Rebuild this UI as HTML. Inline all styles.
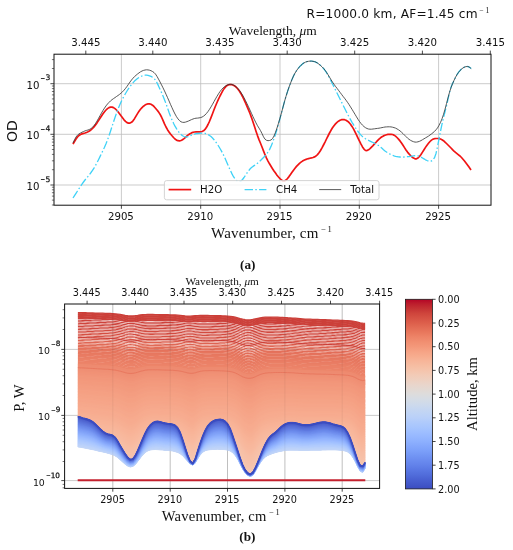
<!DOCTYPE html>
<html lang="en"><head><meta charset="utf-8"><title>Figure</title>
<style>
html,body{margin:0;padding:0;background:#fff;}
svg{display:block;}
.s{font-family:"DejaVu Sans","Liberation Sans",sans-serif;fill:#111;}
.f{font-family:"Liberation Serif","DejaVu Serif",serif;fill:#111;}
</style></head><body>
<svg width="513" height="550" viewBox="0 0 513 550">
<rect width="513" height="550" fill="#fff"/>
<g id="plot-a">
<g stroke="#bebebe" stroke-width="0.8"><line x1="121.4" y1="54.2" x2="121.4" y2="205.2"/><line x1="200.7" y1="54.2" x2="200.7" y2="205.2"/><line x1="280.0" y1="54.2" x2="280.0" y2="205.2"/><line x1="359.3" y1="54.2" x2="359.3" y2="205.2"/><line x1="438.6" y1="54.2" x2="438.6" y2="205.2"/><line x1="54.0" y1="83.7" x2="491.0" y2="83.7"/><line x1="54.0" y1="134.3" x2="491.0" y2="134.3"/><line x1="54.0" y1="185.0" x2="491.0" y2="185.0"/></g>
<clipPath id="c1"><rect x="54.0" y="54.2" width="437.0" height="151.0"/></clipPath>
<g clip-path="url(#c1)" fill="none" stroke-linejoin="round" stroke-linecap="butt">
<path d="M73 144.2L74.5 141.5L76 139L77.5 137L79 135.5L80.5 134.5L82 133.9L83.5 133.4L85 133L86.5 132.5L88 131.8L89.5 131L91 129.9L92.5 128.5L94 126.9L95.5 125L97 122.9L98.5 120.6L100 118.3L101.5 116L103 113.8L104.5 111.8L106 110L107.5 108.6L109 107.6L110.5 107.1L112 107.1L113.5 107.6L115 108.6L116.5 110L118 111.7L119.5 113.7L121 115.8L122.5 117.8L124 119.8L125.5 121.4L127 122.6L128.5 123.1L130 123.1L131.5 122.3L133 120.8L134.5 118.7L136 116.1L137.5 113.6L139 111.3L140.5 109.3L142 107.6L143.5 106.2L145 105.1L146.5 104.3L148 103.9L149.5 103.9L151 104.3L152.5 105.2L154 106.5L155.5 108.2L157 110L158.5 111.9L160 114.2L161.5 117L163 120.4L164.5 123.9L166 127L167.5 129.7L169 131.9L170.5 134L172 135.8L173.5 137.5L175 139L176.5 140.1L178 140.7L179.5 140.9L181 140.5L182.5 139.7L184 138.6L185.5 137.3L187 135.9L188.5 134.7L190 133.7L191.5 132.9L193 132.3L194.5 132L196 131.9L197.5 131.9L199 131.9L200.5 131.8L202 131.5L203.5 130.8L205 129.4L206.5 127.3L208 124.5L209.5 121.3L211 117.6L212.5 113.7L214 109.8L215.5 106L217 102.5L218.5 99.1L220 96L221.5 93.1L223 90.4L224.5 88.1L226 86.4L227.5 85.3L229 84.7L230.5 84.5L232 84.7L233.5 85.3L235 86.2L236.5 87.5L238 89.2L239.5 91.2L241 93.7L242.5 96.5L244 99.6L245.5 102.9L247 106.3L248.5 109.8L250 113.5L251.5 117.6L253 122L254.5 126.6L256 131.2L257.5 135.6L259 139.6L260.5 143.3L262 147L263.5 150.9L265 154.7L266.5 158.1L268 161.1L269.5 163.8L271 166.3L272.5 168.7L274 171L275.5 173.1L277 175.2L278.5 177L280 178.6L281.5 180L283 180.9L284.5 181L286 180.1L287.5 178.5L289 176.6L290.5 174.4L292 172.3L293.5 170.2L295 168.2L296.5 166.4L298 164.8L299.5 163.3L301 162.1L302.5 161.1L304 160.3L305.5 159.6L307 159L308.5 158.6L310 158.2L311.5 157.9L313 157.5L314.5 156.9L316 156L317.5 154.6L319 152.8L320.5 150.5L322 147.9L323.5 145L325 142.1L326.5 139L328 136L329.5 133L331 130.3L332.5 127.8L334 125.7L335.5 123.9L337 122.4L338.5 121.2L340 120.3L341.5 119.7L343 119.5L344.5 119.7L346 120.2L347.5 121.2L349 122.5L350.5 124.2L352 126.4L353.5 128.9L355 131.8L356.5 134.9L358 138.1L359.5 141.2L361 144.2L362.5 146.9L364 149.1L365.5 150.5L367 150.6L368.5 149.8L370 148.6L371.5 147.1L373 145.6L374.5 143.9L376 142.3L377.5 140.6L379 139.1L380.5 137.8L382 136.8L383.5 135.9L385 135.3L386.5 134.8L388 134.4L389.5 134.3L391 134.3L392.5 134.5L394 135.1L395.5 136.1L397 137.5L398.5 139.1L400 140.9L401.5 143L403 145.3L404.5 147.6L406 150L407.5 152.1L409 153.9L410.5 155.5L412 157L413.5 158.1L415 158.8L416.5 158.8L418 158L419.5 156.5L421 154.5L422.5 152.1L424 149.7L425.5 147.4L427 145.2L428.5 143.3L430 141.5L431.5 140.1L433 139.1L434.5 138.7L436 138.5L437.5 138.5L439 138.6L440.5 139L442 139.7L443.5 140.7L445 142.1L446.5 143.5L448 145L449.5 146.5L451 148L452.5 149.6L454 151.1L455.5 152.4L457 153.6L458.5 154.8L460 156L461.5 157.5L463 159.2L464.5 161L466 163L467.5 165L469 167.1L470.5 169.3L471 170" stroke="#f01414" stroke-width="1.7"/>
<path d="M73 198L74.5 195.7L76 193.3L77.5 191L79 188.7L80.5 186.3L82 184.1L83.5 182L85 180L86.5 178.2L88 176.4L89.5 174.5L91 172.5L92.5 170.4L94 168.1L95.5 165.5L97 162.7L98.5 159.7L100 156.6L101.5 153.5L103 150.4L104.5 147.2L106 143.8L107.5 140L109 135.8L110.5 131.3L112 126.6L113.5 122L115 117.5L116.5 113.2L118 109.2L119.5 105.5L121 102.1L122.5 99L124 96.2L125.5 93.5L127 91L128.5 88.7L130 86.5L131.5 84.5L133 82.7L134.5 81.1L136 79.7L137.5 78.5L139 77.5L140.5 76.7L142 76L143.5 75.5L145 75.2L146.5 75.2L148 75.4L149.5 75.8L151 76.4L152.5 77.2L154 78.3L155.5 80.2L157 82.8L158.5 85.9L160 89.2L161.5 92.5L163 96L164.5 99.7L166 103.7L167.5 107.9L169 112.2L170.5 116.2L172 119.9L173.5 123.2L175 126.2L176.5 128.7L178 131L179.5 132.9L181 134.4L182.5 135.7L184 136.5L185.5 137L187 136.9L188.5 136.5L190 135.8L191.5 135.1L193 134.5L194.5 134.1L196 133.7L197.5 133.5L199 133.3L200.5 133.1L202 133.1L203.5 133.2L205 133.4L206.5 133.8L208 134.5L209.5 135.4L211 136.5L212.5 138L214 139.7L215.5 141.6L217 143.8L218.5 146L220 148.5L221.5 151.1L223 154L224.5 157.1L226 160.4L227.5 163.9L229 167.4L230.5 170.7L232 173.9L233.5 176.7L235 178.9L236.5 180.5L238 181.4L239.5 181.5L241 180.9L242.5 179.5L244 177.5L245.5 175.3L247 173L248.5 170.9L250 169L251.5 167.6L253 166.4L254.5 165.4L256 164.4L257.5 163.2L259 161.9L260.5 160.5L262 159L263.5 157.5L265 156L266.5 154.2L268 152.2L269.5 149.6L271 146.4L272.5 142.7L274 138.6L275.5 134.2L277 129.4L278.5 124.1L280 118.6L281.5 112.9L283 107.1L284.5 101.5L286 96.3L287.5 91.6L289 87.2L290.5 83.2L292 79.4L293.5 76L295 73.1L296.5 70.7L298 68.6L299.5 66.8L301 65.3L302.5 63.9L304 62.9L305.5 62.1L307 61.6L308.5 61.3L310 61.1L311.5 61.1L313 61.3L314.5 61.6L316 62.2L317.5 63.1L319 64.2L320.5 65.4L322 66.8L323.5 68.5L325 70.4L326.5 72.6L328 75.2L329.5 78L331 80.9L332.5 84L334 87L335.5 90L337 93L338.5 96L340 99L341.5 102L343 105L344.5 108L346 111L347.5 114L349 116.9L350.5 119.6L352 122.3L353.5 124.7L355 127.1L356.5 129.3L358 131.5L359.5 133.4L361 135.1L362.5 136.6L364 137.8L365.5 138.8L367 139.7L368.5 140.4L370 141.1L371.5 141.8L373 142.5L374.5 143.2L376 144L377.5 144.9L379 145.8L380.5 147L382 148.3L383.5 149.7L385 150.9L386.5 152L388 152.9L389.5 153.8L391 154.5L392.5 155.2L394 155.8L395.5 156.3L397 156.6L398.5 156.9L400 157L401.5 157.1L403 157.1L404.5 157L406 156.9L407.5 156.7L409 156.6L410.5 156.4L412 156.1L413.5 155.8L415 155.6L416.5 155.6L418 155.9L419.5 156.4L421 157.1L422.5 158L424 158.9L425.5 159.8L427 160.5L428.5 161.1L430 161.3L431.5 161L433 160L434.5 157.7L436 153.5L437.5 146.9L439 138.9L440.5 131.3L442 124.2L443.5 117.6L445 111.8L446.5 105.9L448 99.1L449.5 92.4L451 87.3L452.5 83.6L454 80.5L455.5 77.4L457 74.7L458.5 72.4L460 70.5L461.5 69.1L463 67.9L464.5 67.1L466 66.6L467.5 66.5L469 66.9L470.5 68L471.2 68.6" stroke="#3fd2f7" stroke-width="1.3" stroke-dasharray="8.4 2.3 1.5 2.3"/>
<path d="M73 143L74.5 139.8L76 137L77.5 135.1L79 133.9L80.5 133L82 132.2L83.5 131.5L85 130.9L86.5 130.4L88 130L89.5 129.4L91 128.6L92.5 127.3L94 125.6L95.5 123.5L97 121.1L98.5 118.4L100 115.7L101.5 113L103 110.4L104.5 108.1L106 105.9L107.5 104L109 102.4L110.5 100.9L112 99.7L113.5 98.6L115 97.6L116.5 96.5L118 95.5L119.5 94.4L121 93.2L122.5 91.8L124 90.2L125.5 88.4L127 86.4L128.5 84.2L130 82L131.5 80L133 78.2L134.5 76.6L136 75.3L137.5 74L139 72.9L140.5 71.8L142 71L143.5 70.4L145 70L146.5 69.8L148 69.9L149.5 70.2L151 70.7L152.5 71.5L154 72.5L155.5 74.1L157 76.4L158.5 79.1L160 81.9L161.5 84.8L163 87.8L164.5 90.9L166 94.2L167.5 97.5L169 100.9L170.5 104.4L172 107.7L173.5 111L175 114L176.5 116.7L178 118.9L179.5 120.6L181 121.8L182.5 122.3L184 122.4L185.5 122.1L187 121.6L188.5 121L190 120.3L191.5 119.6L193 119L194.5 118.5L196 118.2L197.5 118.1L199 117.9L200.5 117.6L202 117.1L203.5 116.2L205 115L206.5 113.4L208 111.5L209.5 109.3L211 106.9L212.5 104.3L214 101.6L215.5 98.9L217 96.3L218.5 93.8L220 91.6L221.5 89.6L223 88L224.5 86.7L226 85.7L227.5 84.9L229 84.5L230.5 84.3L232 84.5L233.5 85.1L235 85.9L236.5 87.1L238 88.6L239.5 90.4L241 92.6L242.5 95L244 97.7L245.5 100.6L247 103.7L248.5 106.8L250 110.1L251.5 113.4L253 116.7L254.5 119.9L256 122.9L257.5 125.7L259 128.1L260.5 130.6L262 133.6L263.5 136.8L265 139.2L266.5 140.3L268 140.7L269.5 140.5L271 140L272.5 138.6L274 136L275.5 132.3L277 128L278.5 123.2L280 118.1L281.5 112.7L283 107.1L284.5 101.5L286 96.3L287.5 91.6L289 87.2L290.5 83.2L292 79.4L293.5 76L295 73.1L296.5 70.7L298 68.6L299.5 66.8L301 65.3L302.5 63.9L304 62.9L305.5 62.1L307 61.6L308.5 61.3L310 61.1L311.5 61.1L313 61.3L314.5 61.6L316 62.2L317.5 63.1L319 64.2L320.5 65.4L322 66.8L323.5 68.3L325 70.2L326.5 72.3L328 74.7L329.5 77.2L331 79.7L332.5 82.1L334 84.3L335.5 86.4L337 88.3L338.5 90.3L340 92.3L341.5 94.3L343 96.3L344.5 98.2L346 100.2L347.5 102.3L349 104.5L350.5 106.9L352 109.3L353.5 111.8L355 114.3L356.5 116.8L358 119.3L359.5 121.5L361 123.5L362.5 125.2L364 126.6L365.5 127.7L367 128.5L368.5 129L370 129.2L371.5 129.2L373 129L374.5 128.8L376 128.6L377.5 128.4L379 128.2L380.5 127.9L382 127.6L383.5 127.3L385 127L386.5 126.9L388 126.8L389.5 126.8L391 126.9L392.5 127.2L394 127.6L395.5 128.1L397 128.9L398.5 129.8L400 130.9L401.5 132.2L403 133.6L404.5 135.1L406 136.6L407.5 138.1L409 139.3L410.5 140.3L412 141.1L413.5 141.7L415 142.1L416.5 142.1L418 141.8L419.5 141.3L421 140.6L422.5 139.7L424 138.8L425.5 137.9L427 137L428.5 136.1L430 135L431.5 133.9L433 132.7L434.5 131.4L436 129.8L437.5 127.9L439 125.4L440.5 122.4L442 118.8L443.5 114.4L445 109.3L446.5 103.6L448 97.8L449.5 92.3L451 87.7L452.5 83.8L454 80.4L455.5 77.3L457 74.6L458.5 72.4L460 70.5L461.5 69.1L463 67.9L464.5 67.1L466 66.6L467.5 66.5L469 66.9L470.5 68L471.2 68.6" stroke="#333" stroke-width="0.9" stroke-opacity="0.9"/>
</g>
<rect x="164.4" y="180.6" width="214.6" height="19.2" rx="2.2" ry="2.2" fill="#fff" fill-opacity="0.8" stroke="#cfcfcf" stroke-width="0.9"/>
<line x1="168.6" y1="189.6" x2="191.2" y2="189.6" stroke="#f01414" stroke-width="1.7"/>
<line x1="244.6" y1="189.6" x2="266.4" y2="189.6" stroke="#3fd2f7" stroke-width="1.3" stroke-dasharray="8.4 2.3 1.5 2.3"/>
<line x1="319.2" y1="189.6" x2="341.2" y2="189.6" stroke="#333" stroke-width="0.9" stroke-opacity="0.9"/>
<g class="s" font-size="10.2"><text x="200" y="193.4">H2O</text><text x="276.1" y="193.4">CH4</text><text x="350.3" y="193.4">Total</text></g>
<rect x="54.0" y="54.2" width="437.0" height="151.0" fill="none" stroke="#111" stroke-width="1"/>
<g stroke="#1a1a1a" stroke-width="0.8"><line x1="121.4" y1="205.2" x2="121.4" y2="208.8"/><line x1="200.7" y1="205.2" x2="200.7" y2="208.8"/><line x1="280.0" y1="205.2" x2="280.0" y2="208.8"/><line x1="359.3" y1="205.2" x2="359.3" y2="208.8"/><line x1="438.6" y1="205.2" x2="438.6" y2="208.8"/><line x1="85.8" y1="54.2" x2="85.8" y2="50.6"/><line x1="152.8" y1="54.2" x2="152.8" y2="50.6"/><line x1="219.9" y1="54.2" x2="219.9" y2="50.6"/><line x1="287.2" y1="54.2" x2="287.2" y2="50.6"/><line x1="354.7" y1="54.2" x2="354.7" y2="50.6"/><line x1="422.4" y1="54.2" x2="422.4" y2="50.6"/><line x1="490.3" y1="54.2" x2="490.3" y2="50.6"/><line x1="54.0" y1="83.7" x2="50.4" y2="83.7"/><line x1="54.0" y1="134.3" x2="50.4" y2="134.3"/><line x1="54.0" y1="185.0" x2="50.4" y2="185.0"/></g><g stroke="#1a1a1a" stroke-width="0.6"><line x1="54.0" y1="68.5" x2="51.9" y2="68.5"/><line x1="54.0" y1="59.6" x2="51.9" y2="59.6"/><line x1="54.0" y1="119.1" x2="51.9" y2="119.1"/><line x1="54.0" y1="110.2" x2="51.9" y2="110.2"/><line x1="54.0" y1="103.8" x2="51.9" y2="103.8"/><line x1="54.0" y1="98.9" x2="51.9" y2="98.9"/><line x1="54.0" y1="94.9" x2="51.9" y2="94.9"/><line x1="54.0" y1="91.5" x2="51.9" y2="91.5"/><line x1="54.0" y1="88.6" x2="51.9" y2="88.6"/><line x1="54.0" y1="86.0" x2="51.9" y2="86.0"/><line x1="54.0" y1="169.7" x2="51.9" y2="169.7"/><line x1="54.0" y1="160.8" x2="51.9" y2="160.8"/><line x1="54.0" y1="154.4" x2="51.9" y2="154.4"/><line x1="54.0" y1="149.5" x2="51.9" y2="149.5"/><line x1="54.0" y1="145.5" x2="51.9" y2="145.5"/><line x1="54.0" y1="142.1" x2="51.9" y2="142.1"/><line x1="54.0" y1="139.2" x2="51.9" y2="139.2"/><line x1="54.0" y1="136.6" x2="51.9" y2="136.6"/><line x1="54.0" y1="205.0" x2="51.9" y2="205.0"/><line x1="54.0" y1="200.1" x2="51.9" y2="200.1"/><line x1="54.0" y1="196.1" x2="51.9" y2="196.1"/><line x1="54.0" y1="192.7" x2="51.9" y2="192.7"/><line x1="54.0" y1="189.8" x2="51.9" y2="189.8"/><line x1="54.0" y1="187.2" x2="51.9" y2="187.2"/></g>
<g class="s" font-size="10.2" text-anchor="middle"><text x="120.9" y="219.7">2905</text><text x="200.2" y="219.7">2910</text><text x="279.5" y="219.7">2915</text><text x="358.8" y="219.7">2920</text><text x="438.1" y="219.7">2925</text><text x="85.8" y="45.9">3.445</text><text x="152.8" y="45.9">3.440</text><text x="219.9" y="45.9">3.435</text><text x="287.2" y="45.9">3.430</text><text x="354.7" y="45.9">3.425</text><text x="422.4" y="45.9">3.420</text><text x="490.3" y="45.9">3.415</text></g>
<g class="s" font-size="10.2"><text x="26.5" y="88.6">10<tspan font-size="5.4" dx="1.1" dy="-8.6" stroke="#111" stroke-width="0.35">−</tspan><tspan font-size="7.6" dx="0.3" dy="0.4" stroke="#111" stroke-width="0.25">3</tspan></text><text x="26.5" y="139.2">10<tspan font-size="5.4" dx="1.1" dy="-8.6" stroke="#111" stroke-width="0.35">−</tspan><tspan font-size="7.6" dx="0.3" dy="0.4" stroke="#111" stroke-width="0.25">4</tspan></text><text x="26.5" y="189.9">10<tspan font-size="5.4" dx="1.1" dy="-8.6" stroke="#111" stroke-width="0.35">−</tspan><tspan font-size="7.6" dx="0.3" dy="0.4" stroke="#111" stroke-width="0.25">5</tspan></text></g>
<text class="s" font-size="14" text-anchor="middle" transform="translate(17.2 131.2) rotate(-90)">OD</text>
<text class="s" font-size="12.2" x="306.5" y="17.8" textLength="171" lengthAdjust="spacing">R=1000.0 km, AF=1.45 cm</text>
<text class="f" font-size="7.6" x="479.3" y="13.2" textLength="10" lengthAdjust="spacing">−1</text>
<text class="f" font-size="12.4" x="228.8" y="35.1" textLength="88" lengthAdjust="spacingAndGlyphs">Wavelength, <tspan font-style="italic">μ</tspan>m</text>
<text class="f" font-size="15" x="211.1" y="238.2" textLength="107.2" lengthAdjust="spacing">Wavenumber, cm</text>
<text class="f" font-size="8.6" x="321.2" y="232.3" textLength="10.6" lengthAdjust="spacing">−1</text>
<text class="f" font-size="13.2" font-weight="bold" x="247.7" y="269" text-anchor="middle">(a)</text>
</g>
<g id="plot-b">
<g stroke="#bebebe" stroke-width="0.8"><line x1="112.8" y1="304.0" x2="112.8" y2="488.4"/><line x1="170.2" y1="304.0" x2="170.2" y2="488.4"/><line x1="227.5" y1="304.0" x2="227.5" y2="488.4"/><line x1="284.9" y1="304.0" x2="284.9" y2="488.4"/><line x1="342.2" y1="304.0" x2="342.2" y2="488.4"/><line x1="64.6" y1="349.4" x2="379.6" y2="349.4"/><line x1="64.6" y1="415.4" x2="379.6" y2="415.4"/><line x1="64.6" y1="480.6" x2="379.6" y2="480.6"/></g>
<clipPath id="c2"><polygon points="77.7,310.0 80.2,310.1 82.7,310.1 85.2,310.2 87.7,310.3 90.2,310.4 92.7,310.4 95.2,310.5 97.7,310.6 100.2,310.6 102.7,310.7 105.2,310.8 107.7,310.9 110.2,311.0 112.7,311.1 115.2,311.3 117.7,311.6 120.2,311.9 122.7,312.3 125.2,312.8 127.7,313.1 130.2,313.3 132.7,313.3 135.2,313.1 137.7,312.8 140.2,312.5 142.7,312.2 145.2,312.0 147.7,312.0 150.2,311.9 152.7,312.0 155.2,312.0 157.7,312.1 160.2,312.1 162.7,312.2 165.2,312.2 167.7,312.3 170.2,312.3 172.7,312.4 175.2,312.5 177.7,312.6 180.2,312.8 182.7,313.1 185.2,313.4 187.7,313.6 190.2,313.6 192.7,313.4 195.2,313.2 197.7,313.0 200.2,312.9 202.7,312.9 205.2,312.9 207.7,313.0 210.2,313.0 212.7,313.1 215.2,313.1 217.7,313.2 220.2,313.2 222.7,313.3 225.2,313.4 227.7,313.6 230.2,313.8 232.7,314.2 235.2,314.7 237.7,315.4 240.2,316.1 242.7,316.8 245.2,317.3 247.7,317.5 250.2,317.3 252.7,316.9 255.2,316.4 257.7,315.8 260.2,315.3 262.7,314.9 265.2,314.7 267.7,314.6 270.2,314.6 272.7,314.6 275.2,314.7 277.7,314.8 280.2,314.8 282.7,315.0 285.2,315.1 287.7,315.2 290.2,315.3 292.7,315.5 295.2,315.7 297.7,315.9 300.2,316.1 302.7,316.3 305.2,316.5 307.7,316.6 310.2,316.7 312.7,316.8 315.2,316.9 317.7,316.9 320.2,317.0 322.7,317.1 325.2,317.2 327.7,317.3 330.2,317.4 332.7,317.5 335.2,317.6 337.7,317.7 340.2,317.8 342.7,317.9 345.2,318.0 347.7,318.1 350.2,318.3 352.7,318.5 355.2,319.0 357.7,319.6 360.2,320.3 362.7,320.8 365.2,320.8 365.3,320.8 365.3,462.8 365.2,463.0 362.7,466.6 360.2,466.0 357.7,460.6 355.2,453.1 352.7,445.3 350.2,438.4 347.7,433.0 345.2,429.3 342.7,427.3 340.2,426.4 337.7,425.8 335.2,425.2 332.7,424.5 330.2,423.7 327.7,423.1 325.2,422.7 322.7,422.7 320.2,423.0 317.7,423.5 315.2,424.1 312.7,424.7 310.2,425.2 307.7,425.5 305.2,425.5 302.7,425.3 300.2,424.7 297.7,424.0 295.2,423.5 292.7,423.2 290.2,423.2 287.7,423.6 285.2,424.5 282.7,426.1 280.2,428.1 277.7,430.7 275.2,433.0 272.7,434.8 270.2,436.9 267.7,440.2 265.2,444.7 262.7,450.3 260.2,456.5 257.7,462.8 255.2,468.6 252.7,473.2 250.2,474.8 247.7,473.7 245.2,470.5 242.7,465.4 240.2,458.6 237.7,450.9 235.2,443.4 232.7,435.9 230.2,429.0 227.7,424.5 225.2,421.9 222.7,420.4 220.2,419.9 217.7,420.1 215.2,420.7 212.7,421.8 210.2,423.6 207.7,426.4 205.2,430.7 202.7,436.4 200.2,443.3 197.7,451.1 195.2,459.4 192.7,463.8 190.2,461.6 187.7,455.6 185.2,447.9 182.7,439.8 180.2,432.8 177.7,428.3 175.2,425.9 172.7,424.8 170.2,424.3 167.7,424.1 165.2,423.7 162.7,423.1 160.2,422.4 157.7,421.9 155.2,422.2 152.7,423.4 150.2,425.5 147.7,428.8 145.2,433.4 142.7,439.0 140.2,445.0 137.7,450.9 135.2,456.2 132.7,459.6 130.2,460.0 127.7,457.9 125.2,454.3 122.7,450.2 120.2,446.0 117.7,441.5 115.2,437.9 112.7,435.9 110.2,435.2 107.7,434.6 105.2,433.5 102.7,431.7 100.2,429.4 97.7,426.9 95.2,424.4 92.7,422.3 90.2,420.9 87.7,419.9 85.2,419.2 82.7,418.5 80.2,417.7 77.7,417.0"/></clipPath>
<polygon points="77.7,362.7 80.2,362.8 82.7,362.9 85.2,363.1 87.7,363.2 90.2,363.3 92.7,363.4 95.2,363.6 97.7,363.7 100.2,363.8 102.7,364.0 105.2,364.1 107.7,364.2 110.2,364.4 112.7,364.6 115.2,364.9 117.7,365.4 120.2,366.0 122.7,366.6 125.2,367.3 127.7,367.8 130.2,368.1 132.7,368.0 135.2,367.6 137.7,366.9 140.2,366.2 142.7,365.6 145.2,365.2 147.7,364.9 150.2,364.8 152.7,364.8 155.2,364.8 157.7,364.8 160.2,364.9 162.7,365.0 165.2,365.1 167.7,365.1 170.2,365.2 172.7,365.3 175.2,365.4 177.7,365.7 180.2,366.0 182.7,366.5 185.2,367.1 187.7,367.6 190.2,367.9 192.7,367.9 195.2,367.5 197.7,366.8 200.2,366.3 202.7,365.9 205.2,365.7 207.7,365.7 210.2,365.7 212.7,365.7 215.2,365.7 217.7,365.8 220.2,365.8 222.7,365.9 225.2,366.0 227.7,366.2 230.2,366.6 232.7,367.1 235.2,367.9 237.7,368.9 240.2,370.2 242.7,371.4 245.2,372.2 247.7,372.7 250.2,372.8 252.7,372.3 255.2,371.3 257.7,370.2 260.2,369.3 262.7,368.6 265.2,368.1 267.7,367.8 270.2,367.6 272.7,367.6 275.2,367.5 277.7,367.5 280.2,367.5 282.7,367.5 285.2,367.6 287.7,367.7 290.2,367.8 292.7,368.0 295.2,368.1 297.7,368.3 300.2,368.5 302.7,368.7 305.2,368.8 307.7,368.9 310.2,369.0 312.7,369.1 315.2,369.1 317.7,369.2 320.2,369.3 322.7,369.3 325.2,369.4 327.7,369.5 330.2,369.6 332.7,369.7 335.2,369.8 337.7,369.9 340.2,370.0 342.7,370.1 345.2,370.2 347.7,370.5 350.2,370.8 352.7,371.5 355.2,372.4 357.7,373.6 360.2,374.7 362.7,375.3 365.2,374.8 365.3,374.8 365.3,462.7 365.2,462.9 362.7,466.5 360.2,465.9 357.7,460.5 355.2,453.0 352.7,445.2 350.2,438.3 347.7,432.9 345.2,429.2 342.7,427.2 340.2,426.3 337.7,425.7 335.2,425.1 332.7,424.4 330.2,423.6 327.7,423.0 325.2,422.6 322.7,422.6 320.2,422.9 317.7,423.4 315.2,424.0 312.7,424.6 310.2,425.1 307.7,425.4 305.2,425.4 302.7,425.2 300.2,424.6 297.7,423.9 295.2,423.4 292.7,423.1 290.2,423.1 287.7,423.5 285.2,424.4 282.7,426.0 280.2,428.0 277.7,430.6 275.2,432.9 272.7,434.7 270.2,436.8 267.7,440.1 265.2,444.6 262.7,450.2 260.2,456.4 257.7,462.7 255.2,468.5 252.7,473.1 250.2,474.7 247.7,473.6 245.2,470.4 242.7,465.3 240.2,458.5 237.7,450.8 235.2,443.3 232.7,435.8 230.2,428.9 227.7,424.4 225.2,421.8 222.7,420.3 220.2,419.8 217.7,420.0 215.2,420.6 212.7,421.7 210.2,423.5 207.7,426.3 205.2,430.6 202.7,436.3 200.2,443.2 197.7,451.0 195.2,459.3 192.7,463.7 190.2,461.5 187.7,455.5 185.2,447.8 182.7,439.7 180.2,432.7 177.7,428.2 175.2,425.8 172.7,424.7 170.2,424.2 167.7,424.0 165.2,423.6 162.7,423.0 160.2,422.3 157.7,421.8 155.2,422.1 152.7,423.3 150.2,425.4 147.7,428.7 145.2,433.3 142.7,438.9 140.2,444.9 137.7,450.8 135.2,456.1 132.7,459.5 130.2,459.9 127.7,457.8 125.2,454.2 122.7,450.1 120.2,445.9 117.7,441.4 115.2,437.8 112.7,435.8 110.2,435.1 107.7,434.5 105.2,433.4 102.7,431.6 100.2,429.3 97.7,426.8 95.2,424.3 92.7,422.2 90.2,420.8 87.7,419.8 85.2,419.1 82.7,418.4 80.2,417.6 77.7,416.9" fill="#f5a387" clip-path="url(#c2)"/>
<g clip-path="url(#c2)" fill="none" stroke-linejoin="round">
<path d="M77.7 312.5L80.2 312.6L82.7 312.6L85.2 312.7L87.7 312.8L90.2 312.8L92.7 312.9L95.2 313L97.7 313.1L100.2 313.1L102.7 313.2L105.2 313.3L107.7 313.4L110.2 313.4L112.7 313.6L115.2 313.8L117.7 314L120.2 314.4L122.7 314.8L125.2 315.3L127.7 315.6L130.2 315.8L132.7 315.8L135.2 315.6L137.7 315.3L140.2 314.9L142.7 314.7L145.2 314.5L147.7 314.4L150.2 314.4L152.7 314.4L155.2 314.5L157.7 314.5L160.2 314.6L162.7 314.6L165.2 314.7L167.7 314.7L170.2 314.8L172.7 314.8L175.2 314.9L177.7 315.1L180.2 315.3L182.7 315.6L185.2 315.9L187.7 316.1L190.2 316.1L192.7 315.9L195.2 315.7L197.7 315.5L200.2 315.4L202.7 315.4L205.2 315.4L207.7 315.4L210.2 315.5L212.7 315.5L215.2 315.6L217.7 315.6L220.2 315.7L222.7 315.8L225.2 315.9L227.7 316.1L230.2 316.3L232.7 316.7L235.2 317.2L237.7 317.8L240.2 318.6L242.7 319.2L245.2 319.7L247.7 319.9L250.2 319.8L252.7 319.4L255.2 318.8L257.7 318.3L260.2 317.8L262.7 317.4L265.2 317.2L267.7 317.1L270.2 317.1L272.7 317.1L275.2 317.2L277.7 317.2L280.2 317.3L282.7 317.4L285.2 317.5L287.7 317.7L290.2 317.8L292.7 318L295.2 318.2L297.7 318.4L300.2 318.6L302.7 318.8L305.2 319L307.7 319.1L310.2 319.2L312.7 319.3L315.2 319.4L317.7 319.4L320.2 319.5L322.7 319.6L325.2 319.7L327.7 319.8L330.2 319.9L332.7 320L335.2 320.1L337.7 320.2L340.2 320.3L342.7 320.4L345.2 320.5L347.7 320.6L350.2 320.8L352.7 321L355.2 321.5L357.7 322.1L360.2 322.8L362.7 323.2L365.2 323.3L365.3 323.3" stroke="#cb3e38" stroke-width="1.20"/>
<path d="M77.7 313.2L80.2 313.2L82.7 313.3L85.2 313.4L87.7 313.5L90.2 313.5L92.7 313.6L95.2 313.7L97.7 313.7L100.2 313.8L102.7 313.9L105.2 313.9L107.7 314L110.2 314.1L112.7 314.3L115.2 314.4L117.7 314.7L120.2 315.1L122.7 315.5L125.2 315.9L127.7 316.3L130.2 316.5L132.7 316.5L135.2 316.2L137.7 315.9L140.2 315.6L142.7 315.4L145.2 315.2L147.7 315.1L150.2 315.1L152.7 315.1L155.2 315.2L157.7 315.2L160.2 315.3L162.7 315.3L165.2 315.4L167.7 315.4L170.2 315.5L172.7 315.5L175.2 315.6L177.7 315.8L180.2 316L182.7 316.3L185.2 316.6L187.7 316.7L190.2 316.8L192.7 316.6L195.2 316.4L197.7 316.2L200.2 316.1L202.7 316.1L205.2 316.1L207.7 316.1L210.2 316.2L212.7 316.2L215.2 316.3L217.7 316.3L220.2 316.4L222.7 316.5L225.2 316.6L227.7 316.7L230.2 317L232.7 317.3L235.2 317.9L237.7 318.5L240.2 319.2L242.7 319.9L245.2 320.4L247.7 320.6L250.2 320.5L252.7 320.1L255.2 319.5L257.7 318.9L260.2 318.4L262.7 318.1L265.2 317.8L267.7 317.8L270.2 317.7L272.7 317.8L275.2 317.8L277.7 317.9L280.2 318L282.7 318.1L285.2 318.2L287.7 318.4L290.2 318.5L292.7 318.7L295.2 318.9L297.7 319.1L300.2 319.3L302.7 319.5L305.2 319.6L307.7 319.8L310.2 319.9L312.7 320L315.2 320L317.7 320.1L320.2 320.2L322.7 320.3L325.2 320.3L327.7 320.4L330.2 320.6L332.7 320.7L335.2 320.8L337.7 320.9L340.2 321L342.7 321.1L345.2 321.2L347.7 321.3L350.2 321.4L352.7 321.7L355.2 322.2L357.7 322.8L360.2 323.4L362.7 323.9L365.2 324L365.3 324" stroke="#cc403a" stroke-width="1.20"/>
<path d="M77.7 313.8L80.2 313.9L82.7 314L85.2 314.1L87.7 314.1L90.2 314.2L92.7 314.3L95.2 314.3L97.7 314.4L100.2 314.5L102.7 314.6L105.2 314.6L107.7 314.7L110.2 314.8L112.7 314.9L115.2 315.1L117.7 315.4L120.2 315.8L122.7 316.2L125.2 316.6L127.7 317L130.2 317.2L132.7 317.1L135.2 316.9L137.7 316.6L140.2 316.3L142.7 316L145.2 315.9L147.7 315.8L150.2 315.8L152.7 315.8L155.2 315.8L157.7 315.9L160.2 315.9L162.7 316L165.2 316L167.7 316.1L170.2 316.1L172.7 316.2L175.2 316.3L177.7 316.4L180.2 316.7L182.7 316.9L185.2 317.2L187.7 317.4L190.2 317.4L192.7 317.3L195.2 317.1L197.7 316.9L200.2 316.8L202.7 316.7L205.2 316.8L207.7 316.8L210.2 316.8L212.7 316.9L215.2 316.9L217.7 317L220.2 317.1L222.7 317.1L225.2 317.2L227.7 317.4L230.2 317.6L232.7 318L235.2 318.5L237.7 319.2L240.2 319.9L242.7 320.6L245.2 321.1L247.7 321.3L250.2 321.2L252.7 320.8L255.2 320.2L257.7 319.6L260.2 319.1L262.7 318.7L265.2 318.5L267.7 318.4L270.2 318.4L272.7 318.5L275.2 318.5L277.7 318.6L280.2 318.7L282.7 318.8L285.2 318.9L287.7 319L290.2 319.2L292.7 319.4L295.2 319.6L297.7 319.8L300.2 320L302.7 320.1L305.2 320.3L307.7 320.4L310.2 320.5L312.7 320.6L315.2 320.7L317.7 320.8L320.2 320.8L322.7 320.9L325.2 321L327.7 321.1L330.2 321.2L332.7 321.3L335.2 321.4L337.7 321.5L340.2 321.6L342.7 321.7L345.2 321.8L347.7 321.9L350.2 322.1L352.7 322.4L355.2 322.8L357.7 323.5L360.2 324.1L362.7 324.6L365.2 324.7L365.3 324.7" stroke="#cc403a" stroke-width="1.20"/>
<path d="M77.7 314.5L80.2 314.6L82.7 314.7L85.2 314.7L87.7 314.8L90.2 314.9L92.7 315L95.2 315L97.7 315.1L100.2 315.2L102.7 315.2L105.2 315.3L107.7 315.4L110.2 315.5L112.7 315.6L115.2 315.8L117.7 316.1L120.2 316.4L122.7 316.9L125.2 317.3L127.7 317.7L130.2 317.8L132.7 317.8L135.2 317.6L137.7 317.3L140.2 317L142.7 316.7L145.2 316.6L147.7 316.5L150.2 316.5L152.7 316.5L155.2 316.5L157.7 316.6L160.2 316.6L162.7 316.7L165.2 316.7L167.7 316.8L170.2 316.8L172.7 316.9L175.2 317L177.7 317.1L180.2 317.3L182.7 317.6L185.2 317.9L187.7 318.1L190.2 318.1L192.7 318L195.2 317.7L197.7 317.5L200.2 317.4L202.7 317.4L205.2 317.4L207.7 317.5L210.2 317.5L212.7 317.6L215.2 317.6L217.7 317.7L220.2 317.7L222.7 317.8L225.2 317.9L227.7 318.1L230.2 318.3L232.7 318.7L235.2 319.2L237.7 319.9L240.2 320.6L242.7 321.3L245.2 321.8L247.7 322L250.2 321.9L252.7 321.4L255.2 320.9L257.7 320.3L260.2 319.8L262.7 319.4L265.2 319.2L267.7 319.1L270.2 319.1L272.7 319.1L275.2 319.2L277.7 319.3L280.2 319.4L282.7 319.5L285.2 319.6L287.7 319.7L290.2 319.9L292.7 320L295.2 320.2L297.7 320.4L300.2 320.6L302.7 320.8L305.2 321L307.7 321.1L310.2 321.2L312.7 321.3L315.2 321.4L317.7 321.5L320.2 321.5L322.7 321.6L325.2 321.7L327.7 321.8L330.2 321.9L332.7 322L335.2 322.1L337.7 322.2L340.2 322.3L342.7 322.4L345.2 322.5L347.7 322.6L350.2 322.8L352.7 323.1L355.2 323.5L357.7 324.1L360.2 324.8L362.7 325.3L365.2 325.3L365.3 325.3" stroke="#cc403a" stroke-width="1.20"/>
<path d="M77.7 315.2L80.2 315.3L82.7 315.3L85.2 315.4L87.7 315.5L90.2 315.6L92.7 315.6L95.2 315.7L97.7 315.8L100.2 315.8L102.7 315.9L105.2 316L107.7 316.1L110.2 316.2L112.7 316.3L115.2 316.5L117.7 316.7L120.2 317.1L122.7 317.5L125.2 318L127.7 318.3L130.2 318.5L132.7 318.5L135.2 318.3L137.7 318L140.2 317.7L142.7 317.4L145.2 317.2L147.7 317.1L150.2 317.1L152.7 317.2L155.2 317.2L157.7 317.2L160.2 317.3L162.7 317.3L165.2 317.4L167.7 317.4L170.2 317.5L172.7 317.6L175.2 317.6L177.7 317.8L180.2 318L182.7 318.3L185.2 318.6L187.7 318.8L190.2 318.8L192.7 318.6L195.2 318.4L197.7 318.2L200.2 318.1L202.7 318.1L205.2 318.1L207.7 318.1L210.2 318.2L212.7 318.2L215.2 318.3L217.7 318.4L220.2 318.4L222.7 318.5L225.2 318.6L227.7 318.8L230.2 319L232.7 319.4L235.2 319.9L237.7 320.5L240.2 321.3L242.7 322L245.2 322.5L247.7 322.7L250.2 322.5L252.7 322.1L255.2 321.6L257.7 321L260.2 320.5L262.7 320.1L265.2 319.9L267.7 319.8L270.2 319.8L272.7 319.8L275.2 319.9L277.7 319.9L280.2 320L282.7 320.1L285.2 320.3L287.7 320.4L290.2 320.5L292.7 320.7L295.2 320.9L297.7 321.1L300.2 321.3L302.7 321.5L305.2 321.7L307.7 321.8L310.2 321.9L312.7 322L315.2 322.1L317.7 322.1L320.2 322.2L322.7 322.3L325.2 322.4L327.7 322.5L330.2 322.6L332.7 322.7L335.2 322.8L337.7 322.9L340.2 323L342.7 323.1L345.2 323.2L347.7 323.3L350.2 323.5L352.7 323.7L355.2 324.2L357.7 324.8L360.2 325.5L362.7 326L365.2 326L365.3 326" stroke="#cc403a" stroke-width="1.20"/>
<path d="M77.7 315.9L80.2 315.9L82.7 316L85.2 316.1L87.7 316.2L90.2 316.2L92.7 316.3L95.2 316.4L97.7 316.4L100.2 316.5L102.7 316.6L105.2 316.7L107.7 316.7L110.2 316.8L112.7 317L115.2 317.2L117.7 317.4L120.2 317.8L122.7 318.2L125.2 318.7L127.7 319L130.2 319.2L132.7 319.2L135.2 319L137.7 318.6L140.2 318.3L142.7 318.1L145.2 317.9L147.7 317.8L150.2 317.8L152.7 317.8L155.2 317.9L157.7 317.9L160.2 318L162.7 318L165.2 318.1L167.7 318.1L170.2 318.2L172.7 318.2L175.2 318.3L177.7 318.5L180.2 318.7L182.7 319L185.2 319.3L187.7 319.5L190.2 319.5L192.7 319.3L195.2 319.1L197.7 318.9L200.2 318.8L202.7 318.8L205.2 318.8L207.7 318.8L210.2 318.9L212.7 318.9L215.2 319L217.7 319L220.2 319.1L222.7 319.2L225.2 319.3L227.7 319.4L230.2 319.7L232.7 320.1L235.2 320.6L237.7 321.2L240.2 322L242.7 322.6L245.2 323.1L247.7 323.3L250.2 323.2L252.7 322.8L255.2 322.2L257.7 321.6L260.2 321.1L262.7 320.8L265.2 320.6L267.7 320.5L270.2 320.4L272.7 320.5L275.2 320.5L277.7 320.6L280.2 320.7L282.7 320.8L285.2 320.9L287.7 321.1L290.2 321.2L292.7 321.4L295.2 321.6L297.7 321.8L300.2 322L302.7 322.2L305.2 322.3L307.7 322.5L310.2 322.6L312.7 322.7L315.2 322.7L317.7 322.8L320.2 322.9L322.7 323L325.2 323.1L327.7 323.2L330.2 323.3L332.7 323.4L335.2 323.5L337.7 323.6L340.2 323.7L342.7 323.8L345.2 323.9L347.7 324L350.2 324.1L352.7 324.4L355.2 324.9L357.7 325.5L360.2 326.2L362.7 326.6L365.2 326.7L365.3 326.7" stroke="#cc403a" stroke-width="1.20"/>
<path d="M77.7 316.5L80.2 316.6L82.7 316.7L85.2 316.8L87.7 316.8L90.2 316.9L92.7 317L95.2 317.1L97.7 317.1L100.2 317.2L102.7 317.3L105.2 317.3L107.7 317.4L110.2 317.5L112.7 317.6L115.2 317.8L117.7 318.1L120.2 318.5L122.7 318.9L125.2 319.3L127.7 319.7L130.2 319.9L132.7 319.9L135.2 319.6L137.7 319.3L140.2 319L142.7 318.7L145.2 318.6L147.7 318.5L150.2 318.5L152.7 318.5L155.2 318.6L157.7 318.6L160.2 318.6L162.7 318.7L165.2 318.8L167.7 318.8L170.2 318.9L172.7 318.9L175.2 319L177.7 319.1L180.2 319.4L182.7 319.7L185.2 320L187.7 320.1L190.2 320.1L192.7 320L195.2 319.8L197.7 319.6L200.2 319.5L202.7 319.4L205.2 319.5L207.7 319.5L210.2 319.5L212.7 319.6L215.2 319.6L217.7 319.7L220.2 319.8L222.7 319.8L225.2 320L227.7 320.1L230.2 320.4L232.7 320.7L235.2 321.2L237.7 321.9L240.2 322.6L242.7 323.3L245.2 323.8L247.7 324L250.2 323.9L252.7 323.5L255.2 322.9L257.7 322.3L260.2 321.8L262.7 321.5L265.2 321.2L267.7 321.1L270.2 321.1L272.7 321.2L275.2 321.2L277.7 321.3L280.2 321.4L282.7 321.5L285.2 321.6L287.7 321.7L290.2 321.9L292.7 322.1L295.2 322.3L297.7 322.5L300.2 322.7L302.7 322.8L305.2 323L307.7 323.1L310.2 323.3L312.7 323.3L315.2 323.4L317.7 323.5L320.2 323.6L322.7 323.6L325.2 323.7L327.7 323.8L330.2 323.9L332.7 324L335.2 324.2L337.7 324.3L340.2 324.4L342.7 324.4L345.2 324.5L347.7 324.7L350.2 324.8L352.7 325.1L355.2 325.5L357.7 326.2L360.2 326.8L362.7 327.3L365.2 327.4L365.3 327.4" stroke="#cc403a" stroke-width="1.20"/>
<path d="M77.7 317.2L80.2 317.3L82.7 317.4L85.2 317.4L87.7 317.5L90.2 317.6L92.7 317.7L95.2 317.7L97.7 317.8L100.2 317.9L102.7 317.9L105.2 318L107.7 318.1L110.2 318.2L112.7 318.3L115.2 318.5L117.7 318.8L120.2 319.1L122.7 319.6L125.2 320L127.7 320.4L130.2 320.6L132.7 320.5L135.2 320.3L137.7 320L140.2 319.7L142.7 319.4L145.2 319.3L147.7 319.2L150.2 319.2L152.7 319.2L155.2 319.2L157.7 319.3L160.2 319.3L162.7 319.4L165.2 319.4L167.7 319.5L170.2 319.5L172.7 319.6L175.2 319.7L177.7 319.8L180.2 320L182.7 320.3L185.2 320.6L187.7 320.8L190.2 320.8L192.7 320.7L195.2 320.5L197.7 320.3L200.2 320.2L202.7 320.1L205.2 320.1L207.7 320.2L210.2 320.2L212.7 320.3L215.2 320.3L217.7 320.4L220.2 320.4L222.7 320.5L225.2 320.6L227.7 320.8L230.2 321L232.7 321.4L235.2 321.9L237.7 322.6L240.2 323.3L242.7 324L245.2 324.5L247.7 324.7L250.2 324.6L252.7 324.2L255.2 323.6L257.7 323L260.2 322.5L262.7 322.1L265.2 321.9L267.7 321.8L270.2 321.8L272.7 321.8L275.2 321.9L277.7 322L280.2 322.1L282.7 322.2L285.2 322.3L287.7 322.4L290.2 322.6L292.7 322.7L295.2 322.9L297.7 323.1L300.2 323.3L302.7 323.5L305.2 323.7L307.7 323.8L310.2 323.9L312.7 324L315.2 324.1L317.7 324.2L320.2 324.2L322.7 324.3L325.2 324.4L327.7 324.5L330.2 324.6L332.7 324.7L335.2 324.8L337.7 324.9L340.2 325L342.7 325.1L345.2 325.2L347.7 325.3L350.2 325.5L352.7 325.8L355.2 326.2L357.7 326.8L360.2 327.5L362.7 328L365.2 328.1L365.3 328.1" stroke="#cc403a" stroke-width="1.20"/>
<path d="M77.7 317.9L80.2 318L82.7 318L85.2 318.1L87.7 318.2L90.2 318.3L92.7 318.3L95.2 318.4L97.7 318.5L100.2 318.6L102.7 318.6L105.2 318.7L107.7 318.8L110.2 318.9L112.7 319L115.2 319.2L117.7 319.5L120.2 319.8L122.7 320.3L125.2 320.7L127.7 321.1L130.2 321.2L132.7 321.2L135.2 321L137.7 320.7L140.2 320.4L142.7 320.1L145.2 319.9L147.7 319.9L150.2 319.8L152.7 319.9L155.2 319.9L157.7 320L160.2 320L162.7 320.1L165.2 320.1L167.7 320.2L170.2 320.2L172.7 320.3L175.2 320.4L177.7 320.5L180.2 320.7L182.7 321L185.2 321.3L187.7 321.5L190.2 321.5L192.7 321.4L195.2 321.1L197.7 320.9L200.2 320.8L202.7 320.8L205.2 320.8L207.7 320.9L210.2 320.9L212.7 321L215.2 321L217.7 321.1L220.2 321.1L222.7 321.2L225.2 321.3L227.7 321.5L230.2 321.7L232.7 322.1L235.2 322.6L237.7 323.3L240.2 324L242.7 324.7L245.2 325.2L247.7 325.4L250.2 325.3L252.7 324.9L255.2 324.3L257.7 323.7L260.2 323.2L262.7 322.8L265.2 322.6L267.7 322.5L270.2 322.5L272.7 322.5L275.2 322.6L277.7 322.7L280.2 322.7L282.7 322.8L285.2 323L287.7 323.1L290.2 323.2L292.7 323.4L295.2 323.6L297.7 323.8L300.2 324L302.7 324.2L305.2 324.4L307.7 324.5L310.2 324.6L312.7 324.7L315.2 324.8L317.7 324.8L320.2 324.9L322.7 325L325.2 325.1L327.7 325.2L330.2 325.3L332.7 325.4L335.2 325.5L337.7 325.6L340.2 325.7L342.7 325.8L345.2 325.9L347.7 326L350.2 326.2L352.7 326.4L355.2 326.9L357.7 327.5L360.2 328.2L362.7 328.7L365.2 328.7L365.3 328.7" stroke="#cc403a" stroke-width="1.20"/>
<path d="M77.7 318.6L80.2 318.7L82.7 318.7L85.2 318.8L87.7 318.9L90.2 318.9L92.7 319L95.2 319.1L97.7 319.2L100.2 319.2L102.7 319.3L105.2 319.4L107.7 319.5L110.2 319.5L112.7 319.7L115.2 319.9L117.7 320.1L120.2 320.5L122.7 320.9L125.2 321.4L127.7 321.7L130.2 321.9L132.7 321.9L135.2 321.7L137.7 321.4L140.2 321L142.7 320.8L145.2 320.6L147.7 320.5L150.2 320.5L152.7 320.5L155.2 320.6L157.7 320.6L160.2 320.7L162.7 320.7L165.2 320.8L167.7 320.8L170.2 320.9L172.7 320.9L175.2 321L177.7 321.2L180.2 321.4L182.7 321.7L185.2 322L187.7 322.2L190.2 322.2L192.7 322L195.2 321.8L197.7 321.6L200.2 321.5L202.7 321.5L205.2 321.5L207.7 321.5L210.2 321.6L212.7 321.6L215.2 321.7L217.7 321.7L220.2 321.8L222.7 321.9L225.2 322L227.7 322.1L230.2 322.4L232.7 322.8L235.2 323.3L237.7 323.9L240.2 324.7L242.7 325.4L245.2 325.9L247.7 326.1L250.2 325.9L252.7 325.5L255.2 325L257.7 324.4L260.2 323.9L262.7 323.5L265.2 323.3L267.7 323.2L270.2 323.2L272.7 323.2L275.2 323.3L277.7 323.3L280.2 323.4L282.7 323.5L285.2 323.6L287.7 323.8L290.2 323.9L292.7 324.1L295.2 324.3L297.7 324.5L300.2 324.7L302.7 324.9L305.2 325L307.7 325.2L310.2 325.3L312.7 325.4L315.2 325.4L317.7 325.5L320.2 325.6L322.7 325.7L325.2 325.8L327.7 325.9L330.2 326L332.7 326.1L335.2 326.2L337.7 326.3L340.2 326.4L342.7 326.5L345.2 326.6L347.7 326.7L350.2 326.8L352.7 327.1L355.2 327.6L357.7 328.2L360.2 328.9L362.7 329.4L365.2 329.4L365.3 329.4" stroke="#cc403a" stroke-width="1.20"/>
<path d="M77.7 320.2L80.2 320.3L82.7 320.4L85.2 320.4L87.7 320.5L90.2 320.6L92.7 320.7L95.2 320.7L97.7 320.8L100.2 320.9L102.7 321L105.2 321L107.7 321.1L110.2 321.2L112.7 321.3L115.2 321.5L117.7 321.8L120.2 322.2L122.7 322.6L125.2 323L127.7 323.4L130.2 323.6L132.7 323.6L135.2 323.3L137.7 323L140.2 322.7L142.7 322.4L145.2 322.3L147.7 322.2L150.2 322.2L152.7 322.2L155.2 322.2L157.7 322.3L160.2 322.3L162.7 322.4L165.2 322.4L167.7 322.5L170.2 322.5L172.7 322.6L175.2 322.7L177.7 322.8L180.2 323L182.7 323.3L185.2 323.6L187.7 323.8L190.2 323.9L192.7 323.7L195.2 323.5L197.7 323.3L200.2 323.2L202.7 323.1L205.2 323.1L207.7 323.2L210.2 323.2L212.7 323.3L215.2 323.3L217.7 323.4L220.2 323.4L222.7 323.5L225.2 323.6L227.7 323.8L230.2 324L232.7 324.4L235.2 324.9L237.7 325.6L240.2 326.3L242.7 327L245.2 327.5L247.7 327.7L250.2 327.6L252.7 327.2L255.2 326.6L257.7 326L260.2 325.5L262.7 325.1L265.2 324.9L267.7 324.8L270.2 324.8L272.7 324.8L275.2 324.9L277.7 325L280.2 325.1L282.7 325.2L285.2 325.3L287.7 325.4L290.2 325.6L292.7 325.7L295.2 325.9L297.7 326.1L300.2 326.3L302.7 326.5L305.2 326.7L307.7 326.8L310.2 326.9L312.7 327L315.2 327.1L317.7 327.2L320.2 327.2L322.7 327.3L325.2 327.4L327.7 327.5L330.2 327.6L332.7 327.7L335.2 327.8L337.7 327.9L340.2 328L342.7 328.1L345.2 328.2L347.7 328.3L350.2 328.5L352.7 328.8L355.2 329.2L357.7 329.9L360.2 330.5L362.7 331L365.2 331.1L365.3 331.1" stroke="#cd423b" stroke-width="1.08"/>
<path d="M77.7 321.8L80.2 321.9L82.7 321.9L85.2 322L87.7 322.1L90.2 322.1L92.7 322.2L95.2 322.3L97.7 322.4L100.2 322.4L102.7 322.5L105.2 322.6L107.7 322.7L110.2 322.8L112.7 322.9L115.2 323.1L117.7 323.4L120.2 323.7L122.7 324.2L125.2 324.6L127.7 325L130.2 325.2L132.7 325.1L135.2 324.9L137.7 324.6L140.2 324.3L142.7 324L145.2 323.8L147.7 323.7L150.2 323.7L152.7 323.7L155.2 323.8L157.7 323.8L160.2 323.9L162.7 323.9L165.2 324L167.7 324L170.2 324.1L172.7 324.1L175.2 324.2L177.7 324.4L180.2 324.6L182.7 324.9L185.2 325.2L187.7 325.4L190.2 325.4L192.7 325.3L195.2 325L197.7 324.8L200.2 324.7L202.7 324.7L205.2 324.7L207.7 324.7L210.2 324.8L212.7 324.8L215.2 324.9L217.7 324.9L220.2 325L222.7 325.1L225.2 325.2L227.7 325.3L230.2 325.6L232.7 326L235.2 326.5L237.7 327.2L240.2 327.9L242.7 328.6L245.2 329.1L247.7 329.3L250.2 329.2L252.7 328.8L255.2 328.2L257.7 327.6L260.2 327.1L262.7 326.7L265.2 326.5L267.7 326.4L270.2 326.4L272.7 326.4L275.2 326.5L277.7 326.5L280.2 326.6L282.7 326.7L285.2 326.8L287.7 327L290.2 327.1L292.7 327.3L295.2 327.5L297.7 327.7L300.2 327.9L302.7 328.1L305.2 328.2L307.7 328.4L310.2 328.5L312.7 328.6L315.2 328.6L317.7 328.7L320.2 328.8L322.7 328.9L325.2 328.9L327.7 329L330.2 329.2L332.7 329.3L335.2 329.4L337.7 329.5L340.2 329.6L342.7 329.7L345.2 329.8L347.7 329.9L350.2 330L352.7 330.3L355.2 330.8L357.7 331.4L360.2 332.1L362.7 332.6L365.2 332.6L365.3 332.6" stroke="#cd423b" stroke-width="1.08"/>
<path d="M77.7 323.3L80.2 323.4L82.7 323.5L85.2 323.6L87.7 323.6L90.2 323.7L92.7 323.8L95.2 323.8L97.7 323.9L100.2 324L102.7 324.1L105.2 324.1L107.7 324.2L110.2 324.3L112.7 324.5L115.2 324.6L117.7 324.9L120.2 325.3L122.7 325.7L125.2 326.2L127.7 326.5L130.2 326.7L132.7 326.7L135.2 326.5L137.7 326.2L140.2 325.8L142.7 325.6L145.2 325.4L147.7 325.3L150.2 325.3L152.7 325.3L155.2 325.3L157.7 325.4L160.2 325.4L162.7 325.5L165.2 325.5L167.7 325.6L170.2 325.6L172.7 325.7L175.2 325.8L177.7 325.9L180.2 326.2L182.7 326.5L185.2 326.8L187.7 327L190.2 327L192.7 326.8L195.2 326.6L197.7 326.4L200.2 326.3L202.7 326.2L205.2 326.2L207.7 326.3L210.2 326.3L212.7 326.4L215.2 326.4L217.7 326.5L220.2 326.5L222.7 326.6L225.2 326.7L227.7 326.9L230.2 327.1L232.7 327.5L235.2 328L237.7 328.7L240.2 329.5L242.7 330.2L245.2 330.7L247.7 330.9L250.2 330.8L252.7 330.4L255.2 329.8L257.7 329.2L260.2 328.6L262.7 328.3L265.2 328L267.7 327.9L270.2 327.9L272.7 328L275.2 328L277.7 328.1L280.2 328.2L282.7 328.3L285.2 328.4L287.7 328.5L290.2 328.7L292.7 328.8L295.2 329L297.7 329.2L300.2 329.4L302.7 329.6L305.2 329.8L307.7 329.9L310.2 330L312.7 330.1L315.2 330.2L317.7 330.3L320.2 330.3L322.7 330.4L325.2 330.5L327.7 330.6L330.2 330.7L332.7 330.8L335.2 330.9L337.7 331L340.2 331.1L342.7 331.2L345.2 331.3L347.7 331.4L350.2 331.6L352.7 331.9L355.2 332.3L357.7 333L360.2 333.7L362.7 334.2L365.2 334.2L365.3 334.2" stroke="#cf453c" stroke-width="1.08"/>
<path d="M77.7 324.9L80.2 325L82.7 325L85.2 325.1L87.7 325.2L90.2 325.3L92.7 325.3L95.2 325.4L97.7 325.5L100.2 325.6L102.7 325.6L105.2 325.7L107.7 325.8L110.2 325.9L112.7 326L115.2 326.2L117.7 326.5L120.2 326.9L122.7 327.3L125.2 327.8L127.7 328.1L130.2 328.3L132.7 328.3L135.2 328.1L137.7 327.7L140.2 327.4L142.7 327.1L145.2 326.9L147.7 326.9L150.2 326.8L152.7 326.9L155.2 326.9L157.7 326.9L160.2 327L162.7 327L165.2 327.1L167.7 327.1L170.2 327.2L172.7 327.3L175.2 327.3L177.7 327.5L180.2 327.7L182.7 328L185.2 328.3L187.7 328.5L190.2 328.6L192.7 328.4L195.2 328.2L197.7 328L200.2 327.8L202.7 327.8L205.2 327.8L207.7 327.8L210.2 327.9L212.7 327.9L215.2 328L217.7 328L220.2 328.1L222.7 328.2L225.2 328.3L227.7 328.4L230.2 328.7L232.7 329.1L235.2 329.6L237.7 330.3L240.2 331L242.7 331.7L245.2 332.3L247.7 332.5L250.2 332.4L252.7 331.9L255.2 331.4L257.7 330.7L260.2 330.2L262.7 329.8L265.2 329.6L267.7 329.5L270.2 329.5L272.7 329.5L275.2 329.6L277.7 329.6L280.2 329.7L282.7 329.8L285.2 329.9L287.7 330.1L290.2 330.2L292.7 330.4L295.2 330.6L297.7 330.8L300.2 331L302.7 331.2L305.2 331.3L307.7 331.5L310.2 331.6L312.7 331.7L315.2 331.7L317.7 331.8L320.2 331.9L322.7 332L325.2 332L327.7 332.1L330.2 332.2L332.7 332.4L335.2 332.5L337.7 332.6L340.2 332.7L342.7 332.8L345.2 332.9L347.7 333L350.2 333.1L352.7 333.4L355.2 333.9L357.7 334.6L360.2 335.3L362.7 335.7L365.2 335.8L365.3 335.8" stroke="#d0473d" stroke-width="1.08"/>
<path d="M77.7 326.4L80.2 326.5L82.7 326.6L85.2 326.7L87.7 326.7L90.2 326.8L92.7 326.9L95.2 327L97.7 327L100.2 327.1L102.7 327.2L105.2 327.3L107.7 327.3L110.2 327.4L112.7 327.6L115.2 327.8L117.7 328.1L120.2 328.4L122.7 328.9L125.2 329.3L127.7 329.7L130.2 329.9L132.7 329.9L135.2 329.6L137.7 329.3L140.2 329L142.7 328.7L145.2 328.5L147.7 328.4L150.2 328.4L152.7 328.4L155.2 328.4L157.7 328.5L160.2 328.5L162.7 328.6L165.2 328.6L167.7 328.7L170.2 328.8L172.7 328.8L175.2 328.9L177.7 329.1L180.2 329.3L182.7 329.6L185.2 329.9L187.7 330.1L190.2 330.1L192.7 330L195.2 329.8L197.7 329.5L200.2 329.4L202.7 329.4L205.2 329.4L207.7 329.4L210.2 329.4L212.7 329.5L215.2 329.5L217.7 329.6L220.2 329.7L222.7 329.7L225.2 329.8L227.7 330L230.2 330.3L232.7 330.6L235.2 331.2L237.7 331.8L240.2 332.6L242.7 333.3L245.2 333.8L247.7 334.1L250.2 333.9L252.7 333.5L255.2 332.9L257.7 332.3L260.2 331.8L262.7 331.4L265.2 331.2L267.7 331.1L270.2 331L272.7 331.1L275.2 331.1L277.7 331.2L280.2 331.3L282.7 331.4L285.2 331.5L287.7 331.6L290.2 331.8L292.7 331.9L295.2 332.1L297.7 332.3L300.2 332.5L302.7 332.7L305.2 332.9L307.7 333L310.2 333.1L312.7 333.2L315.2 333.3L317.7 333.3L320.2 333.4L322.7 333.5L325.2 333.6L327.7 333.7L330.2 333.8L332.7 333.9L335.2 334L337.7 334.1L340.2 334.2L342.7 334.3L345.2 334.4L347.7 334.5L350.2 334.7L352.7 335L355.2 335.5L357.7 336.1L360.2 336.8L362.7 337.3L365.2 337.3L365.3 337.3" stroke="#d0473d" stroke-width="1.08"/>
<path d="M77.7 328L80.2 328.1L82.7 328.1L85.2 328.2L87.7 328.3L90.2 328.4L92.7 328.4L95.2 328.5L97.7 328.6L100.2 328.7L102.7 328.7L105.2 328.8L107.7 328.9L110.2 329L112.7 329.1L115.2 329.3L117.7 329.6L120.2 330L122.7 330.5L125.2 330.9L127.7 331.3L130.2 331.5L132.7 331.4L135.2 331.2L137.7 330.9L140.2 330.5L142.7 330.2L145.2 330.1L147.7 330L150.2 329.9L152.7 330L155.2 330L157.7 330L160.2 330.1L162.7 330.2L165.2 330.2L167.7 330.3L170.2 330.3L172.7 330.4L175.2 330.5L177.7 330.6L180.2 330.8L182.7 331.2L185.2 331.5L187.7 331.7L190.2 331.7L192.7 331.6L195.2 331.3L197.7 331.1L200.2 331L202.7 330.9L205.2 330.9L207.7 330.9L210.2 331L212.7 331L215.2 331.1L217.7 331.1L220.2 331.2L222.7 331.3L225.2 331.4L227.7 331.6L230.2 331.8L232.7 332.2L235.2 332.7L237.7 333.4L240.2 334.2L242.7 334.9L245.2 335.4L247.7 335.7L250.2 335.5L252.7 335.1L255.2 334.5L257.7 333.9L260.2 333.4L262.7 333L265.2 332.7L267.7 332.6L270.2 332.6L272.7 332.6L275.2 332.7L277.7 332.8L280.2 332.8L282.7 332.9L285.2 333L287.7 333.2L290.2 333.3L292.7 333.5L295.2 333.7L297.7 333.9L300.2 334.1L302.7 334.3L305.2 334.4L307.7 334.6L310.2 334.7L312.7 334.8L315.2 334.8L317.7 334.9L320.2 335L322.7 335L325.2 335.1L327.7 335.2L330.2 335.3L332.7 335.4L335.2 335.6L337.7 335.7L340.2 335.8L342.7 335.8L345.2 335.9L347.7 336.1L350.2 336.2L352.7 336.6L355.2 337L357.7 337.7L360.2 338.4L362.7 338.9L365.2 338.9L365.3 338.9" stroke="#d1493f" stroke-width="1.08"/>
<path d="M77.7 329.5L80.2 329.6L82.7 329.7L85.2 329.8L87.7 329.9L90.2 329.9L92.7 330L95.2 330.1L97.7 330.2L100.2 330.2L102.7 330.3L105.2 330.4L107.7 330.5L110.2 330.6L112.7 330.7L115.2 330.9L117.7 331.2L120.2 331.6L122.7 332L125.2 332.5L127.7 332.9L130.2 333.1L132.7 333L135.2 332.8L137.7 332.5L140.2 332.1L142.7 331.8L145.2 331.6L147.7 331.5L150.2 331.5L152.7 331.5L155.2 331.6L157.7 331.6L160.2 331.7L162.7 331.7L165.2 331.8L167.7 331.8L170.2 331.9L172.7 331.9L175.2 332L177.7 332.2L180.2 332.4L182.7 332.7L185.2 333L187.7 333.3L190.2 333.3L192.7 333.2L195.2 332.9L197.7 332.7L200.2 332.5L202.7 332.5L205.2 332.5L207.7 332.5L210.2 332.5L212.7 332.6L215.2 332.6L217.7 332.7L220.2 332.8L222.7 332.8L225.2 332.9L227.7 333.1L230.2 333.4L232.7 333.7L235.2 334.3L237.7 335L240.2 335.8L242.7 336.5L245.2 337L247.7 337.3L250.2 337.2L252.7 336.7L255.2 336.1L257.7 335.5L260.2 334.9L262.7 334.5L265.2 334.3L267.7 334.2L270.2 334.2L272.7 334.2L275.2 334.2L277.7 334.3L280.2 334.4L282.7 334.5L285.2 334.6L287.7 334.7L290.2 334.9L292.7 335L295.2 335.2L297.7 335.4L300.2 335.6L302.7 335.8L305.2 336L307.7 336.1L310.2 336.2L312.7 336.3L315.2 336.4L317.7 336.4L320.2 336.5L322.7 336.6L325.2 336.7L327.7 336.8L330.2 336.9L332.7 337L335.2 337.1L337.7 337.2L340.2 337.3L342.7 337.4L345.2 337.5L347.7 337.6L350.2 337.8L352.7 338.1L355.2 338.6L357.7 339.3L360.2 340L362.7 340.5L365.2 340.5L365.3 340.5" stroke="#d24b40" stroke-width="1.08"/>
<path d="M77.7 331.1L80.2 331.2L82.7 331.3L85.2 331.3L87.7 331.4L90.2 331.5L92.7 331.6L95.2 331.7L97.7 331.7L100.2 331.8L102.7 331.9L105.2 332L107.7 332L110.2 332.2L112.7 332.3L115.2 332.5L117.7 332.8L120.2 333.2L122.7 333.6L125.2 334.1L127.7 334.5L130.2 334.7L132.7 334.6L135.2 334.4L137.7 334.1L140.2 333.7L142.7 333.4L145.2 333.2L147.7 333.1L150.2 333.1L152.7 333.1L155.2 333.1L157.7 333.2L160.2 333.2L162.7 333.3L165.2 333.3L167.7 333.4L170.2 333.4L172.7 333.5L175.2 333.6L177.7 333.7L180.2 334L182.7 334.3L185.2 334.6L187.7 334.8L190.2 334.9L192.7 334.8L195.2 334.5L197.7 334.3L200.2 334.1L202.7 334L205.2 334L207.7 334.1L210.2 334.1L212.7 334.1L215.2 334.2L217.7 334.3L220.2 334.3L222.7 334.4L225.2 334.5L227.7 334.7L230.2 334.9L232.7 335.3L235.2 335.9L237.7 336.6L240.2 337.4L242.7 338.1L245.2 338.6L247.7 338.9L250.2 338.8L252.7 338.3L255.2 337.7L257.7 337.1L260.2 336.5L262.7 336.1L265.2 335.9L267.7 335.8L270.2 335.7L272.7 335.7L275.2 335.8L277.7 335.9L280.2 335.9L282.7 336L285.2 336.1L287.7 336.3L290.2 336.4L292.7 336.6L295.2 336.8L297.7 337L300.2 337.2L302.7 337.4L305.2 337.5L307.7 337.7L310.2 337.8L312.7 337.9L315.2 337.9L317.7 338L320.2 338.1L322.7 338.1L325.2 338.2L327.7 338.3L330.2 338.4L332.7 338.5L335.2 338.6L337.7 338.8L340.2 338.8L342.7 338.9L345.2 339L347.7 339.2L350.2 339.4L352.7 339.7L355.2 340.2L357.7 340.9L360.2 341.6L362.7 342.1L365.2 342.1L365.3 342.1" stroke="#d24b40" stroke-width="1.08"/>
<path d="M77.7 332.7L80.2 332.7L82.7 332.8L85.2 332.9L87.7 333L90.2 333.1L92.7 333.1L95.2 333.2L97.7 333.3L100.2 333.4L102.7 333.5L105.2 333.5L107.7 333.6L110.2 333.7L112.7 333.9L115.2 334.1L117.7 334.4L120.2 334.8L122.7 335.2L125.2 335.7L127.7 336.1L130.2 336.3L132.7 336.2L135.2 336L137.7 335.6L140.2 335.3L142.7 335L145.2 334.8L147.7 334.7L150.2 334.6L152.7 334.6L155.2 334.7L157.7 334.7L160.2 334.8L162.7 334.8L165.2 334.9L167.7 334.9L170.2 335L172.7 335.1L175.2 335.2L177.7 335.3L180.2 335.5L182.7 335.9L185.2 336.2L187.7 336.4L190.2 336.5L192.7 336.4L195.2 336.1L197.7 335.9L200.2 335.7L202.7 335.6L205.2 335.6L207.7 335.6L210.2 335.7L212.7 335.7L215.2 335.8L217.7 335.8L220.2 335.9L222.7 336L225.2 336.1L227.7 336.2L230.2 336.5L232.7 336.9L235.2 337.4L237.7 338.1L240.2 338.9L242.7 339.7L245.2 340.2L247.7 340.5L250.2 340.4L252.7 340L255.2 339.3L257.7 338.7L260.2 338.1L262.7 337.7L265.2 337.4L267.7 337.3L270.2 337.3L272.7 337.3L275.2 337.4L277.7 337.4L280.2 337.5L282.7 337.6L285.2 337.7L287.7 337.8L290.2 338L292.7 338.1L295.2 338.3L297.7 338.5L300.2 338.7L302.7 338.9L305.2 339.1L307.7 339.2L310.2 339.3L312.7 339.4L315.2 339.5L317.7 339.5L320.2 339.6L322.7 339.7L325.2 339.8L327.7 339.9L330.2 340L332.7 340.1L335.2 340.2L337.7 340.3L340.2 340.4L342.7 340.5L345.2 340.6L347.7 340.7L350.2 340.9L352.7 341.2L355.2 341.8L357.7 342.5L360.2 343.2L362.7 343.7L365.2 343.7L365.3 343.7" stroke="#d44e41" stroke-width="1.08"/>
<path d="M77.7 334.2L80.2 334.3L82.7 334.4L85.2 334.5L87.7 334.5L90.2 334.6L92.7 334.7L95.2 334.8L97.7 334.9L100.2 334.9L102.7 335L105.2 335.1L107.7 335.2L110.2 335.3L112.7 335.5L115.2 335.7L117.7 336L120.2 336.4L122.7 336.8L125.2 337.3L127.7 337.7L130.2 337.9L132.7 337.8L135.2 337.6L137.7 337.2L140.2 336.9L142.7 336.5L145.2 336.3L147.7 336.2L150.2 336.2L152.7 336.2L155.2 336.2L157.7 336.3L160.2 336.3L162.7 336.4L165.2 336.5L167.7 336.5L170.2 336.6L172.7 336.6L175.2 336.7L177.7 336.9L180.2 337.1L182.7 337.4L185.2 337.8L187.7 338L190.2 338.1L192.7 338L195.2 337.7L197.7 337.4L200.2 337.3L202.7 337.2L205.2 337.2L207.7 337.2L210.2 337.2L212.7 337.3L215.2 337.3L217.7 337.4L220.2 337.4L222.7 337.5L225.2 337.6L227.7 337.8L230.2 338L232.7 338.4L235.2 339L237.7 339.7L240.2 340.5L242.7 341.3L245.2 341.9L247.7 342.1L250.2 342L252.7 341.6L255.2 341L257.7 340.3L260.2 339.7L262.7 339.3L265.2 339L267.7 338.9L270.2 338.9L272.7 338.9L275.2 338.9L277.7 339L280.2 339.1L282.7 339.2L285.2 339.3L287.7 339.4L290.2 339.5L292.7 339.7L295.2 339.9L297.7 340.1L300.2 340.3L302.7 340.5L305.2 340.6L307.7 340.8L310.2 340.9L312.7 341L315.2 341L317.7 341.1L320.2 341.2L322.7 341.2L325.2 341.3L327.7 341.4L330.2 341.5L332.7 341.6L335.2 341.7L337.7 341.8L340.2 341.9L342.7 342L345.2 342.1L347.7 342.3L350.2 342.5L352.7 342.8L355.2 343.3L357.7 344.1L360.2 344.8L362.7 345.3L365.2 345.3L365.3 345.3" stroke="#d55042" stroke-width="1.08"/>
<path d="M77.7 335.8L80.2 335.9L82.7 335.9L85.2 336L87.7 336.1L90.2 336.2L92.7 336.3L95.2 336.4L97.7 336.4L100.2 336.5L102.7 336.6L105.2 336.7L107.7 336.8L110.2 336.9L112.7 337L115.2 337.2L117.7 337.5L120.2 338L122.7 338.4L125.2 338.9L127.7 339.3L130.2 339.5L132.7 339.5L135.2 339.2L137.7 338.8L140.2 338.4L142.7 338.1L145.2 337.9L147.7 337.8L150.2 337.8L152.7 337.8L155.2 337.8L157.7 337.9L160.2 337.9L162.7 338L165.2 338L167.7 338.1L170.2 338.1L172.7 338.2L175.2 338.3L177.7 338.4L180.2 338.7L182.7 339L185.2 339.4L187.7 339.6L190.2 339.7L192.7 339.6L195.2 339.3L197.7 339L200.2 338.8L202.7 338.7L205.2 338.7L207.7 338.7L210.2 338.8L212.7 338.8L215.2 338.9L217.7 338.9L220.2 339L222.7 339.1L225.2 339.2L227.7 339.3L230.2 339.6L232.7 340L235.2 340.6L237.7 341.3L240.2 342.1L242.7 342.9L245.2 343.5L247.7 343.7L250.2 343.6L252.7 343.2L255.2 342.6L257.7 341.9L260.2 341.3L262.7 340.9L265.2 340.6L267.7 340.5L270.2 340.4L272.7 340.4L275.2 340.5L277.7 340.6L280.2 340.6L282.7 340.7L285.2 340.8L287.7 340.9L290.2 341.1L292.7 341.3L295.2 341.4L297.7 341.6L300.2 341.8L302.7 342L305.2 342.2L307.7 342.3L310.2 342.4L312.7 342.5L315.2 342.6L317.7 342.6L320.2 342.7L322.7 342.8L325.2 342.9L327.7 343L330.2 343.1L332.7 343.2L335.2 343.3L337.7 343.4L340.2 343.5L342.7 343.6L345.2 343.7L347.7 343.8L350.2 344L352.7 344.4L355.2 344.9L357.7 345.6L360.2 346.4L362.7 346.9L365.2 346.9L365.3 346.9" stroke="#d65244" stroke-width="1.08"/>
<path d="M77.7 337.3L80.2 337.4L82.7 337.5L85.2 337.6L87.7 337.7L90.2 337.8L92.7 337.8L95.2 337.9L97.7 338L100.2 338.1L102.7 338.2L105.2 338.3L107.7 338.4L110.2 338.5L112.7 338.6L115.2 338.8L117.7 339.1L120.2 339.6L122.7 340L125.2 340.5L127.7 340.9L130.2 341.1L132.7 341.1L135.2 340.8L137.7 340.4L140.2 340L142.7 339.7L145.2 339.5L147.7 339.4L150.2 339.3L152.7 339.3L155.2 339.4L157.7 339.4L160.2 339.5L162.7 339.5L165.2 339.6L167.7 339.6L170.2 339.7L172.7 339.8L175.2 339.9L177.7 340L180.2 340.3L182.7 340.6L185.2 341L187.7 341.2L190.2 341.3L192.7 341.2L195.2 340.9L197.7 340.6L200.2 340.4L202.7 340.3L205.2 340.3L207.7 340.3L210.2 340.3L212.7 340.4L215.2 340.4L217.7 340.5L220.2 340.5L222.7 340.6L225.2 340.7L227.7 340.9L230.2 341.2L232.7 341.6L235.2 342.1L237.7 342.9L240.2 343.7L242.7 344.5L245.2 345.1L247.7 345.4L250.2 345.3L252.7 344.9L255.2 344.2L257.7 343.5L260.2 342.9L262.7 342.5L265.2 342.2L267.7 342L270.2 342L272.7 342L275.2 342.1L277.7 342.1L280.2 342.2L282.7 342.3L285.2 342.4L287.7 342.5L290.2 342.6L292.7 342.8L295.2 343L297.7 343.2L300.2 343.4L302.7 343.6L305.2 343.7L307.7 343.9L310.2 344L312.7 344L315.2 344.1L317.7 344.2L320.2 344.3L322.7 344.3L325.2 344.4L327.7 344.5L330.2 344.6L332.7 344.7L335.2 344.8L337.7 344.9L340.2 345L342.7 345.1L345.2 345.2L347.7 345.4L350.2 345.6L352.7 345.9L355.2 346.5L357.7 347.2L360.2 348L362.7 348.5L365.2 348.5L365.3 348.4" stroke="#d85646" stroke-width="1.08"/>
<path d="M77.7 338.9L80.2 339L82.7 339.1L85.2 339.2L87.7 339.2L90.2 339.3L92.7 339.4L95.2 339.5L97.7 339.6L100.2 339.7L102.7 339.8L105.2 339.8L107.7 339.9L110.2 340.1L112.7 340.2L115.2 340.4L117.7 340.7L120.2 341.2L122.7 341.7L125.2 342.1L127.7 342.5L130.2 342.7L132.7 342.7L135.2 342.4L137.7 342L140.2 341.6L142.7 341.3L145.2 341.1L147.7 340.9L150.2 340.9L152.7 340.9L155.2 340.9L157.7 341L160.2 341L162.7 341.1L165.2 341.2L167.7 341.2L170.2 341.3L172.7 341.3L175.2 341.4L177.7 341.6L180.2 341.8L182.7 342.2L185.2 342.6L187.7 342.8L190.2 342.9L192.7 342.8L195.2 342.5L197.7 342.2L200.2 342L202.7 341.9L205.2 341.9L207.7 341.9L210.2 341.9L212.7 341.9L215.2 342L217.7 342L220.2 342.1L222.7 342.2L225.2 342.3L227.7 342.5L230.2 342.7L232.7 343.1L235.2 343.7L237.7 344.5L240.2 345.3L242.7 346.1L245.2 346.7L247.7 347L250.2 346.9L252.7 346.5L255.2 345.8L257.7 345.1L260.2 344.5L262.7 344.1L265.2 343.8L267.7 343.6L270.2 343.6L272.7 343.6L275.2 343.6L277.7 343.7L280.2 343.7L282.7 343.8L285.2 343.9L287.7 344L290.2 344.2L292.7 344.4L295.2 344.5L297.7 344.7L300.2 344.9L302.7 345.1L305.2 345.3L307.7 345.4L310.2 345.5L312.7 345.6L315.2 345.7L317.7 345.7L320.2 345.8L322.7 345.9L325.2 346L327.7 346.1L330.2 346.2L332.7 346.3L335.2 346.4L337.7 346.5L340.2 346.6L342.7 346.7L345.2 346.8L347.7 346.9L350.2 347.1L352.7 347.5L355.2 348.1L357.7 348.8L360.2 349.6L362.7 350.1L365.2 350.1L365.3 350.1" stroke="#da5a49" stroke-width="1.08"/>
<path d="M77.7 340.5L80.2 340.6L82.7 340.6L85.2 340.7L87.7 340.8L90.2 340.9L92.7 341L95.2 341.1L97.7 341.2L100.2 341.3L102.7 341.3L105.2 341.4L107.7 341.5L110.2 341.6L112.7 341.8L115.2 342L117.7 342.3L120.2 342.8L122.7 343.3L125.2 343.8L127.7 344.2L130.2 344.4L132.7 344.3L135.2 344.1L137.7 343.7L140.2 343.2L142.7 342.9L145.2 342.6L147.7 342.5L150.2 342.5L152.7 342.5L155.2 342.5L157.7 342.5L160.2 342.6L162.7 342.7L165.2 342.7L167.7 342.8L170.2 342.8L172.7 342.9L175.2 343L177.7 343.2L180.2 343.4L182.7 343.8L185.2 344.2L187.7 344.4L190.2 344.5L192.7 344.4L195.2 344.1L197.7 343.8L200.2 343.6L202.7 343.5L205.2 343.4L207.7 343.4L210.2 343.5L212.7 343.5L215.2 343.6L217.7 343.6L220.2 343.7L222.7 343.7L225.2 343.9L227.7 344L230.2 344.3L232.7 344.7L235.2 345.3L237.7 346.1L240.2 347L242.7 347.8L245.2 348.4L247.7 348.7L250.2 348.6L252.7 348.2L255.2 347.5L257.7 346.7L260.2 346.1L262.7 345.6L265.2 345.4L267.7 345.2L270.2 345.2L272.7 345.2L275.2 345.2L277.7 345.2L280.2 345.3L282.7 345.4L285.2 345.5L287.7 345.6L290.2 345.7L292.7 345.9L295.2 346.1L297.7 346.3L300.2 346.5L302.7 346.7L305.2 346.8L307.7 347L310.2 347.1L312.7 347.2L315.2 347.2L317.7 347.3L320.2 347.4L322.7 347.4L325.2 347.5L327.7 347.6L330.2 347.7L332.7 347.8L335.2 347.9L337.7 348L340.2 348.1L342.7 348.2L345.2 348.3L347.7 348.5L350.2 348.7L352.7 349.1L355.2 349.7L357.7 350.5L360.2 351.2L362.7 351.7L365.2 351.7L365.3 351.7" stroke="#dd6351" stroke-width="1.10"/>
<path d="M77.7 342L80.2 342.1L82.7 342.2L85.2 342.3L87.7 342.4L90.2 342.5L92.7 342.6L95.2 342.7L97.7 342.7L100.2 342.8L102.7 342.9L105.2 343L107.7 343.1L110.2 343.2L112.7 343.4L115.2 343.6L117.7 343.9L120.2 344.4L122.7 344.9L125.2 345.4L127.7 345.8L130.2 346L132.7 346L135.2 345.7L137.7 345.3L140.2 344.8L142.7 344.5L145.2 344.2L147.7 344.1L150.2 344L152.7 344L155.2 344.1L157.7 344.1L160.2 344.2L162.7 344.2L165.2 344.3L167.7 344.3L170.2 344.4L172.7 344.5L175.2 344.6L177.7 344.7L180.2 345L182.7 345.4L185.2 345.8L187.7 346L190.2 346.2L192.7 346.1L195.2 345.8L197.7 345.4L200.2 345.2L202.7 345L205.2 345L207.7 345L210.2 345L212.7 345.1L215.2 345.1L217.7 345.2L220.2 345.2L222.7 345.3L225.2 345.4L227.7 345.6L230.2 345.9L232.7 346.3L235.2 346.9L237.7 347.7L240.2 348.6L242.7 349.4L245.2 350L247.7 350.3L250.2 350.2L252.7 349.8L255.2 349.1L257.7 348.4L260.2 347.7L262.7 347.2L265.2 346.9L267.7 346.8L270.2 346.7L272.7 346.7L275.2 346.8L277.7 346.8L280.2 346.9L282.7 346.9L285.2 347L287.7 347.2L290.2 347.3L292.7 347.5L295.2 347.7L297.7 347.9L300.2 348.1L302.7 348.2L305.2 348.4L307.7 348.5L310.2 348.6L312.7 348.7L315.2 348.8L317.7 348.8L320.2 348.9L322.7 349L325.2 349.1L327.7 349.2L330.2 349.3L332.7 349.4L335.2 349.5L337.7 349.6L340.2 349.7L342.7 349.8L345.2 349.9L347.7 350L350.2 350.3L352.7 350.7L355.2 351.3L357.7 352.1L360.2 352.9L362.7 353.4L365.2 353.3L365.3 353.3" stroke="#df6754" stroke-width="1.20"/>
<path d="M77.7 343.6L80.2 343.7L82.7 343.8L85.2 343.9L87.7 343.9L90.2 344L92.7 344.1L95.2 344.2L97.7 344.3L100.2 344.4L102.7 344.5L105.2 344.6L107.7 344.7L110.2 344.8L112.7 345L115.2 345.2L117.7 345.5L120.2 346L122.7 346.5L125.2 347L127.7 347.4L130.2 347.6L132.7 347.6L135.2 347.3L137.7 346.9L140.2 346.4L142.7 346L145.2 345.8L147.7 345.6L150.2 345.6L152.7 345.6L155.2 345.6L157.7 345.7L160.2 345.7L162.7 345.8L165.2 345.8L167.7 345.9L170.2 346L172.7 346L175.2 346.1L177.7 346.3L180.2 346.6L182.7 346.9L185.2 347.3L187.7 347.6L190.2 347.8L192.7 347.7L195.2 347.4L197.7 347L200.2 346.7L202.7 346.6L205.2 346.5L207.7 346.5L210.2 346.6L212.7 346.6L215.2 346.7L217.7 346.7L220.2 346.8L222.7 346.9L225.2 347L227.7 347.1L230.2 347.4L232.7 347.8L235.2 348.5L237.7 349.3L240.2 350.2L242.7 351L245.2 351.7L247.7 352L250.2 351.9L252.7 351.5L255.2 350.8L257.7 350L260.2 349.3L262.7 348.8L265.2 348.5L267.7 348.3L270.2 348.3L272.7 348.3L275.2 348.3L277.7 348.4L280.2 348.4L282.7 348.5L285.2 348.6L287.7 348.7L290.2 348.8L292.7 349L295.2 349.2L297.7 349.4L300.2 349.6L302.7 349.8L305.2 349.9L307.7 350.1L310.2 350.2L312.7 350.2L315.2 350.3L317.7 350.4L320.2 350.4L322.7 350.5L325.2 350.6L327.7 350.7L330.2 350.8L332.7 350.9L335.2 351L337.7 351.1L340.2 351.2L342.7 351.3L345.2 351.4L347.7 351.6L350.2 351.8L352.7 352.2L355.2 352.8L357.7 353.7L360.2 354.5L362.7 355L365.2 354.9L365.3 354.9" stroke="#e16b57" stroke-width="1.29"/>
<path d="M77.7 345.1L80.2 345.2L82.7 345.3L85.2 345.4L87.7 345.5L90.2 345.6L92.7 345.7L95.2 345.8L97.7 345.9L100.2 345.9L102.7 346L105.2 346.1L107.7 346.2L110.2 346.4L112.7 346.5L115.2 346.8L117.7 347.1L120.2 347.6L122.7 348.1L125.2 348.6L127.7 349L130.2 349.2L132.7 349.2L135.2 348.9L137.7 348.5L140.2 348L142.7 347.6L145.2 347.3L147.7 347.2L150.2 347.1L152.7 347.1L155.2 347.2L157.7 347.2L160.2 347.3L162.7 347.3L165.2 347.4L167.7 347.4L170.2 347.5L172.7 347.6L175.2 347.7L177.7 347.9L180.2 348.1L182.7 348.5L185.2 348.9L187.7 349.2L190.2 349.4L192.7 349.3L195.2 349L197.7 348.6L200.2 348.3L202.7 348.1L205.2 348.1L207.7 348.1L210.2 348.1L212.7 348.1L215.2 348.2L217.7 348.2L220.2 348.3L222.7 348.4L225.2 348.5L227.7 348.7L230.2 348.9L232.7 349.4L235.2 350L237.7 350.8L240.2 351.8L242.7 352.6L245.2 353.3L247.7 353.6L250.2 353.5L252.7 353.1L255.2 352.4L257.7 351.6L260.2 350.9L262.7 350.4L265.2 350.1L267.7 349.9L270.2 349.8L272.7 349.8L275.2 349.9L277.7 349.9L280.2 349.9L282.7 350L285.2 350.1L287.7 350.2L290.2 350.4L292.7 350.5L295.2 350.7L297.7 350.9L300.2 351.1L302.7 351.3L305.2 351.4L307.7 351.6L310.2 351.7L312.7 351.7L315.2 351.8L317.7 351.9L320.2 351.9L322.7 352L325.2 352.1L327.7 352.2L330.2 352.3L332.7 352.4L335.2 352.5L337.7 352.6L340.2 352.7L342.7 352.8L345.2 352.9L347.7 353.1L350.2 353.3L352.7 353.7L355.2 354.4L357.7 355.2L360.2 356.1L362.7 356.6L365.2 356.5L365.3 356.4" stroke="#e26d58" stroke-width="1.38"/>
<path d="M77.7 346.6L80.2 346.7L82.7 346.8L85.2 346.9L87.7 347L90.2 347.1L92.7 347.2L95.2 347.3L97.7 347.4L100.2 347.5L102.7 347.6L105.2 347.7L107.7 347.8L110.2 347.9L112.7 348.1L115.2 348.3L117.7 348.7L120.2 349.1L122.7 349.7L125.2 350.2L127.7 350.6L130.2 350.8L132.7 350.8L135.2 350.5L137.7 350L140.2 349.6L142.7 349.1L145.2 348.9L147.7 348.7L150.2 348.6L152.7 348.6L155.2 348.7L157.7 348.7L160.2 348.8L162.7 348.8L165.2 348.9L167.7 349L170.2 349L172.7 349.1L175.2 349.2L177.7 349.4L180.2 349.7L182.7 350L185.2 350.5L187.7 350.8L190.2 350.9L192.7 350.8L195.2 350.5L197.7 350.1L200.2 349.8L202.7 349.7L205.2 349.6L207.7 349.6L210.2 349.6L212.7 349.7L215.2 349.7L217.7 349.7L220.2 349.8L222.7 349.9L225.2 350L227.7 350.2L230.2 350.5L232.7 350.9L235.2 351.5L237.7 352.4L240.2 353.3L242.7 354.2L245.2 354.9L247.7 355.2L250.2 355.1L252.7 354.7L255.2 354L257.7 353.2L260.2 352.5L262.7 351.9L265.2 351.6L267.7 351.4L270.2 351.4L272.7 351.3L275.2 351.4L277.7 351.4L280.2 351.5L282.7 351.5L285.2 351.6L287.7 351.7L290.2 351.9L292.7 352L295.2 352.2L297.7 352.4L300.2 352.6L302.7 352.8L305.2 352.9L307.7 353.1L310.2 353.2L312.7 353.2L315.2 353.3L317.7 353.4L320.2 353.4L322.7 353.5L325.2 353.6L327.7 353.7L330.2 353.8L332.7 353.9L335.2 354L337.7 354.1L340.2 354.2L342.7 354.3L345.2 354.4L347.7 354.6L350.2 354.8L352.7 355.3L355.2 355.9L357.7 356.8L360.2 357.7L362.7 358.2L365.2 358L365.3 358" stroke="#e4705a" stroke-width="1.47"/>
<path d="M77.7 348.1L80.2 348.2L82.7 348.3L85.2 348.4L87.7 348.5L90.2 348.6L92.7 348.7L95.2 348.8L97.7 348.9L100.2 349L102.7 349.1L105.2 349.2L107.7 349.3L110.2 349.4L112.7 349.6L115.2 349.9L117.7 350.2L120.2 350.7L122.7 351.2L125.2 351.8L127.7 352.2L130.2 352.4L132.7 352.4L135.2 352.1L137.7 351.6L140.2 351.1L142.7 350.7L145.2 350.4L147.7 350.2L150.2 350.1L152.7 350.1L155.2 350.2L157.7 350.2L160.2 350.3L162.7 350.3L165.2 350.4L167.7 350.5L170.2 350.5L172.7 350.6L175.2 350.7L177.7 350.9L180.2 351.2L182.7 351.6L185.2 352L187.7 352.3L190.2 352.5L192.7 352.4L195.2 352.1L197.7 351.7L200.2 351.3L202.7 351.2L205.2 351.1L207.7 351.1L210.2 351.1L212.7 351.1L215.2 351.2L217.7 351.2L220.2 351.3L222.7 351.4L225.2 351.5L227.7 351.7L230.2 352L232.7 352.4L235.2 353L237.7 353.9L240.2 354.9L242.7 355.8L245.2 356.5L247.7 356.8L250.2 356.8L252.7 356.3L255.2 355.6L257.7 354.7L260.2 354L262.7 353.5L265.2 353.1L267.7 352.9L270.2 352.9L272.7 352.9L275.2 352.9L277.7 352.9L280.2 352.9L282.7 353L285.2 353.1L287.7 353.2L290.2 353.3L292.7 353.5L295.2 353.7L297.7 353.9L300.2 354.1L302.7 354.3L305.2 354.4L307.7 354.5L310.2 354.6L312.7 354.7L315.2 354.8L317.7 354.8L320.2 354.9L322.7 355L325.2 355.1L327.7 355.2L330.2 355.3L332.7 355.4L335.2 355.5L337.7 355.6L340.2 355.7L342.7 355.8L345.2 355.9L347.7 356.1L350.2 356.3L352.7 356.8L355.2 357.5L357.7 358.3L360.2 359.2L362.7 359.7L365.2 359.6L365.3 359.6" stroke="#e5725c" stroke-width="1.56"/>
<path d="M77.7 349.6L80.2 349.7L82.7 349.8L85.2 349.9L87.7 350L90.2 350.1L92.7 350.2L95.2 350.3L97.7 350.4L100.2 350.5L102.7 350.6L105.2 350.7L107.7 350.8L110.2 350.9L112.7 351.1L115.2 351.4L117.7 351.7L120.2 352.2L122.7 352.8L125.2 353.3L127.7 353.7L130.2 354L132.7 353.9L135.2 353.6L137.7 353.1L140.2 352.6L142.7 352.2L145.2 351.9L147.7 351.7L150.2 351.6L152.7 351.6L155.2 351.6L157.7 351.7L160.2 351.7L162.7 351.8L165.2 351.9L167.7 351.9L170.2 352L172.7 352.1L175.2 352.2L177.7 352.4L180.2 352.7L182.7 353.1L185.2 353.5L187.7 353.9L190.2 354L192.7 354L195.2 353.6L197.7 353.2L200.2 352.8L202.7 352.6L205.2 352.6L207.7 352.6L210.2 352.6L212.7 352.6L215.2 352.7L217.7 352.7L220.2 352.8L222.7 352.8L225.2 353L227.7 353.1L230.2 353.4L232.7 353.9L235.2 354.5L237.7 355.4L240.2 356.4L242.7 357.3L245.2 358L247.7 358.4L250.2 358.3L252.7 357.9L255.2 357.1L257.7 356.3L260.2 355.5L262.7 355L265.2 354.6L267.7 354.4L270.2 354.4L272.7 354.3L275.2 354.3L277.7 354.4L280.2 354.4L282.7 354.5L285.2 354.6L287.7 354.7L290.2 354.8L292.7 355L295.2 355.2L297.7 355.3L300.2 355.5L302.7 355.7L305.2 355.9L307.7 356L310.2 356.1L312.7 356.2L315.2 356.2L317.7 356.3L320.2 356.4L322.7 356.4L325.2 356.5L327.7 356.6L330.2 356.7L332.7 356.8L335.2 356.9L337.7 357L340.2 357.1L342.7 357.2L345.2 357.3L347.7 357.5L350.2 357.8L352.7 358.3L355.2 359L357.7 359.9L360.2 360.8L362.7 361.3L365.2 361.1L365.3 361.1" stroke="#e6765e" stroke-width="1.65"/>
<path d="M77.7 351L80.2 351.1L82.7 351.2L85.2 351.3L87.7 351.4L90.2 351.5L92.7 351.6L95.2 351.8L97.7 351.9L100.2 352L102.7 352.1L105.2 352.2L107.7 352.3L110.2 352.4L112.7 352.6L115.2 352.9L117.7 353.2L120.2 353.7L122.7 354.3L125.2 354.8L127.7 355.3L130.2 355.5L132.7 355.5L135.2 355.1L137.7 354.6L140.2 354.1L142.7 353.7L145.2 353.3L147.7 353.1L150.2 353.1L152.7 353.1L155.2 353.1L157.7 353.1L160.2 353.2L162.7 353.3L165.2 353.3L167.7 353.4L170.2 353.5L172.7 353.5L175.2 353.7L177.7 353.8L180.2 354.1L182.7 354.5L185.2 355L187.7 355.4L190.2 355.6L192.7 355.5L195.2 355.2L197.7 354.7L200.2 354.3L202.7 354.1L205.2 354L207.7 354L210.2 354L212.7 354.1L215.2 354.1L217.7 354.2L220.2 354.2L222.7 354.3L225.2 354.4L227.7 354.6L230.2 354.9L232.7 355.3L235.2 356L237.7 356.9L240.2 357.9L242.7 358.9L245.2 359.6L247.7 360L250.2 359.9L252.7 359.5L255.2 358.7L257.7 357.8L260.2 357.1L262.7 356.5L265.2 356.1L267.7 355.9L270.2 355.8L272.7 355.8L275.2 355.8L277.7 355.8L280.2 355.9L282.7 355.9L285.2 356L287.7 356.1L290.2 356.2L292.7 356.4L295.2 356.6L297.7 356.8L300.2 357L302.7 357.2L305.2 357.3L307.7 357.4L310.2 357.5L312.7 357.6L315.2 357.7L317.7 357.7L320.2 357.8L322.7 357.9L325.2 358L327.7 358L330.2 358.1L332.7 358.2L335.2 358.3L337.7 358.4L340.2 358.6L342.7 358.7L345.2 358.8L347.7 359L350.2 359.2L352.7 359.7L355.2 360.4L357.7 361.4L360.2 362.3L362.7 362.8L365.2 362.6L365.3 362.6" stroke="#e6765e" stroke-width="1.73"/>
<path d="M77.7 352.5L80.2 352.6L82.7 352.7L85.2 352.8L87.7 352.9L90.2 353L92.7 353.1L95.2 353.2L97.7 353.3L100.2 353.4L102.7 353.5L105.2 353.6L107.7 353.8L110.2 353.9L112.7 354.1L115.2 354.3L117.7 354.7L120.2 355.2L122.7 355.8L125.2 356.4L127.7 356.8L130.2 357.1L132.7 357L135.2 356.7L137.7 356.1L140.2 355.6L142.7 355.1L145.2 354.8L147.7 354.6L150.2 354.5L152.7 354.5L155.2 354.5L157.7 354.6L160.2 354.7L162.7 354.7L165.2 354.8L167.7 354.8L170.2 354.9L172.7 355L175.2 355.1L177.7 355.3L180.2 355.6L182.7 356L185.2 356.5L187.7 356.9L190.2 357.1L192.7 357L195.2 356.7L197.7 356.2L200.2 355.8L202.7 355.6L205.2 355.5L207.7 355.5L210.2 355.5L212.7 355.5L215.2 355.5L217.7 355.6L220.2 355.7L222.7 355.7L225.2 355.8L227.7 356L230.2 356.3L232.7 356.8L235.2 357.5L237.7 358.4L240.2 359.4L242.7 360.4L245.2 361.1L247.7 361.5L250.2 361.5L252.7 361L255.2 360.2L257.7 359.3L260.2 358.6L262.7 358L265.2 357.6L267.7 357.4L270.2 357.3L272.7 357.3L275.2 357.3L277.7 357.3L280.2 357.3L282.7 357.4L285.2 357.4L287.7 357.5L290.2 357.7L292.7 357.8L295.2 358L297.7 358.2L300.2 358.4L302.7 358.6L305.2 358.7L307.7 358.9L310.2 358.9L312.7 359L315.2 359.1L317.7 359.1L320.2 359.2L322.7 359.3L325.2 359.4L327.7 359.5L330.2 359.5L332.7 359.6L335.2 359.8L337.7 359.9L340.2 360L342.7 360.1L345.2 360.2L347.7 360.4L350.2 360.7L352.7 361.2L355.2 361.9L357.7 362.9L360.2 363.8L362.7 364.3L365.2 364.1L365.3 364.1" stroke="#e77860" stroke-width="1.78"/>
<path d="M77.7 353.9L80.2 354L82.7 354.1L85.2 354.2L87.7 354.3L90.2 354.4L92.7 354.5L95.2 354.6L97.7 354.8L100.2 354.9L102.7 355L105.2 355.1L107.7 355.2L110.2 355.3L112.7 355.5L115.2 355.8L117.7 356.2L120.2 356.7L122.7 357.3L125.2 357.9L127.7 358.3L130.2 358.6L132.7 358.5L135.2 358.2L137.7 357.6L140.2 357.1L142.7 356.6L145.2 356.2L147.7 356L150.2 355.9L152.7 355.9L155.2 356L157.7 356L160.2 356.1L162.7 356.1L165.2 356.2L167.7 356.3L170.2 356.3L172.7 356.4L175.2 356.5L177.7 356.7L180.2 357L182.7 357.5L185.2 358L187.7 358.4L190.2 358.6L192.7 358.5L195.2 358.2L197.7 357.7L200.2 357.2L202.7 357L205.2 356.9L207.7 356.9L210.2 356.9L212.7 356.9L215.2 357L217.7 357L220.2 357.1L222.7 357.1L225.2 357.3L227.7 357.4L230.2 357.7L232.7 358.2L235.2 358.9L237.7 359.8L240.2 360.9L242.7 361.9L245.2 362.7L247.7 363.1L250.2 363L252.7 362.6L255.2 361.8L257.7 360.8L260.2 360L262.7 359.4L265.2 359L267.7 358.8L270.2 358.7L272.7 358.7L275.2 358.7L277.7 358.7L280.2 358.7L282.7 358.8L285.2 358.8L287.7 358.9L290.2 359.1L292.7 359.2L295.2 359.4L297.7 359.6L300.2 359.8L302.7 360L305.2 360.1L307.7 360.3L310.2 360.3L312.7 360.4L315.2 360.5L317.7 360.5L320.2 360.6L322.7 360.7L325.2 360.8L327.7 360.8L330.2 360.9L332.7 361L335.2 361.1L337.7 361.2L340.2 361.4L342.7 361.5L345.2 361.6L347.7 361.8L350.2 362.1L352.7 362.6L355.2 363.4L357.7 364.4L360.2 365.3L362.7 365.8L365.2 365.6L365.3 365.6" stroke="#e87a61" stroke-width="1.78"/>
<path d="M77.7 355.3L80.2 355.4L82.7 355.5L85.2 355.6L87.7 355.7L90.2 355.8L92.7 355.9L95.2 356.1L97.7 356.2L100.2 356.3L102.7 356.4L105.2 356.5L107.7 356.6L110.2 356.8L112.7 357L115.2 357.3L117.7 357.6L120.2 358.2L122.7 358.8L125.2 359.4L127.7 359.8L130.2 360.1L132.7 360L135.2 359.7L137.7 359.1L140.2 358.5L142.7 358L145.2 357.6L147.7 357.4L150.2 357.4L152.7 357.3L155.2 357.4L157.7 357.4L160.2 357.5L162.7 357.5L165.2 357.6L167.7 357.7L170.2 357.7L172.7 357.8L175.2 358L177.7 358.2L180.2 358.5L182.7 358.9L185.2 359.4L187.7 359.8L190.2 360.1L192.7 360L195.2 359.6L197.7 359.1L200.2 358.7L202.7 358.4L205.2 358.3L207.7 358.3L210.2 358.3L212.7 358.3L215.2 358.3L217.7 358.4L220.2 358.5L222.7 358.5L225.2 358.7L227.7 358.8L230.2 359.1L232.7 359.6L235.2 360.3L237.7 361.3L240.2 362.4L242.7 363.4L245.2 364.2L247.7 364.6L250.2 364.6L252.7 364.1L255.2 363.3L257.7 362.3L260.2 361.5L262.7 360.9L265.2 360.5L267.7 360.2L270.2 360.1L272.7 360.1L275.2 360.1L277.7 360.1L280.2 360.1L282.7 360.2L285.2 360.2L287.7 360.3L290.2 360.5L292.7 360.6L295.2 360.8L297.7 361L300.2 361.2L302.7 361.4L305.2 361.5L307.7 361.6L310.2 361.7L312.7 361.8L315.2 361.9L317.7 361.9L320.2 362L322.7 362.1L325.2 362.1L327.7 362.2L330.2 362.3L332.7 362.4L335.2 362.5L337.7 362.6L340.2 362.7L342.7 362.8L345.2 363L347.7 363.2L350.2 363.5L352.7 364L355.2 364.8L357.7 365.8L360.2 366.8L362.7 367.3L365.2 367.1L365.3 367" stroke="#e97b63" stroke-width="1.78"/>
<path d="M77.7 356.7L80.2 356.8L82.7 356.9L85.2 357L87.7 357.1L90.2 357.2L92.7 357.3L95.2 357.5L97.7 357.6L100.2 357.7L102.7 357.8L105.2 357.9L107.7 358L110.2 358.2L112.7 358.4L115.2 358.7L117.7 359.1L120.2 359.6L122.7 360.2L125.2 360.8L127.7 361.3L130.2 361.6L132.7 361.5L135.2 361.1L137.7 360.6L140.2 360L142.7 359.4L145.2 359.1L147.7 358.8L150.2 358.7L152.7 358.7L155.2 358.8L157.7 358.8L160.2 358.9L162.7 358.9L165.2 359L167.7 359.1L170.2 359.1L172.7 359.2L175.2 359.3L177.7 359.6L180.2 359.9L182.7 360.3L185.2 360.8L187.7 361.3L190.2 361.5L192.7 361.5L195.2 361.1L197.7 360.5L200.2 360.1L202.7 359.8L205.2 359.7L207.7 359.7L210.2 359.7L212.7 359.7L215.2 359.7L217.7 359.8L220.2 359.8L222.7 359.9L225.2 360L227.7 360.2L230.2 360.5L232.7 361L235.2 361.7L237.7 362.7L240.2 363.8L242.7 364.9L245.2 365.7L247.7 366.1L250.2 366.1L252.7 365.6L255.2 364.8L257.7 363.8L260.2 362.9L262.7 362.3L265.2 361.9L267.7 361.6L270.2 361.5L272.7 361.5L275.2 361.5L277.7 361.5L280.2 361.5L282.7 361.5L285.2 361.6L287.7 361.7L290.2 361.8L292.7 362L295.2 362.2L297.7 362.4L300.2 362.6L302.7 362.7L305.2 362.9L307.7 363L310.2 363.1L312.7 363.2L315.2 363.2L317.7 363.3L320.2 363.3L322.7 363.4L325.2 363.5L327.7 363.6L330.2 363.7L332.7 363.8L335.2 363.9L337.7 364L340.2 364.1L342.7 364.2L345.2 364.3L347.7 364.5L350.2 364.8L352.7 365.4L355.2 366.2L357.7 367.3L360.2 368.3L362.7 368.8L365.2 368.5L365.3 368.5" stroke="#e97d64" stroke-width="1.78"/>
<path d="M77.7 358L80.2 358.2L82.7 358.3L85.2 358.4L87.7 358.5L90.2 358.6L92.7 358.7L95.2 358.8L97.7 359L100.2 359.1L102.7 359.2L105.2 359.3L107.7 359.4L110.2 359.6L112.7 359.8L115.2 360.1L117.7 360.5L120.2 361L122.7 361.7L125.2 362.3L127.7 362.8L130.2 363L132.7 363L135.2 362.6L137.7 362L140.2 361.4L142.7 360.8L145.2 360.4L147.7 360.2L150.2 360.1L152.7 360.1L155.2 360.1L157.7 360.2L160.2 360.2L162.7 360.3L165.2 360.4L167.7 360.4L170.2 360.5L172.7 360.6L175.2 360.7L177.7 360.9L180.2 361.3L182.7 361.7L185.2 362.2L187.7 362.7L190.2 363L192.7 362.9L195.2 362.5L197.7 362L200.2 361.5L202.7 361.2L205.2 361.1L207.7 361L210.2 361L212.7 361L215.2 361.1L217.7 361.1L220.2 361.2L222.7 361.3L225.2 361.4L227.7 361.6L230.2 361.9L232.7 362.4L235.2 363.1L237.7 364.1L240.2 365.3L242.7 366.3L245.2 367.1L247.7 367.6L250.2 367.6L252.7 367.1L255.2 366.2L257.7 365.2L260.2 364.4L262.7 363.7L265.2 363.3L267.7 363L270.2 362.9L272.7 362.9L275.2 362.8L277.7 362.8L280.2 362.9L282.7 362.9L285.2 363L287.7 363.1L290.2 363.2L292.7 363.3L295.2 363.5L297.7 363.7L300.2 363.9L302.7 364.1L305.2 364.2L307.7 364.3L310.2 364.4L312.7 364.5L315.2 364.6L317.7 364.6L320.2 364.7L322.7 364.8L325.2 364.8L327.7 364.9L330.2 365L332.7 365.1L335.2 365.2L337.7 365.3L340.2 365.4L342.7 365.5L345.2 365.7L347.7 365.9L350.2 366.2L352.7 366.8L355.2 367.6L357.7 368.7L360.2 369.7L362.7 370.3L365.2 369.9L365.3 369.9" stroke="#ea7f65" stroke-width="1.78"/>
<path d="M77.7 359.4L80.2 359.5L82.7 359.6L85.2 359.7L87.7 359.8L90.2 360L92.7 360.1L95.2 360.2L97.7 360.3L100.2 360.4L102.7 360.6L105.2 360.7L107.7 360.8L110.2 361L112.7 361.2L115.2 361.5L117.7 361.9L120.2 362.5L122.7 363.1L125.2 363.7L127.7 364.2L130.2 364.5L132.7 364.4L135.2 364L137.7 363.4L140.2 362.8L142.7 362.2L145.2 361.8L147.7 361.6L150.2 361.5L152.7 361.4L155.2 361.5L157.7 361.5L160.2 361.6L162.7 361.7L165.2 361.7L167.7 361.8L170.2 361.9L172.7 361.9L175.2 362.1L177.7 362.3L180.2 362.6L182.7 363.1L185.2 363.6L187.7 364.1L190.2 364.4L192.7 364.4L195.2 364L197.7 363.4L200.2 362.9L202.7 362.5L205.2 362.4L207.7 362.4L210.2 362.4L212.7 362.4L215.2 362.4L217.7 362.5L220.2 362.5L222.7 362.6L225.2 362.7L227.7 362.9L230.2 363.2L232.7 363.7L235.2 364.5L237.7 365.5L240.2 366.7L242.7 367.8L245.2 368.6L247.7 369.1L250.2 369.1L252.7 368.6L255.2 367.7L257.7 366.7L260.2 365.8L262.7 365.1L265.2 364.7L267.7 364.4L270.2 364.3L272.7 364.2L275.2 364.2L277.7 364.2L280.2 364.2L282.7 364.2L285.2 364.3L287.7 364.4L290.2 364.5L292.7 364.7L295.2 364.8L297.7 365L300.2 365.2L302.7 365.4L305.2 365.6L307.7 365.7L310.2 365.8L312.7 365.8L315.2 365.9L317.7 365.9L320.2 366L322.7 366.1L325.2 366.1L327.7 366.2L330.2 366.3L332.7 366.4L335.2 366.5L337.7 366.6L340.2 366.7L342.7 366.8L345.2 367L347.7 367.2L350.2 367.5L352.7 368.1L355.2 369L357.7 370.1L360.2 371.1L362.7 371.7L365.2 371.3L365.3 371.3" stroke="#eb8167" stroke-width="1.78"/>
<path d="M77.7 360.7L80.2 360.8L82.7 360.9L85.2 361.1L87.7 361.2L90.2 361.3L92.7 361.4L95.2 361.5L97.7 361.7L100.2 361.8L102.7 361.9L105.2 362L107.7 362.2L110.2 362.3L112.7 362.6L115.2 362.9L117.7 363.3L120.2 363.9L122.7 364.5L125.2 365.1L127.7 365.6L130.2 365.9L132.7 365.8L135.2 365.4L137.7 364.8L140.2 364.2L142.7 363.6L145.2 363.1L147.7 362.9L150.2 362.8L152.7 362.8L155.2 362.8L157.7 362.8L160.2 362.9L162.7 363L165.2 363.1L167.7 363.1L170.2 363.2L172.7 363.3L175.2 363.4L177.7 363.6L180.2 364L182.7 364.5L185.2 365L187.7 365.5L190.2 365.8L192.7 365.8L195.2 365.4L197.7 364.7L200.2 364.2L202.7 363.9L205.2 363.7L207.7 363.7L210.2 363.7L212.7 363.7L215.2 363.7L217.7 363.8L220.2 363.9L222.7 363.9L225.2 364L227.7 364.2L230.2 364.6L232.7 365.1L235.2 365.8L237.7 366.9L240.2 368.1L242.7 369.2L245.2 370.1L247.7 370.5L250.2 370.5L252.7 370L255.2 369.2L257.7 368.1L260.2 367.2L262.7 366.5L265.2 366L267.7 365.7L270.2 365.6L272.7 365.6L275.2 365.5L277.7 365.5L280.2 365.5L282.7 365.6L285.2 365.6L287.7 365.7L290.2 365.8L292.7 366L295.2 366.2L297.7 366.3L300.2 366.5L302.7 366.7L305.2 366.9L307.7 367L310.2 367.1L312.7 367.1L315.2 367.2L317.7 367.2L320.2 367.3L322.7 367.4L325.2 367.4L327.7 367.5L330.2 367.6L332.7 367.7L335.2 367.8L337.7 367.9L340.2 368L342.7 368.1L345.2 368.3L347.7 368.5L350.2 368.9L352.7 369.5L355.2 370.4L357.7 371.5L360.2 372.6L362.7 373.1L365.2 372.7L365.3 372.7" stroke="#eb8167" stroke-width="1.78"/>
<path d="M77.7 362L80.2 362.1L82.7 362.2L85.2 362.4L87.7 362.5L90.2 362.6L92.7 362.7L95.2 362.9L97.7 363L100.2 363.1L102.7 363.3L105.2 363.4L107.7 363.5L110.2 363.7L112.7 363.9L115.2 364.2L117.7 364.7L120.2 365.2L122.7 365.9L125.2 366.5L127.7 367L130.2 367.3L132.7 367.2L135.2 366.8L137.7 366.2L140.2 365.5L142.7 364.9L145.2 364.5L147.7 364.2L150.2 364.1L152.7 364.1L155.2 364.1L157.7 364.2L160.2 364.2L162.7 364.3L165.2 364.4L167.7 364.4L170.2 364.5L172.7 364.6L175.2 364.7L177.7 365L180.2 365.3L182.7 365.8L185.2 366.4L187.7 366.9L190.2 367.2L192.7 367.2L195.2 366.8L197.7 366.1L200.2 365.5L202.7 365.2L205.2 365.1L207.7 365L210.2 365L212.7 365L215.2 365L217.7 365.1L220.2 365.2L222.7 365.2L225.2 365.3L227.7 365.5L230.2 365.9L232.7 366.4L235.2 367.2L237.7 368.2L240.2 369.5L242.7 370.6L245.2 371.5L247.7 372L250.2 372L252.7 371.5L255.2 370.6L257.7 369.5L260.2 368.6L262.7 367.8L265.2 367.4L267.7 367.1L270.2 366.9L272.7 366.9L275.2 366.8L277.7 366.8L280.2 366.8L282.7 366.9L285.2 366.9L287.7 367L290.2 367.1L292.7 367.3L295.2 367.4L297.7 367.6L300.2 367.8L302.7 368L305.2 368.1L307.7 368.3L310.2 368.3L312.7 368.4L315.2 368.5L317.7 368.5L320.2 368.6L322.7 368.7L325.2 368.7L327.7 368.8L330.2 368.9L332.7 369L335.2 369.1L337.7 369.2L340.2 369.3L342.7 369.4L345.2 369.6L347.7 369.8L350.2 370.2L352.7 370.8L355.2 371.7L357.7 372.9L360.2 374L362.7 374.5L365.2 374.1L365.3 374.1" stroke="#ec8268" stroke-width="1.78"/>
<path d="M77.7 363.3L80.2 363.4L82.7 363.5L85.2 363.7L87.7 363.8L90.2 363.9L92.7 364L95.2 364.2L97.7 364.3L100.2 364.4L102.7 364.6L105.2 364.7L107.7 364.8L110.2 365L112.7 365.2L115.2 365.6L117.7 366L120.2 366.6L122.7 367.3L125.2 367.9L127.7 368.4L130.2 368.7L132.7 368.6L135.2 368.2L137.7 367.6L140.2 366.9L142.7 366.2L145.2 365.8L147.7 365.5L150.2 365.4L152.7 365.4L155.2 365.4L157.7 365.4L160.2 365.5L162.7 365.6L165.2 365.7L167.7 365.7L170.2 365.8L172.7 365.9L175.2 366L177.7 366.3L180.2 366.6L182.7 367.1L185.2 367.7L187.7 368.2L190.2 368.6L192.7 368.6L195.2 368.1L197.7 367.5L200.2 366.9L202.7 366.5L205.2 366.3L207.7 366.3L210.2 366.3L212.7 366.3L215.2 366.3L217.7 366.4L220.2 366.4L222.7 366.5L225.2 366.6L227.7 366.8L230.2 367.2L232.7 367.7L235.2 368.5L237.7 369.6L240.2 370.8L242.7 372L245.2 372.9L247.7 373.4L250.2 373.4L252.7 372.9L255.2 372L257.7 370.9L260.2 369.9L262.7 369.2L265.2 368.7L267.7 368.4L270.2 368.2L272.7 368.2L275.2 368.1L277.7 368.1L280.2 368.1L282.7 368.1L285.2 368.2L287.7 368.3L290.2 368.4L292.7 368.5L295.2 368.7L297.7 368.9L300.2 369.1L302.7 369.3L305.2 369.4L307.7 369.5L310.2 369.6L312.7 369.7L315.2 369.7L317.7 369.8L320.2 369.8L322.7 369.9L325.2 370L327.7 370.1L330.2 370.1L332.7 370.2L335.2 370.3L337.7 370.5L340.2 370.6L342.7 370.7L345.2 370.8L347.7 371L350.2 371.4L352.7 372.1L355.2 373L357.7 374.2L360.2 375.3L362.7 375.9L365.2 375.5L365.3 375.4" stroke="#ec8469" stroke-width="1.78"/>
<path d="M77.7 364.6L80.2 364.7L82.7 364.8L85.2 365L87.7 365.1L90.2 365.2L92.7 365.3L95.2 365.5L97.7 365.6L100.2 365.8L102.7 365.9L105.2 366L107.7 366.2L110.2 366.3L112.7 366.6L115.2 366.9L117.7 367.4L120.2 368L122.7 368.6L125.2 369.3L127.7 369.8L130.2 370.1L132.7 370L135.2 369.6L137.7 368.9L140.2 368.2L142.7 367.6L145.2 367.1L147.7 366.8L150.2 366.7L152.7 366.7L155.2 366.7L157.7 366.7L160.2 366.8L162.7 366.9L165.2 367L167.7 367L170.2 367.1L172.7 367.2L175.2 367.3L177.7 367.6L180.2 367.9L182.7 368.5L185.2 369.1L187.7 369.6L190.2 370L192.7 370L195.2 369.5L197.7 368.8L200.2 368.2L202.7 367.8L205.2 367.6L207.7 367.6L210.2 367.6L212.7 367.6L215.2 367.6L217.7 367.7L220.2 367.7L222.7 367.8L225.2 367.9L227.7 368.1L230.2 368.5L232.7 369L235.2 369.8L237.7 370.9L240.2 372.2L242.7 373.4L245.2 374.3L247.7 374.8L250.2 374.9L252.7 374.4L255.2 373.4L257.7 372.3L260.2 371.3L262.7 370.5L265.2 370L267.7 369.7L270.2 369.6L272.7 369.5L275.2 369.4L277.7 369.4L280.2 369.4L282.7 369.4L285.2 369.5L287.7 369.5L290.2 369.7L292.7 369.8L295.2 370L297.7 370.2L300.2 370.4L302.7 370.5L305.2 370.7L307.7 370.8L310.2 370.9L312.7 370.9L315.2 371L317.7 371L320.2 371.1L322.7 371.2L325.2 371.2L327.7 371.3L330.2 371.4L332.7 371.5L335.2 371.6L337.7 371.7L340.2 371.8L342.7 371.9L345.2 372.1L347.7 372.3L350.2 372.7L352.7 373.4L355.2 374.4L357.7 375.6L360.2 376.7L362.7 377.3L365.2 376.8L365.3 376.8" stroke="#ed866b" stroke-width="1.78"/>
<path d="M77.7 365.9L80.2 366L82.7 366.1L85.2 366.2L87.7 366.4L90.2 366.5L92.7 366.7L95.2 366.8L97.7 366.9L100.2 367.1L102.7 367.2L105.2 367.3L107.7 367.5L110.2 367.7L112.7 367.9L115.2 368.2L117.7 368.7L120.2 369.3L122.7 370L125.2 370.7L127.7 371.2L130.2 371.5L132.7 371.4L135.2 371L137.7 370.3L140.2 369.6L142.7 368.9L145.2 368.4L147.7 368.1L150.2 368L152.7 368L155.2 368L157.7 368L160.2 368.1L162.7 368.2L165.2 368.3L167.7 368.3L170.2 368.4L172.7 368.5L175.2 368.7L177.7 368.9L180.2 369.3L182.7 369.8L185.2 370.4L187.7 371L190.2 371.3L192.7 371.4L195.2 370.9L197.7 370.2L200.2 369.5L202.7 369.1L205.2 368.9L207.7 368.9L210.2 368.9L212.7 368.9L215.2 368.9L217.7 368.9L220.2 369L222.7 369.1L225.2 369.2L227.7 369.4L230.2 369.7L232.7 370.3L235.2 371.1L237.7 372.2L240.2 373.6L242.7 374.8L245.2 375.7L247.7 376.3L250.2 376.3L252.7 375.8L255.2 374.8L257.7 373.7L260.2 372.6L262.7 371.9L265.2 371.3L267.7 371L270.2 370.9L272.7 370.8L275.2 370.7L277.7 370.7L280.2 370.7L282.7 370.7L285.2 370.7L287.7 370.8L290.2 370.9L292.7 371.1L295.2 371.3L297.7 371.4L300.2 371.6L302.7 371.8L305.2 371.9L307.7 372.1L310.2 372.1L312.7 372.2L315.2 372.3L317.7 372.3L320.2 372.4L322.7 372.4L325.2 372.5L327.7 372.6L330.2 372.7L332.7 372.8L335.2 372.9L337.7 373L340.2 373.1L342.7 373.2L345.2 373.3L347.7 373.6L350.2 374L352.7 374.7L355.2 375.7L357.7 377L360.2 378.1L362.7 378.7L365.2 378.2L365.3 378.2" stroke="#ee8a6f" stroke-width="4.00"/>
<path d="M77.7 367.4L80.2 367.5L82.7 367.6L85.2 367.7L87.7 367.9L90.2 368L92.7 368.2L95.2 368.3L97.7 368.4L100.2 368.6L102.7 368.7L105.2 368.9L107.7 369L110.2 369.2L112.7 369.5L115.2 369.8L117.7 370.3L120.2 370.9L122.7 371.6L125.2 372.3L127.7 372.9L130.2 373.2L132.7 373.1L135.2 372.6L137.7 371.9L140.2 371.1L142.7 370.4L145.2 369.9L147.7 369.6L150.2 369.5L152.7 369.5L155.2 369.5L157.7 369.5L160.2 369.6L162.7 369.7L165.2 369.8L167.7 369.8L170.2 369.9L172.7 370L175.2 370.2L177.7 370.4L180.2 370.8L182.7 371.3L185.2 372L187.7 372.5L190.2 372.9L192.7 373L195.2 372.5L197.7 371.7L200.2 371L202.7 370.6L205.2 370.4L207.7 370.4L210.2 370.3L212.7 370.3L215.2 370.4L217.7 370.4L220.2 370.5L222.7 370.6L225.2 370.7L227.7 370.9L230.2 371.2L232.7 371.8L235.2 372.6L237.7 373.8L240.2 375.2L242.7 376.4L245.2 377.4L247.7 377.9L250.2 378L252.7 377.5L255.2 376.5L257.7 375.3L260.2 374.2L262.7 373.4L265.2 372.9L267.7 372.5L270.2 372.4L272.7 372.3L275.2 372.2L277.7 372.2L280.2 372.2L282.7 372.2L285.2 372.2L287.7 372.3L290.2 372.4L292.7 372.6L295.2 372.7L297.7 372.9L300.2 373.1L302.7 373.3L305.2 373.4L307.7 373.5L310.2 373.6L312.7 373.7L315.2 373.7L317.7 373.8L320.2 373.8L322.7 373.9L325.2 374L327.7 374L330.2 374.1L332.7 374.2L335.2 374.3L337.7 374.4L340.2 374.5L342.7 374.6L345.2 374.8L347.7 375L350.2 375.5L352.7 376.2L355.2 377.2L357.7 378.5L360.2 379.7L362.7 380.3L365.2 379.8L365.3 379.7" stroke="#ee8b71" stroke-width="4.00"/>
<path d="M77.7 368.9L80.2 369L82.7 369.1L85.2 369.2L87.7 369.4L90.2 369.5L92.7 369.7L95.2 369.8L97.7 370L100.2 370.1L102.7 370.3L105.2 370.4L107.7 370.6L110.2 370.8L112.7 371L115.2 371.4L117.7 371.8L120.2 372.5L122.7 373.2L125.2 373.9L127.7 374.5L130.2 374.8L132.7 374.7L135.2 374.2L137.7 373.5L140.2 372.7L142.7 372L145.2 371.5L147.7 371.1L150.2 371L152.7 371L155.2 371L157.7 371L160.2 371.1L162.7 371.2L165.2 371.3L167.7 371.3L170.2 371.4L172.7 371.5L175.2 371.7L177.7 371.9L180.2 372.3L182.7 372.9L185.2 373.5L187.7 374.1L190.2 374.5L192.7 374.6L195.2 374.1L197.7 373.3L200.2 372.6L202.7 372.1L205.2 371.9L207.7 371.9L210.2 371.8L212.7 371.8L215.2 371.9L217.7 371.9L220.2 372L222.7 372L225.2 372.2L227.7 372.4L230.2 372.7L232.7 373.3L235.2 374.2L237.7 375.3L240.2 376.7L242.7 378.1L245.2 379L247.7 379.6L250.2 379.7L252.7 379.2L255.2 378.1L257.7 376.9L260.2 375.8L262.7 375L265.2 374.4L267.7 374.1L270.2 373.9L272.7 373.8L275.2 373.7L277.7 373.7L280.2 373.7L282.7 373.7L285.2 373.7L287.7 373.8L290.2 373.9L292.7 374L295.2 374.2L297.7 374.4L300.2 374.6L302.7 374.7L305.2 374.9L307.7 375L310.2 375.1L312.7 375.1L315.2 375.2L317.7 375.2L320.2 375.3L322.7 375.3L325.2 375.4L327.7 375.5L330.2 375.6L332.7 375.7L335.2 375.8L337.7 375.9L340.2 376L342.7 376.1L345.2 376.3L347.7 376.5L350.2 376.9L352.7 377.7L355.2 378.8L357.7 380.1L360.2 381.3L362.7 381.9L365.2 381.4L365.3 381.3" stroke="#ef8d72" stroke-width="4.00"/>
<path d="M77.7 370.3L80.2 370.5L82.7 370.6L85.2 370.7L87.7 370.9L90.2 371L92.7 371.2L95.2 371.3L97.7 371.5L100.2 371.6L102.7 371.8L105.2 371.9L107.7 372.1L110.2 372.3L112.7 372.6L115.2 372.9L117.7 373.4L120.2 374.1L122.7 374.8L125.2 375.6L127.7 376.1L130.2 376.4L132.7 376.3L135.2 375.8L137.7 375.1L140.2 374.3L142.7 373.5L145.2 373L147.7 372.6L150.2 372.5L152.7 372.5L155.2 372.5L157.7 372.5L160.2 372.6L162.7 372.7L165.2 372.8L167.7 372.8L170.2 372.9L172.7 373L175.2 373.2L177.7 373.4L180.2 373.8L182.7 374.4L185.2 375.1L187.7 375.7L190.2 376.2L192.7 376.2L195.2 375.7L197.7 374.9L200.2 374.1L202.7 373.7L205.2 373.4L207.7 373.3L210.2 373.3L212.7 373.3L215.2 373.3L217.7 373.4L220.2 373.4L222.7 373.5L225.2 373.7L227.7 373.9L230.2 374.2L232.7 374.8L235.2 375.7L237.7 376.9L240.2 378.3L242.7 379.7L245.2 380.7L247.7 381.3L250.2 381.4L252.7 380.8L255.2 379.8L257.7 378.5L260.2 377.4L262.7 376.5L265.2 376L267.7 375.6L270.2 375.4L272.7 375.3L275.2 375.2L277.7 375.2L280.2 375.1L282.7 375.1L285.2 375.2L287.7 375.2L290.2 375.3L292.7 375.5L295.2 375.7L297.7 375.8L300.2 376L302.7 376.2L305.2 376.3L307.7 376.4L310.2 376.5L312.7 376.6L315.2 376.6L317.7 376.7L320.2 376.7L322.7 376.8L325.2 376.9L327.7 376.9L330.2 377L332.7 377.1L335.2 377.2L337.7 377.3L340.2 377.4L342.7 377.6L345.2 377.7L347.7 378L350.2 378.4L352.7 379.2L355.2 380.3L357.7 381.7L360.2 383L362.7 383.5L365.2 383L365.3 382.9" stroke="#ef8f74" stroke-width="4.00"/>
<path d="M77.7 371.8L80.2 372L82.7 372.1L85.2 372.2L87.7 372.4L90.2 372.5L92.7 372.7L95.2 372.9L97.7 373L100.2 373.2L102.7 373.3L105.2 373.5L107.7 373.7L110.2 373.9L112.7 374.1L115.2 374.5L117.7 375L120.2 375.7L122.7 376.4L125.2 377.2L127.7 377.8L130.2 378.1L132.7 378L135.2 377.5L137.7 376.7L140.2 375.8L142.7 375.1L145.2 374.5L147.7 374.2L150.2 374L152.7 374L155.2 374L157.7 374L160.2 374.1L162.7 374.2L165.2 374.3L167.7 374.3L170.2 374.4L172.7 374.5L175.2 374.7L177.7 375L180.2 375.4L182.7 375.9L185.2 376.7L187.7 377.3L190.2 377.8L192.7 377.8L195.2 377.3L197.7 376.4L200.2 375.7L202.7 375.2L205.2 374.9L207.7 374.8L210.2 374.8L212.7 374.8L215.2 374.8L217.7 374.9L220.2 374.9L222.7 375L225.2 375.1L227.7 375.4L230.2 375.7L232.7 376.3L235.2 377.2L237.7 378.5L240.2 379.9L242.7 381.3L245.2 382.4L247.7 383L250.2 383.1L252.7 382.5L255.2 381.5L257.7 380.1L260.2 379L262.7 378.1L265.2 377.5L267.7 377.1L270.2 376.9L272.7 376.8L275.2 376.7L277.7 376.7L280.2 376.6L282.7 376.6L285.2 376.6L287.7 376.7L290.2 376.8L292.7 377L295.2 377.1L297.7 377.3L300.2 377.5L302.7 377.7L305.2 377.8L307.7 377.9L310.2 378L312.7 378L315.2 378.1L317.7 378.1L320.2 378.2L322.7 378.3L325.2 378.3L327.7 378.4L330.2 378.5L332.7 378.6L335.2 378.7L337.7 378.8L340.2 378.9L342.7 379L345.2 379.2L347.7 379.4L350.2 379.9L352.7 380.7L355.2 381.9L357.7 383.3L360.2 384.6L362.7 385.2L365.2 384.5L365.3 384.5" stroke="#f09075" stroke-width="4.00"/>
<path d="M77.7 373.3L80.2 373.5L82.7 373.6L85.2 373.8L87.7 373.9L90.2 374.1L92.7 374.2L95.2 374.4L97.7 374.5L100.2 374.7L102.7 374.9L105.2 375L107.7 375.2L110.2 375.4L112.7 375.7L115.2 376L117.7 376.6L120.2 377.3L122.7 378.1L125.2 378.8L127.7 379.4L130.2 379.7L132.7 379.6L135.2 379.1L137.7 378.3L140.2 377.4L142.7 376.6L145.2 376L147.7 375.7L150.2 375.5L152.7 375.5L155.2 375.5L157.7 375.5L160.2 375.6L162.7 375.7L165.2 375.8L167.7 375.9L170.2 375.9L172.7 376L175.2 376.2L177.7 376.5L180.2 376.9L182.7 377.5L185.2 378.2L187.7 378.9L190.2 379.4L192.7 379.5L195.2 378.9L197.7 378L200.2 377.2L202.7 376.7L205.2 376.4L207.7 376.3L210.2 376.3L212.7 376.3L215.2 376.3L217.7 376.4L220.2 376.4L222.7 376.5L225.2 376.6L227.7 376.8L230.2 377.2L232.7 377.8L235.2 378.7L237.7 380L240.2 381.5L242.7 383L245.2 384L247.7 384.7L250.2 384.8L252.7 384.2L255.2 383.1L257.7 381.8L260.2 380.6L262.7 379.7L265.2 379L267.7 378.7L270.2 378.5L272.7 378.3L275.2 378.2L277.7 378.2L280.2 378.1L282.7 378.1L285.2 378.1L287.7 378.2L290.2 378.3L292.7 378.4L295.2 378.6L297.7 378.8L300.2 379L302.7 379.1L305.2 379.3L307.7 379.4L310.2 379.4L312.7 379.5L315.2 379.5L317.7 379.6L320.2 379.7L322.7 379.7L325.2 379.8L327.7 379.8L330.2 379.9L332.7 380L335.2 380.1L337.7 380.2L340.2 380.3L342.7 380.5L345.2 380.6L347.7 380.9L350.2 381.4L352.7 382.2L355.2 383.4L357.7 384.9L360.2 386.2L362.7 386.8L365.2 386.1L365.3 386.1" stroke="#f19276" stroke-width="4.00"/>
<path d="M77.7 374.8L80.2 375L82.7 375.1L85.2 375.3L87.7 375.4L90.2 375.6L92.7 375.7L95.2 375.9L97.7 376.1L100.2 376.2L102.7 376.4L105.2 376.6L107.7 376.7L110.2 377L112.7 377.2L115.2 377.6L117.7 378.2L120.2 378.9L122.7 379.7L125.2 380.5L127.7 381.1L130.2 381.4L132.7 381.3L135.2 380.7L137.7 379.9L140.2 379L142.7 378.2L145.2 377.6L147.7 377.2L150.2 377L152.7 377L155.2 377L157.7 377L160.2 377.1L162.7 377.2L165.2 377.3L167.7 377.4L170.2 377.4L172.7 377.6L175.2 377.7L177.7 378L180.2 378.4L182.7 379L185.2 379.8L187.7 380.5L190.2 381L192.7 381.1L195.2 380.5L197.7 379.6L200.2 378.7L202.7 378.2L205.2 377.9L207.7 377.8L210.2 377.8L212.7 377.8L215.2 377.8L217.7 377.8L220.2 377.9L222.7 378L225.2 378.1L227.7 378.3L230.2 378.7L232.7 379.3L235.2 380.3L237.7 381.6L240.2 383.2L242.7 384.6L245.2 385.7L247.7 386.4L250.2 386.5L252.7 385.9L255.2 384.8L257.7 383.4L260.2 382.2L262.7 381.3L265.2 380.6L267.7 380.2L270.2 380L272.7 379.8L275.2 379.7L277.7 379.7L280.2 379.6L282.7 379.6L285.2 379.6L287.7 379.7L290.2 379.8L292.7 379.9L295.2 380.1L297.7 380.3L300.2 380.4L302.7 380.6L305.2 380.7L307.7 380.8L310.2 380.9L312.7 380.9L315.2 381L317.7 381.1L320.2 381.1L322.7 381.2L325.2 381.2L327.7 381.3L330.2 381.4L332.7 381.5L335.2 381.6L337.7 381.7L340.2 381.8L342.7 381.9L345.2 382.1L347.7 382.4L350.2 382.9L352.7 383.7L355.2 385L357.7 386.5L360.2 387.8L362.7 388.5L365.2 387.7L365.3 387.7" stroke="#f19378" stroke-width="4.00"/>
<path d="M77.7 376.3L80.2 376.5L82.7 376.6L85.2 376.8L87.7 376.9L90.2 377.1L92.7 377.3L95.2 377.4L97.7 377.6L100.2 377.8L102.7 377.9L105.2 378.1L107.7 378.3L110.2 378.5L112.7 378.8L115.2 379.2L117.7 379.7L120.2 380.5L122.7 381.3L125.2 382.1L127.7 382.7L130.2 383.1L132.7 382.9L135.2 382.4L137.7 381.5L140.2 380.6L142.7 379.7L145.2 379.1L147.7 378.7L150.2 378.5L152.7 378.5L155.2 378.5L157.7 378.5L160.2 378.6L162.7 378.7L165.2 378.8L167.7 378.9L170.2 379L172.7 379.1L175.2 379.2L177.7 379.5L180.2 380L182.7 380.6L185.2 381.4L187.7 382.1L190.2 382.6L192.7 382.8L195.2 382.2L197.7 381.2L200.2 380.3L202.7 379.7L205.2 379.4L207.7 379.3L210.2 379.3L212.7 379.3L215.2 379.3L217.7 379.3L220.2 379.4L222.7 379.5L225.2 379.6L227.7 379.8L230.2 380.2L232.7 380.8L235.2 381.8L237.7 383.1L240.2 384.8L242.7 386.3L245.2 387.4L247.7 388.1L250.2 388.2L252.7 387.7L255.2 386.5L257.7 385L260.2 383.8L262.7 382.8L265.2 382.1L267.7 381.7L270.2 381.5L272.7 381.4L275.2 381.2L277.7 381.2L280.2 381.1L282.7 381.1L285.2 381.1L287.7 381.1L290.2 381.2L292.7 381.4L295.2 381.5L297.7 381.7L300.2 381.9L302.7 382.1L305.2 382.2L307.7 382.3L310.2 382.4L312.7 382.4L315.2 382.5L317.7 382.5L320.2 382.6L322.7 382.6L325.2 382.7L327.7 382.7L330.2 382.8L332.7 382.9L335.2 383L337.7 383.1L340.2 383.2L342.7 383.4L345.2 383.5L347.7 383.8L350.2 384.4L352.7 385.2L355.2 386.5L357.7 388.1L360.2 389.5L362.7 390.1L365.2 389.3L365.3 389.3" stroke="#f29579" stroke-width="4.00"/>
<path d="M77.7 377.8L80.2 378L82.7 378.1L85.2 378.3L87.7 378.4L90.2 378.6L92.7 378.8L95.2 379L97.7 379.1L100.2 379.3L102.7 379.5L105.2 379.7L107.7 379.8L110.2 380.1L112.7 380.4L115.2 380.8L117.7 381.3L120.2 382.1L122.7 382.9L125.2 383.7L127.7 384.4L130.2 384.7L132.7 384.6L135.2 384L137.7 383.1L140.2 382.2L142.7 381.3L145.2 380.6L147.7 380.2L150.2 380L152.7 380L155.2 380L157.7 380L160.2 380.1L162.7 380.2L165.2 380.3L167.7 380.4L170.2 380.5L172.7 380.6L175.2 380.8L177.7 381.1L180.2 381.5L182.7 382.2L185.2 383L187.7 383.7L190.2 384.3L192.7 384.4L195.2 383.8L197.7 382.8L200.2 381.8L202.7 381.3L205.2 381L207.7 380.8L210.2 380.8L212.7 380.8L215.2 380.8L217.7 380.8L220.2 380.9L222.7 381L225.2 381.1L227.7 381.3L230.2 381.7L232.7 382.4L235.2 383.3L237.7 384.7L240.2 386.4L242.7 387.9L245.2 389.1L247.7 389.8L250.2 389.9L252.7 389.4L255.2 388.2L257.7 386.7L260.2 385.4L262.7 384.4L265.2 383.7L267.7 383.3L270.2 383L272.7 382.9L275.2 382.8L277.7 382.7L280.2 382.6L282.7 382.6L285.2 382.6L287.7 382.6L290.2 382.7L292.7 382.9L295.2 383L297.7 383.2L300.2 383.4L302.7 383.5L305.2 383.7L307.7 383.8L310.2 383.8L312.7 383.9L315.2 383.9L317.7 384L320.2 384L322.7 384.1L325.2 384.1L327.7 384.2L330.2 384.3L332.7 384.4L335.2 384.5L337.7 384.6L340.2 384.7L342.7 384.8L345.2 385L347.7 385.3L350.2 385.8L352.7 386.8L355.2 388.1L357.7 389.7L360.2 391.1L362.7 391.7L365.2 391L365.3 390.9" stroke="#f2977b" stroke-width="4.00"/>
<path d="M77.7 379.3L80.2 379.5L82.7 379.6L85.2 379.8L87.7 379.9L90.2 380.1L92.7 380.3L95.2 380.5L97.7 380.7L100.2 380.8L102.7 381L105.2 381.2L107.7 381.4L110.2 381.6L112.7 381.9L115.2 382.3L117.7 382.9L120.2 383.7L122.7 384.6L125.2 385.4L127.7 386.1L130.2 386.4L132.7 386.3L135.2 385.7L137.7 384.8L140.2 383.8L142.7 382.9L145.2 382.2L147.7 381.7L150.2 381.5L152.7 381.5L155.2 381.5L157.7 381.5L160.2 381.6L162.7 381.7L165.2 381.8L167.7 381.9L170.2 382L172.7 382.1L175.2 382.3L177.7 382.6L180.2 383L182.7 383.7L185.2 384.5L187.7 385.3L190.2 385.9L192.7 386.1L195.2 385.4L197.7 384.4L200.2 383.4L202.7 382.8L205.2 382.5L207.7 382.3L210.2 382.3L212.7 382.3L215.2 382.3L217.7 382.3L220.2 382.4L222.7 382.5L225.2 382.6L227.7 382.8L230.2 383.2L232.7 383.9L235.2 384.9L237.7 386.3L240.2 388L242.7 389.6L245.2 390.8L247.7 391.5L250.2 391.7L252.7 391.1L255.2 389.9L257.7 388.3L260.2 387L262.7 386L265.2 385.3L267.7 384.8L270.2 384.6L272.7 384.4L275.2 384.3L277.7 384.2L280.2 384.1L282.7 384L285.2 384L287.7 384.1L290.2 384.2L292.7 384.3L295.2 384.5L297.7 384.7L300.2 384.8L302.7 385L305.2 385.1L307.7 385.2L310.2 385.3L312.7 385.3L315.2 385.4L317.7 385.4L320.2 385.5L322.7 385.5L325.2 385.6L327.7 385.7L330.2 385.7L332.7 385.8L335.2 385.9L337.7 386L340.2 386.1L342.7 386.3L345.2 386.5L347.7 386.8L350.2 387.3L352.7 388.3L355.2 389.6L357.7 391.3L360.2 392.8L362.7 393.4L365.2 392.6L365.3 392.5" stroke="#f2977b" stroke-width="4.00"/>
<path d="M77.7 380.8L80.2 381L82.7 381.1L85.2 381.3L87.7 381.5L90.2 381.6L92.7 381.8L95.2 382L97.7 382.2L100.2 382.4L102.7 382.6L105.2 382.8L107.7 383L110.2 383.2L112.7 383.5L115.2 383.9L117.7 384.5L120.2 385.3L122.7 386.2L125.2 387.1L127.7 387.7L130.2 388.1L132.7 388L135.2 387.4L137.7 386.4L140.2 385.4L142.7 384.4L145.2 383.7L147.7 383.3L150.2 383.1L152.7 383L155.2 383L157.7 383L160.2 383.1L162.7 383.2L165.2 383.3L167.7 383.4L170.2 383.5L172.7 383.6L175.2 383.8L177.7 384.1L180.2 384.6L182.7 385.3L185.2 386.1L187.7 386.9L190.2 387.6L192.7 387.7L195.2 387.1L197.7 386L200.2 384.9L202.7 384.3L205.2 384L207.7 383.8L210.2 383.8L212.7 383.8L215.2 383.8L217.7 383.8L220.2 383.9L222.7 383.9L225.2 384.1L227.7 384.3L230.2 384.7L232.7 385.4L235.2 386.4L237.7 387.9L240.2 389.6L242.7 391.3L245.2 392.5L247.7 393.2L250.2 393.4L252.7 392.8L255.2 391.6L257.7 390L260.2 388.6L262.7 387.6L265.2 386.8L267.7 386.3L270.2 386.1L272.7 385.9L275.2 385.8L277.7 385.7L280.2 385.6L282.7 385.5L285.2 385.5L287.7 385.6L290.2 385.7L292.7 385.8L295.2 386L297.7 386.1L300.2 386.3L302.7 386.5L305.2 386.6L307.7 386.7L310.2 386.8L312.7 386.8L315.2 386.8L317.7 386.9L320.2 386.9L322.7 387L325.2 387L327.7 387.1L330.2 387.2L332.7 387.3L335.2 387.4L337.7 387.5L340.2 387.6L342.7 387.7L345.2 387.9L347.7 388.2L350.2 388.8L352.7 389.8L355.2 391.2L357.7 392.9L360.2 394.4L362.7 395.1L365.2 394.2L365.3 394.1" stroke="#f3987c" stroke-width="4.00"/>
<path d="M77.7 382.3L80.2 382.5L82.7 382.6L85.2 382.8L87.7 383L90.2 383.2L92.7 383.4L95.2 383.5L97.7 383.7L100.2 383.9L102.7 384.1L105.2 384.3L107.7 384.5L110.2 384.8L112.7 385.1L115.2 385.5L117.7 386.1L120.2 387L122.7 387.9L125.2 388.7L127.7 389.4L130.2 389.8L132.7 389.6L135.2 389L137.7 388L140.2 387L142.7 386L145.2 385.2L147.7 384.8L150.2 384.6L152.7 384.5L155.2 384.5L157.7 384.5L160.2 384.6L162.7 384.7L165.2 384.8L167.7 384.9L170.2 385L172.7 385.1L175.2 385.3L177.7 385.7L180.2 386.1L182.7 386.8L185.2 387.7L187.7 388.6L190.2 389.2L192.7 389.4L195.2 388.7L197.7 387.6L200.2 386.5L202.7 385.8L205.2 385.5L207.7 385.3L210.2 385.3L212.7 385.2L215.2 385.3L217.7 385.3L220.2 385.4L222.7 385.4L225.2 385.6L227.7 385.8L230.2 386.2L232.7 386.9L235.2 388L237.7 389.5L240.2 391.3L242.7 392.9L245.2 394.2L247.7 395L250.2 395.2L252.7 394.6L255.2 393.3L257.7 391.7L260.2 390.3L262.7 389.2L265.2 388.4L267.7 387.9L270.2 387.6L272.7 387.4L275.2 387.3L277.7 387.2L280.2 387.1L282.7 387L285.2 387L287.7 387.1L290.2 387.1L292.7 387.3L295.2 387.4L297.7 387.6L300.2 387.8L302.7 387.9L305.2 388.1L307.7 388.2L310.2 388.2L312.7 388.3L315.2 388.3L317.7 388.4L320.2 388.4L322.7 388.5L325.2 388.5L327.7 388.6L330.2 388.6L332.7 388.7L335.2 388.8L337.7 388.9L340.2 389L342.7 389.2L345.2 389.4L347.7 389.7L350.2 390.3L352.7 391.3L355.2 392.8L357.7 394.5L360.2 396.1L362.7 396.7L365.2 395.8L365.3 395.7" stroke="#f39a7d" stroke-width="4.00"/>
<path d="M77.7 383.8L80.2 384L82.7 384.1L85.2 384.3L87.7 384.5L90.2 384.7L92.7 384.9L95.2 385.1L97.7 385.3L100.2 385.5L102.7 385.7L105.2 385.9L107.7 386.1L110.2 386.3L112.7 386.7L115.2 387.1L117.7 387.7L120.2 388.6L122.7 389.5L125.2 390.4L127.7 391.1L130.2 391.5L132.7 391.3L135.2 390.7L137.7 389.7L140.2 388.6L142.7 387.6L145.2 386.8L147.7 386.3L150.2 386.1L152.7 386L155.2 386L157.7 386.1L160.2 386.1L162.7 386.3L165.2 386.4L167.7 386.4L170.2 386.5L172.7 386.7L175.2 386.9L177.7 387.2L180.2 387.7L182.7 388.4L185.2 389.3L187.7 390.2L190.2 390.9L192.7 391.1L195.2 390.4L197.7 389.2L200.2 388.1L202.7 387.4L205.2 387L207.7 386.8L210.2 386.8L212.7 386.7L215.2 386.8L217.7 386.8L220.2 386.9L222.7 386.9L225.2 387.1L227.7 387.3L230.2 387.7L232.7 388.4L235.2 389.5L237.7 391L240.2 392.9L242.7 394.6L245.2 395.9L247.7 396.7L250.2 396.9L252.7 396.3L255.2 395L257.7 393.3L260.2 391.9L262.7 390.8L265.2 389.9L267.7 389.4L270.2 389.2L272.7 389L275.2 388.8L277.7 388.7L280.2 388.6L282.7 388.5L285.2 388.5L287.7 388.5L290.2 388.6L292.7 388.8L295.2 388.9L297.7 389.1L300.2 389.3L302.7 389.4L305.2 389.5L307.7 389.6L310.2 389.7L312.7 389.7L315.2 389.8L317.7 389.8L320.2 389.9L322.7 389.9L325.2 390L327.7 390L330.2 390.1L332.7 390.2L335.2 390.3L337.7 390.4L340.2 390.5L342.7 390.6L345.2 390.8L347.7 391.2L350.2 391.8L352.7 392.8L355.2 394.3L357.7 396.2L360.2 397.7L362.7 398.4L365.2 397.4L365.3 397.4" stroke="#f39a7d" stroke-width="4.00"/>
<path d="M77.7 385.3L80.2 385.5L82.7 385.7L85.2 385.8L87.7 386L90.2 386.2L92.7 386.4L95.2 386.6L97.7 386.8L100.2 387L102.7 387.2L105.2 387.4L107.7 387.7L110.2 387.9L112.7 388.2L115.2 388.7L117.7 389.4L120.2 390.2L122.7 391.2L125.2 392.1L127.7 392.8L130.2 393.2L132.7 393L135.2 392.4L137.7 391.3L140.2 390.2L142.7 389.1L145.2 388.3L147.7 387.8L150.2 387.6L152.7 387.5L155.2 387.5L157.7 387.6L160.2 387.7L162.7 387.8L165.2 387.9L167.7 388L170.2 388.1L172.7 388.2L175.2 388.4L177.7 388.7L180.2 389.2L182.7 390L185.2 390.9L187.7 391.8L190.2 392.5L192.7 392.7L195.2 392L197.7 390.8L200.2 389.6L202.7 388.9L205.2 388.5L207.7 388.3L210.2 388.3L212.7 388.2L215.2 388.3L217.7 388.3L220.2 388.3L222.7 388.4L225.2 388.6L227.7 388.8L230.2 389.2L232.7 390L235.2 391.1L237.7 392.6L240.2 394.5L242.7 396.3L245.2 397.6L247.7 398.5L250.2 398.7L252.7 398.1L255.2 396.7L257.7 395L260.2 393.5L262.7 392.4L265.2 391.5L267.7 391L270.2 390.7L272.7 390.5L275.2 390.3L277.7 390.2L280.2 390.1L282.7 390L285.2 390L287.7 390L290.2 390.1L292.7 390.2L295.2 390.4L297.7 390.6L300.2 390.7L302.7 390.9L305.2 391L307.7 391.1L310.2 391.1L312.7 391.2L315.2 391.2L317.7 391.3L320.2 391.3L322.7 391.4L325.2 391.4L327.7 391.5L330.2 391.5L332.7 391.6L335.2 391.7L337.7 391.8L340.2 391.9L342.7 392.1L345.2 392.3L347.7 392.6L350.2 393.3L352.7 394.4L355.2 395.9L357.7 397.8L360.2 399.4L362.7 400.1L365.2 399.1L365.3 399" stroke="#f39b7f" stroke-width="4.00"/>
<path d="M77.7 386.8L80.2 387L82.7 387.2L85.2 387.4L87.7 387.5L90.2 387.7L92.7 388L95.2 388.2L97.7 388.4L100.2 388.6L102.7 388.8L105.2 389L107.7 389.2L110.2 389.5L112.7 389.8L115.2 390.3L117.7 391L120.2 391.9L122.7 392.8L125.2 393.8L127.7 394.5L130.2 394.9L132.7 394.7L135.2 394.1L137.7 393L140.2 391.8L142.7 390.7L145.2 389.9L147.7 389.4L150.2 389.1L152.7 389L155.2 389L157.7 389.1L160.2 389.2L162.7 389.3L165.2 389.4L167.7 389.5L170.2 389.6L172.7 389.7L175.2 389.9L177.7 390.3L180.2 390.8L182.7 391.6L185.2 392.5L187.7 393.4L190.2 394.2L192.7 394.4L195.2 393.7L197.7 392.4L200.2 391.2L202.7 390.4L205.2 390L207.7 389.9L210.2 389.8L212.7 389.7L215.2 389.8L217.7 389.8L220.2 389.8L222.7 389.9L225.2 390.1L227.7 390.3L230.2 390.8L232.7 391.5L235.2 392.6L237.7 394.2L240.2 396.2L242.7 398L245.2 399.4L247.7 400.2L250.2 400.5L252.7 399.9L255.2 398.5L257.7 396.7L260.2 395.1L262.7 394L265.2 393.1L267.7 392.5L270.2 392.2L272.7 392L275.2 391.9L277.7 391.7L280.2 391.6L282.7 391.5L285.2 391.5L287.7 391.5L290.2 391.6L292.7 391.7L295.2 391.9L297.7 392L300.2 392.2L302.7 392.4L305.2 392.5L307.7 392.6L310.2 392.6L312.7 392.6L315.2 392.7L317.7 392.7L320.2 392.8L322.7 392.8L325.2 392.9L327.7 392.9L330.2 393L332.7 393.1L335.2 393.1L337.7 393.3L340.2 393.4L342.7 393.5L345.2 393.7L347.7 394.1L350.2 394.8L352.7 395.9L355.2 397.5L357.7 399.4L360.2 401.1L362.7 401.8L365.2 400.7L365.3 400.6" stroke="#f49d80" stroke-width="4.00"/>
<path d="M77.7 388.3L80.2 388.5L82.7 388.7L85.2 388.9L87.7 389.1L90.2 389.3L92.7 389.5L95.2 389.7L97.7 389.9L100.2 390.1L102.7 390.3L105.2 390.6L107.7 390.8L110.2 391.1L112.7 391.4L115.2 391.9L117.7 392.6L120.2 393.5L122.7 394.5L125.2 395.4L127.7 396.2L130.2 396.6L132.7 396.4L135.2 395.7L137.7 394.6L140.2 393.4L142.7 392.3L145.2 391.4L147.7 390.9L150.2 390.7L152.7 390.6L155.2 390.5L157.7 390.6L160.2 390.7L162.7 390.8L165.2 390.9L167.7 391L170.2 391.1L172.7 391.2L175.2 391.5L177.7 391.8L180.2 392.3L182.7 393.1L185.2 394.1L187.7 395.1L190.2 395.9L192.7 396.1L195.2 395.4L197.7 394L200.2 392.8L202.7 392L205.2 391.5L207.7 391.4L210.2 391.3L212.7 391.2L215.2 391.2L217.7 391.3L220.2 391.3L222.7 391.4L225.2 391.6L227.7 391.8L230.2 392.3L232.7 393L235.2 394.2L237.7 395.8L240.2 397.8L242.7 399.7L245.2 401.1L247.7 402L250.2 402.2L252.7 401.6L255.2 400.2L257.7 398.4L260.2 396.8L262.7 395.6L265.2 394.7L267.7 394.1L270.2 393.8L272.7 393.6L275.2 393.4L277.7 393.2L280.2 393.1L282.7 393L285.2 393L287.7 393L290.2 393.1L292.7 393.2L295.2 393.3L297.7 393.5L300.2 393.7L302.7 393.8L305.2 394L307.7 394L310.2 394.1L312.7 394.1L315.2 394.1L317.7 394.2L320.2 394.2L322.7 394.3L325.2 394.3L327.7 394.4L330.2 394.4L332.7 394.5L335.2 394.6L337.7 394.7L340.2 394.8L342.7 395L345.2 395.2L347.7 395.6L350.2 396.3L352.7 397.4L355.2 399.1L357.7 401.1L360.2 402.8L362.7 403.5L365.2 402.3L365.3 402.3" stroke="#f49d80" stroke-width="4.00"/>
<path d="M77.7 389.8L80.2 390L82.7 390.2L85.2 390.4L87.7 390.6L90.2 390.8L92.7 391L95.2 391.2L97.7 391.5L100.2 391.7L102.7 391.9L105.2 392.1L107.7 392.4L110.2 392.7L112.7 393L115.2 393.5L117.7 394.2L120.2 395.1L122.7 396.2L125.2 397.1L127.7 397.9L130.2 398.3L132.7 398.2L135.2 397.4L137.7 396.3L140.2 395L142.7 393.9L145.2 393L147.7 392.4L150.2 392.2L152.7 392.1L155.2 392.1L157.7 392.1L160.2 392.2L162.7 392.3L165.2 392.4L167.7 392.5L170.2 392.6L172.7 392.8L175.2 393L177.7 393.4L180.2 393.9L182.7 394.7L185.2 395.7L187.7 396.7L190.2 397.6L192.7 397.8L195.2 397L197.7 395.6L200.2 394.3L202.7 393.5L205.2 393.1L207.7 392.9L210.2 392.8L212.7 392.7L215.2 392.7L217.7 392.8L220.2 392.8L222.7 392.9L225.2 393.1L227.7 393.3L230.2 393.8L232.7 394.5L235.2 395.7L237.7 397.4L240.2 399.5L242.7 401.4L245.2 402.8L247.7 403.8L250.2 404L252.7 403.4L255.2 401.9L257.7 400.1L260.2 398.4L262.7 397.2L265.2 396.2L267.7 395.7L270.2 395.3L272.7 395.1L275.2 394.9L277.7 394.7L280.2 394.6L282.7 394.5L285.2 394.4L287.7 394.5L290.2 394.5L292.7 394.7L295.2 394.8L297.7 395L300.2 395.2L302.7 395.3L305.2 395.4L307.7 395.5L310.2 395.5L312.7 395.6L315.2 395.6L317.7 395.7L320.2 395.7L322.7 395.7L325.2 395.8L327.7 395.8L330.2 395.9L332.7 396L335.2 396L337.7 396.2L340.2 396.3L342.7 396.4L345.2 396.7L347.7 397.1L350.2 397.8L352.7 398.9L355.2 400.7L357.7 402.7L360.2 404.4L362.7 405.2L365.2 404L365.3 403.9" stroke="#f49e82" stroke-width="4.00"/>
<path d="M77.7 391.3L80.2 391.5L82.7 391.7L85.2 391.9L87.7 392.1L90.2 392.3L92.7 392.6L95.2 392.8L97.7 393L100.2 393.3L102.7 393.5L105.2 393.7L107.7 394L110.2 394.2L112.7 394.6L115.2 395.1L117.7 395.8L120.2 396.8L122.7 397.8L125.2 398.8L127.7 399.6L130.2 400L132.7 399.9L135.2 399.1L137.7 397.9L140.2 396.6L142.7 395.5L145.2 394.5L147.7 394L150.2 393.7L152.7 393.6L155.2 393.6L157.7 393.6L160.2 393.7L162.7 393.8L165.2 394L167.7 394.1L170.2 394.2L172.7 394.3L175.2 394.6L177.7 394.9L180.2 395.5L182.7 396.3L185.2 397.3L187.7 398.4L190.2 399.2L192.7 399.5L195.2 398.7L197.7 397.3L200.2 395.9L202.7 395L205.2 394.6L207.7 394.4L210.2 394.3L212.7 394.2L215.2 394.2L217.7 394.3L220.2 394.3L222.7 394.4L225.2 394.6L227.7 394.8L230.2 395.3L232.7 396.1L235.2 397.3L237.7 399L240.2 401.1L242.7 403.1L245.2 404.6L247.7 405.6L250.2 405.8L252.7 405.2L255.2 403.7L257.7 401.8L260.2 400.1L262.7 398.8L265.2 397.8L267.7 397.2L270.2 396.9L272.7 396.6L275.2 396.4L277.7 396.2L280.2 396.1L282.7 396L285.2 395.9L287.7 395.9L290.2 396L292.7 396.1L295.2 396.3L297.7 396.5L300.2 396.6L302.7 396.8L305.2 396.9L307.7 397L310.2 397L312.7 397L315.2 397.1L317.7 397.1L320.2 397.2L322.7 397.2L325.2 397.2L327.7 397.3L330.2 397.3L332.7 397.4L335.2 397.5L337.7 397.6L340.2 397.7L342.7 397.9L345.2 398.1L347.7 398.5L350.2 399.3L352.7 400.5L355.2 402.2L357.7 404.4L360.2 406.1L362.7 406.9L365.2 405.6L365.3 405.5" stroke="#f5a083" stroke-width="4.00"/>
<path d="M77.7 392.9L80.2 393L82.7 393.2L85.2 393.4L87.7 393.7L90.2 393.9L92.7 394.1L95.2 394.3L97.7 394.6L100.2 394.8L102.7 395L105.2 395.3L107.7 395.5L110.2 395.8L112.7 396.2L115.2 396.7L117.7 397.5L120.2 398.4L122.7 399.5L125.2 400.5L127.7 401.3L130.2 401.8L132.7 401.6L135.2 400.8L137.7 399.6L140.2 398.3L142.7 397.1L145.2 396.1L147.7 395.5L150.2 395.2L152.7 395.1L155.2 395.1L157.7 395.2L160.2 395.2L162.7 395.4L165.2 395.5L167.7 395.6L170.2 395.7L172.7 395.8L175.2 396.1L177.7 396.5L180.2 397L182.7 397.9L185.2 399L187.7 400L190.2 400.9L192.7 401.2L195.2 400.4L197.7 398.9L200.2 397.5L202.7 396.6L205.2 396.1L207.7 395.9L210.2 395.8L212.7 395.7L215.2 395.8L217.7 395.8L220.2 395.8L222.7 395.9L225.2 396.1L227.7 396.3L230.2 396.8L232.7 397.6L235.2 398.8L237.7 400.6L240.2 402.8L242.7 404.8L245.2 406.3L247.7 407.4L250.2 407.6L252.7 407L255.2 405.4L257.7 403.5L260.2 401.7L262.7 400.4L265.2 399.4L267.7 398.8L270.2 398.4L272.7 398.2L275.2 397.9L277.7 397.8L280.2 397.6L282.7 397.5L285.2 397.4L287.7 397.4L290.2 397.5L292.7 397.6L295.2 397.8L297.7 397.9L300.2 398.1L302.7 398.3L305.2 398.4L307.7 398.4L310.2 398.5L312.7 398.5L315.2 398.5L317.7 398.6L320.2 398.6L322.7 398.7L325.2 398.7L327.7 398.7L330.2 398.8L332.7 398.9L335.2 398.9L337.7 399.1L340.2 399.2L342.7 399.4L345.2 399.6L347.7 400L350.2 400.8L352.7 402L355.2 403.8L357.7 406L360.2 407.8L362.7 408.6L365.2 407.3L365.3 407.2" stroke="#f5a083" stroke-width="4.00"/>
<path d="M77.7 394.4L80.2 394.6L82.7 394.8L85.2 395L87.7 395.2L90.2 395.4L92.7 395.7L95.2 395.9L97.7 396.1L100.2 396.4L102.7 396.6L105.2 396.9L107.7 397.1L110.2 397.4L112.7 397.8L115.2 398.4L117.7 399.1L120.2 400.1L122.7 401.2L125.2 402.2L127.7 403.1L130.2 403.5L132.7 403.3L135.2 402.5L137.7 401.3L140.2 399.9L142.7 398.6L145.2 397.7L147.7 397L150.2 396.8L152.7 396.6L155.2 396.6L157.7 396.7L160.2 396.8L162.7 396.9L165.2 397L167.7 397.1L170.2 397.2L172.7 397.4L175.2 397.6L177.7 398L180.2 398.6L182.7 399.5L185.2 400.6L187.7 401.7L190.2 402.6L192.7 402.9L195.2 402.1L197.7 400.5L200.2 399.1L202.7 398.1L205.2 397.6L207.7 397.4L210.2 397.3L212.7 397.3L215.2 397.3L217.7 397.3L220.2 397.3L222.7 397.4L225.2 397.6L227.7 397.8L230.2 398.3L232.7 399.1L235.2 400.4L237.7 402.2L240.2 404.5L242.7 406.5L245.2 408.1L247.7 409.2L250.2 409.5L252.7 408.8L255.2 407.2L257.7 405.2L260.2 403.4L262.7 402L265.2 401L267.7 400.3L270.2 400L272.7 399.7L275.2 399.5L277.7 399.3L280.2 399.1L282.7 399L285.2 398.9L287.7 398.9L290.2 399L292.7 399.1L295.2 399.2L297.7 399.4L300.2 399.6L302.7 399.7L305.2 399.8L307.7 399.9L310.2 399.9L312.7 400L315.2 400L317.7 400L320.2 400.1L322.7 400.1L325.2 400.2L327.7 400.2L330.2 400.2L332.7 400.3L335.2 400.4L337.7 400.5L340.2 400.6L342.7 400.8L345.2 401L347.7 401.5L350.2 402.2L352.7 403.5L355.2 405.4L357.7 407.7L360.2 409.5L362.7 410.3L365.2 408.9L365.3 408.9" stroke="#f5a184" stroke-width="4.00"/>
<path d="M77.7 395.9L80.2 396.1L82.7 396.3L85.2 396.5L87.7 396.7L90.2 397L92.7 397.2L95.2 397.4L97.7 397.7L100.2 397.9L102.7 398.2L105.2 398.4L107.7 398.7L110.2 399L112.7 399.4L115.2 400L117.7 400.8L120.2 401.8L122.7 402.9L125.2 404L127.7 404.8L130.2 405.3L132.7 405.1L135.2 404.3L137.7 403L140.2 401.5L142.7 400.2L145.2 399.2L147.7 398.6L150.2 398.3L152.7 398.2L155.2 398.1L157.7 398.2L160.2 398.3L162.7 398.4L165.2 398.6L167.7 398.7L170.2 398.8L172.7 398.9L175.2 399.2L177.7 399.6L180.2 400.2L182.7 401.1L185.2 402.2L187.7 403.3L190.2 404.3L192.7 404.6L195.2 403.8L197.7 402.2L200.2 400.7L202.7 399.7L205.2 399.2L207.7 398.9L210.2 398.8L212.7 398.8L215.2 398.8L217.7 398.8L220.2 398.8L222.7 398.9L225.2 399.1L227.7 399.3L230.2 399.8L232.7 400.7L235.2 402L237.7 403.8L240.2 406.2L242.7 408.3L245.2 409.9L247.7 411L250.2 411.3L252.7 410.6L255.2 409L257.7 406.9L260.2 405.1L262.7 403.6L265.2 402.6L267.7 401.9L270.2 401.5L272.7 401.2L275.2 401L277.7 400.8L280.2 400.6L282.7 400.5L285.2 400.4L287.7 400.4L290.2 400.5L292.7 400.6L295.2 400.7L297.7 400.9L300.2 401.1L302.7 401.2L305.2 401.3L307.7 401.4L310.2 401.4L312.7 401.4L315.2 401.5L317.7 401.5L320.2 401.5L322.7 401.6L325.2 401.6L327.7 401.6L330.2 401.7L332.7 401.8L335.2 401.8L337.7 402L340.2 402.1L342.7 402.3L345.2 402.5L347.7 402.9L350.2 403.7L352.7 405.1L355.2 407L357.7 409.3L360.2 411.2L362.7 412L365.2 410.6L365.3 410.5" stroke="#f5a386" stroke-width="4.00"/>
<path d="M77.7 397.4L80.2 397.6L82.7 397.8L85.2 398L87.7 398.3L90.2 398.5L92.7 398.7L95.2 399L97.7 399.3L100.2 399.5L102.7 399.8L105.2 400L107.7 400.3L110.2 400.6L112.7 401L115.2 401.6L117.7 402.4L120.2 403.4L122.7 404.6L125.2 405.7L127.7 406.6L130.2 407L132.7 406.8L135.2 406L137.7 404.6L140.2 403.2L142.7 401.8L145.2 400.8L147.7 400.1L150.2 399.8L152.7 399.7L155.2 399.7L157.7 399.7L160.2 399.8L162.7 400L165.2 400.1L167.7 400.2L170.2 400.3L172.7 400.5L175.2 400.7L177.7 401.1L180.2 401.7L182.7 402.7L185.2 403.8L187.7 405L190.2 406L192.7 406.4L195.2 405.5L197.7 403.8L200.2 402.2L202.7 401.2L205.2 400.7L207.7 400.4L210.2 400.3L212.7 400.3L215.2 400.3L217.7 400.3L220.2 400.3L222.7 400.4L225.2 400.6L227.7 400.9L230.2 401.4L232.7 402.2L235.2 403.5L237.7 405.5L240.2 407.8L242.7 410L245.2 411.7L247.7 412.8L250.2 413.1L252.7 412.4L255.2 410.8L257.7 408.6L260.2 406.7L262.7 405.3L265.2 404.2L267.7 403.5L270.2 403.1L272.7 402.8L275.2 402.5L277.7 402.3L280.2 402.1L282.7 402L285.2 401.9L287.7 401.9L290.2 402L292.7 402.1L295.2 402.2L297.7 402.4L300.2 402.5L302.7 402.7L305.2 402.8L307.7 402.8L310.2 402.9L312.7 402.9L315.2 402.9L317.7 403L320.2 403L322.7 403L325.2 403.1L327.7 403.1L330.2 403.1L332.7 403.2L335.2 403.3L337.7 403.4L340.2 403.5L342.7 403.7L345.2 404L347.7 404.4L350.2 405.2L352.7 406.6L355.2 408.6L357.7 411L360.2 413L362.7 413.7L365.2 412.3L365.3 412.2" stroke="#f5a386" stroke-width="4.00"/>
<path d="M77.7 398.9L80.2 399.1L82.7 399.3L85.2 399.6L87.7 399.8L90.2 400L92.7 400.3L95.2 400.6L97.7 400.8L100.2 401.1L102.7 401.3L105.2 401.6L107.7 401.9L110.2 402.2L112.7 402.6L115.2 403.2L117.7 404.1L120.2 405.1L122.7 406.3L125.2 407.4L127.7 408.3L130.2 408.8L132.7 408.6L135.2 407.7L137.7 406.3L140.2 404.8L142.7 403.4L145.2 402.4L147.7 401.7L150.2 401.4L152.7 401.2L155.2 401.2L157.7 401.2L160.2 401.4L162.7 401.5L165.2 401.6L167.7 401.7L170.2 401.8L172.7 402L175.2 402.3L177.7 402.7L180.2 403.3L182.7 404.3L185.2 405.5L187.7 406.7L190.2 407.7L192.7 408.1L195.2 407.2L197.7 405.5L200.2 403.8L202.7 402.8L205.2 402.2L207.7 402L210.2 401.8L212.7 401.8L215.2 401.8L217.7 401.8L220.2 401.8L222.7 401.9L225.2 402.1L227.7 402.4L230.2 402.9L232.7 403.8L235.2 405.1L237.7 407.1L240.2 409.5L242.7 411.8L245.2 413.4L247.7 414.6L250.2 414.9L252.7 414.3L255.2 412.5L257.7 410.3L260.2 408.4L262.7 406.9L265.2 405.8L267.7 405.1L270.2 404.6L272.7 404.3L275.2 404.1L277.7 403.8L280.2 403.6L282.7 403.5L285.2 403.4L287.7 403.4L290.2 403.4L292.7 403.5L295.2 403.7L297.7 403.9L300.2 404L302.7 404.2L305.2 404.3L307.7 404.3L310.2 404.3L312.7 404.4L315.2 404.4L317.7 404.4L320.2 404.5L322.7 404.5L325.2 404.5L327.7 404.5L330.2 404.6L332.7 404.7L335.2 404.7L337.7 404.9L340.2 405L342.7 405.2L345.2 405.4L347.7 405.9L350.2 406.7L352.7 408.2L355.2 410.2L357.7 412.7L360.2 414.7L362.7 415.4L365.2 413.9L365.3 413.8" stroke="#f6a487" stroke-width="4.00"/>
<path d="M77.7 400.4L80.2 400.6L82.7 400.9L85.2 401.1L87.7 401.3L90.2 401.6L92.7 401.8L95.2 402.1L97.7 402.4L100.2 402.7L102.7 402.9L105.2 403.2L107.7 403.5L110.2 403.8L112.7 404.3L115.2 404.9L117.7 405.7L120.2 406.8L122.7 408L125.2 409.1L127.7 410.1L130.2 410.5L132.7 410.3L135.2 409.4L137.7 408L140.2 406.5L142.7 405L145.2 403.9L147.7 403.2L150.2 402.9L152.7 402.8L155.2 402.7L157.7 402.8L160.2 402.9L162.7 403L165.2 403.2L167.7 403.3L170.2 403.4L172.7 403.6L175.2 403.8L177.7 404.3L180.2 404.9L182.7 405.9L185.2 407.1L187.7 408.4L190.2 409.4L192.7 409.8L195.2 408.9L197.7 407.1L200.2 405.4L202.7 404.3L205.2 403.8L207.7 403.5L210.2 403.3L212.7 403.3L215.2 403.3L217.7 403.3L220.2 403.4L222.7 403.4L225.2 403.6L227.7 403.9L230.2 404.4L232.7 405.3L235.2 406.7L237.7 408.7L240.2 411.2L242.7 413.5L245.2 415.2L247.7 416.4L250.2 416.8L252.7 416.1L255.2 414.3L257.7 412.1L260.2 410.1L262.7 408.5L265.2 407.4L267.7 406.6L270.2 406.2L272.7 405.9L275.2 405.6L277.7 405.4L280.2 405.1L282.7 405L285.2 404.9L287.7 404.9L290.2 404.9L292.7 405L295.2 405.2L297.7 405.3L300.2 405.5L302.7 405.6L305.2 405.7L307.7 405.8L310.2 405.8L312.7 405.8L315.2 405.8L317.7 405.9L320.2 405.9L322.7 406L325.2 406L327.7 406L330.2 406L332.7 406.1L335.2 406.2L337.7 406.3L340.2 406.5L342.7 406.6L345.2 406.9L347.7 407.4L350.2 408.2L352.7 409.7L355.2 411.8L357.7 414.3L360.2 416.4L362.7 417.2L365.2 415.6L365.3 415.5" stroke="#f6a589" stroke-width="4.00"/>
<path d="M77.7 401.9L80.2 402.2L82.7 402.4L85.2 402.6L87.7 402.9L90.2 403.1L92.7 403.4L95.2 403.7L97.7 404L100.2 404.2L102.7 404.5L105.2 404.8L107.7 405.1L110.2 405.4L112.7 405.9L115.2 406.5L117.7 407.4L120.2 408.5L122.7 409.7L125.2 410.9L127.7 411.8L130.2 412.3L132.7 412.1L135.2 411.2L137.7 409.7L140.2 408.1L142.7 406.7L145.2 405.5L147.7 404.8L150.2 404.4L152.7 404.3L155.2 404.3L157.7 404.3L160.2 404.4L162.7 404.6L165.2 404.7L167.7 404.8L170.2 404.9L172.7 405.1L175.2 405.4L177.7 405.8L180.2 406.5L182.7 407.5L185.2 408.7L187.7 410L190.2 411.2L192.7 411.6L195.2 410.6L197.7 408.8L200.2 407L202.7 405.9L205.2 405.3L207.7 405L210.2 404.9L212.7 404.8L215.2 404.8L217.7 404.8L220.2 404.9L222.7 404.9L225.2 405.1L227.7 405.4L230.2 405.9L232.7 406.8L235.2 408.3L237.7 410.3L240.2 412.9L242.7 415.3L245.2 417L247.7 418.3L250.2 418.6L252.7 417.9L255.2 416.1L257.7 413.8L260.2 411.8L262.7 410.2L265.2 409L267.7 408.2L270.2 407.8L272.7 407.4L275.2 407.1L277.7 406.9L280.2 406.7L282.7 406.5L285.2 406.4L287.7 406.4L290.2 406.4L292.7 406.5L295.2 406.7L297.7 406.8L300.2 407L302.7 407.1L305.2 407.2L307.7 407.3L310.2 407.3L312.7 407.3L315.2 407.3L317.7 407.4L320.2 407.4L322.7 407.4L325.2 407.4L327.7 407.5L330.2 407.5L332.7 407.6L335.2 407.6L337.7 407.8L340.2 407.9L342.7 408.1L345.2 408.3L347.7 408.8L350.2 409.7L352.7 411.3L355.2 413.4L357.7 416L360.2 418.1L362.7 418.9L365.2 417.3L365.3 417.2" stroke="#f6a589" stroke-width="4.00"/>
<path d="M77.7 403.5L80.2 403.7L82.7 403.9L85.2 404.2L87.7 404.4L90.2 404.7L92.7 405L95.2 405.2L97.7 405.5L100.2 405.8L102.7 406.1L105.2 406.4L107.7 406.7L110.2 407L112.7 407.5L115.2 408.1L117.7 409L120.2 410.2L122.7 411.4L125.2 412.6L127.7 413.6L130.2 414.1L132.7 413.9L135.2 412.9L137.7 411.4L140.2 409.8L142.7 408.3L145.2 407.1L147.7 406.3L150.2 406L152.7 405.8L155.2 405.8L157.7 405.8L160.2 405.9L162.7 406.1L165.2 406.2L167.7 406.4L170.2 406.5L172.7 406.6L175.2 406.9L177.7 407.4L180.2 408L182.7 409.1L185.2 410.4L187.7 411.7L190.2 412.9L192.7 413.3L195.2 412.3L197.7 410.4L200.2 408.6L202.7 407.4L205.2 406.8L207.7 406.5L210.2 406.4L212.7 406.3L215.2 406.3L217.7 406.3L220.2 406.4L222.7 406.4L225.2 406.6L227.7 406.9L230.2 407.5L232.7 408.4L235.2 409.8L237.7 412L240.2 414.6L242.7 417L245.2 418.8L247.7 420.1L250.2 420.5L252.7 419.8L255.2 417.9L257.7 415.5L260.2 413.4L262.7 411.8L265.2 410.6L267.7 409.8L270.2 409.3L272.7 409L275.2 408.7L277.7 408.4L280.2 408.2L282.7 408L285.2 407.9L287.7 407.9L290.2 407.9L292.7 408L295.2 408.1L297.7 408.3L300.2 408.4L302.7 408.6L305.2 408.7L307.7 408.7L310.2 408.7L312.7 408.7L315.2 408.8L317.7 408.8L320.2 408.9L322.7 408.9L325.2 408.9L327.7 408.9L330.2 408.9L332.7 409L335.2 409.1L337.7 409.2L340.2 409.4L342.7 409.5L345.2 409.8L347.7 410.3L350.2 411.2L352.7 412.8L355.2 415L357.7 417.7L360.2 419.9L362.7 420.7L365.2 419L365.3 418.9" stroke="#f6a78a" stroke-width="4.00"/>
<path d="M77.7 405L80.2 405.2L82.7 405.5L85.2 405.7L87.7 406L90.2 406.2L92.7 406.5L95.2 406.8L97.7 407.1L100.2 407.4L102.7 407.7L105.2 408L107.7 408.3L110.2 408.7L112.7 409.1L115.2 409.8L117.7 410.7L120.2 411.9L122.7 413.2L125.2 414.4L127.7 415.3L130.2 415.9L132.7 415.6L135.2 414.7L137.7 413.1L140.2 411.4L142.7 409.9L145.2 408.6L147.7 407.9L150.2 407.5L152.7 407.4L155.2 407.3L157.7 407.4L160.2 407.5L162.7 407.6L165.2 407.8L167.7 407.9L170.2 408L172.7 408.2L175.2 408.5L177.7 409L180.2 409.6L182.7 410.7L185.2 412L187.7 413.4L190.2 414.6L192.7 415.1L195.2 414L197.7 412.1L200.2 410.2L202.7 409L205.2 408.4L207.7 408.1L210.2 407.9L212.7 407.8L215.2 407.8L217.7 407.8L220.2 407.9L222.7 408L225.2 408.1L227.7 408.4L230.2 409L232.7 409.9L235.2 411.4L237.7 413.6L240.2 416.3L242.7 418.8L245.2 420.7L247.7 421.9L250.2 422.4L252.7 421.7L255.2 419.8L257.7 417.3L260.2 415.1L262.7 413.4L265.2 412.2L267.7 411.4L270.2 410.9L272.7 410.5L275.2 410.2L277.7 409.9L280.2 409.7L282.7 409.5L285.2 409.4L287.7 409.3L290.2 409.4L292.7 409.5L295.2 409.6L297.7 409.8L300.2 409.9L302.7 410.1L305.2 410.2L307.7 410.2L310.2 410.2L312.7 410.2L315.2 410.2L317.7 410.3L320.2 410.3L322.7 410.3L325.2 410.4L327.7 410.4L330.2 410.4L332.7 410.5L335.2 410.5L337.7 410.7L340.2 410.8L342.7 411L345.2 411.3L347.7 411.8L350.2 412.7L352.7 414.4L355.2 416.7L357.7 419.4L360.2 421.6L362.7 422.4L365.2 420.7L365.3 420.6" stroke="#f6a88c" stroke-width="4.00"/>
<path d="M77.7 406.5L80.2 406.7L82.7 407L85.2 407.2L87.7 407.5L90.2 407.8L92.7 408.1L95.2 408.4L97.7 408.7L100.2 409L102.7 409.3L105.2 409.6L107.7 409.9L110.2 410.3L112.7 410.8L115.2 411.4L117.7 412.4L120.2 413.6L122.7 414.9L125.2 416.1L127.7 417.1L130.2 417.6L132.7 417.4L135.2 416.4L137.7 414.8L140.2 413.1L142.7 411.5L145.2 410.2L147.7 409.4L150.2 409L152.7 408.9L155.2 408.8L157.7 408.9L160.2 409L162.7 409.2L165.2 409.3L167.7 409.4L170.2 409.6L172.7 409.7L175.2 410.1L177.7 410.5L180.2 411.2L182.7 412.3L185.2 413.7L187.7 415.1L190.2 416.4L192.7 416.8L195.2 415.8L197.7 413.7L200.2 411.8L202.7 410.6L205.2 409.9L207.7 409.6L210.2 409.4L212.7 409.3L215.2 409.3L217.7 409.3L220.2 409.4L222.7 409.5L225.2 409.6L227.7 409.9L230.2 410.5L232.7 411.5L235.2 413L237.7 415.2L240.2 418L242.7 420.5L245.2 422.5L247.7 423.8L250.2 424.2L252.7 423.5L255.2 421.6L257.7 419L260.2 416.8L262.7 415.1L265.2 413.8L267.7 413L270.2 412.5L272.7 412.1L275.2 411.8L277.7 411.5L280.2 411.2L282.7 411L285.2 410.9L287.7 410.8L290.2 410.9L292.7 411L295.2 411.1L297.7 411.3L300.2 411.4L302.7 411.5L305.2 411.6L307.7 411.7L310.2 411.7L312.7 411.7L315.2 411.7L317.7 411.7L320.2 411.8L322.7 411.8L325.2 411.8L327.7 411.8L330.2 411.8L332.7 411.9L335.2 412L337.7 412.1L340.2 412.3L342.7 412.4L345.2 412.7L347.7 413.3L350.2 414.3L352.7 415.9L355.2 418.3L357.7 421.1L360.2 423.4L362.7 424.2L365.2 422.4L365.3 422.2" stroke="#f6a88c" stroke-width="4.00"/>
<path d="M77.7 408L80.2 408.3L82.7 408.5L85.2 408.8L87.7 409L90.2 409.3L92.7 409.6L95.2 410L97.7 410.3L100.2 410.6L102.7 410.9L105.2 411.2L107.7 411.5L110.2 411.9L112.7 412.4L115.2 413.1L117.7 414L120.2 415.3L122.7 416.6L125.2 417.9L127.7 418.9L130.2 419.4L132.7 419.2L135.2 418.2L137.7 416.6L140.2 414.8L142.7 413.1L145.2 411.8L147.7 411L150.2 410.6L152.7 410.4L155.2 410.4L157.7 410.4L160.2 410.6L162.7 410.7L165.2 410.9L167.7 411L170.2 411.1L172.7 411.3L175.2 411.6L177.7 412.1L180.2 412.8L182.7 413.9L185.2 415.3L187.7 416.8L190.2 418.1L192.7 418.6L195.2 417.5L197.7 415.4L200.2 413.4L202.7 412.1L205.2 411.4L207.7 411.1L210.2 410.9L212.7 410.9L215.2 410.8L217.7 410.8L220.2 410.9L222.7 411L225.2 411.1L227.7 411.5L230.2 412L232.7 413L235.2 414.6L237.7 416.9L240.2 419.7L242.7 422.3L245.2 424.3L247.7 425.7L250.2 426.1L252.7 425.4L255.2 423.4L257.7 420.8L260.2 418.5L262.7 416.7L265.2 415.4L267.7 414.5L270.2 414L272.7 413.6L275.2 413.3L277.7 413L280.2 412.7L282.7 412.5L285.2 412.4L287.7 412.3L290.2 412.4L292.7 412.5L295.2 412.6L297.7 412.7L300.2 412.9L302.7 413L305.2 413.1L307.7 413.2L310.2 413.2L312.7 413.1L315.2 413.2L317.7 413.2L320.2 413.2L322.7 413.3L325.2 413.3L327.7 413.3L330.2 413.3L332.7 413.4L335.2 413.4L337.7 413.6L340.2 413.7L342.7 413.9L345.2 414.2L347.7 414.7L350.2 415.8L352.7 417.5L355.2 419.9L357.7 422.8L360.2 425.1L362.7 425.9L365.2 424.1L365.3 423.9" stroke="#f7aa8d" stroke-width="4.00"/>
<path d="M77.7 409.6L80.2 409.8L82.7 410.1L85.2 410.3L87.7 410.6L90.2 410.9L92.7 411.2L95.2 411.5L97.7 411.8L100.2 412.2L102.7 412.5L105.2 412.8L107.7 413.1L110.2 413.5L112.7 414L115.2 414.7L117.7 415.7L120.2 417L122.7 418.4L125.2 419.7L127.7 420.7L130.2 421.2L132.7 421L135.2 420L137.7 418.3L140.2 416.4L142.7 414.7L145.2 413.4L147.7 412.6L150.2 412.1L152.7 412L155.2 411.9L157.7 412L160.2 412.1L162.7 412.2L165.2 412.4L167.7 412.5L170.2 412.7L172.7 412.9L175.2 413.2L177.7 413.7L180.2 414.4L182.7 415.5L185.2 417L187.7 418.5L190.2 419.8L192.7 420.3L195.2 419.2L197.7 417.1L200.2 415L202.7 413.7L205.2 413L207.7 412.6L210.2 412.5L212.7 412.4L215.2 412.3L217.7 412.4L220.2 412.4L222.7 412.5L225.2 412.7L227.7 413L230.2 413.6L232.7 414.6L235.2 416.2L237.7 418.5L240.2 421.4L242.7 424.1L245.2 426.1L247.7 427.5L250.2 428L252.7 427.3L255.2 425.2L257.7 422.6L260.2 420.2L262.7 418.4L265.2 417L267.7 416.1L270.2 415.6L272.7 415.2L275.2 414.8L277.7 414.5L280.2 414.2L282.7 414L285.2 413.9L287.7 413.8L290.2 413.9L292.7 413.9L295.2 414.1L297.7 414.2L300.2 414.4L302.7 414.5L305.2 414.6L307.7 414.6L310.2 414.6L312.7 414.6L315.2 414.6L317.7 414.7L320.2 414.7L322.7 414.7L325.2 414.7L327.7 414.7L330.2 414.8L332.7 414.8L335.2 414.9L337.7 415L340.2 415.2L342.7 415.4L345.2 415.6L347.7 416.2L350.2 417.3L352.7 419L355.2 421.5L357.7 424.5L360.2 426.9L362.7 427.7L365.2 425.8L365.3 425.6" stroke="#f7ab8f" stroke-width="4.00"/>
<path d="M77.7 411.1L80.2 411.3L82.7 411.6L85.2 411.9L87.7 412.2L90.2 412.5L92.7 412.8L95.2 413.1L97.7 413.4L100.2 413.8L102.7 414.1L105.2 414.4L107.7 414.8L110.2 415.2L112.7 415.7L115.2 416.4L117.7 417.4L120.2 418.7L122.7 420.1L125.2 421.4L127.7 422.5L130.2 423L132.7 422.8L135.2 421.7L137.7 420L140.2 418.1L142.7 416.4L145.2 415L147.7 414.1L150.2 413.7L152.7 413.5L155.2 413.5L157.7 413.5L160.2 413.6L162.7 413.8L165.2 414L167.7 414.1L170.2 414.2L172.7 414.4L175.2 414.7L177.7 415.2L180.2 416L182.7 417.2L185.2 418.7L187.7 420.2L190.2 421.6L192.7 422.1L195.2 421L197.7 418.8L200.2 416.6L202.7 415.3L205.2 414.5L207.7 414.2L210.2 414L212.7 413.9L215.2 413.9L217.7 413.9L220.2 413.9L222.7 414L225.2 414.2L227.7 414.5L230.2 415.1L232.7 416.1L235.2 417.8L237.7 420.2L240.2 423.2L242.7 425.9L245.2 428L247.7 429.4L250.2 429.9L252.7 429.2L255.2 427.1L257.7 424.3L260.2 421.9L262.7 420L265.2 418.6L267.7 417.7L270.2 417.2L272.7 416.8L275.2 416.4L277.7 416.1L280.2 415.8L282.7 415.5L285.2 415.4L287.7 415.3L290.2 415.3L292.7 415.4L295.2 415.6L297.7 415.7L300.2 415.9L302.7 416L305.2 416.1L307.7 416.1L310.2 416.1L312.7 416.1L315.2 416.1L317.7 416.1L320.2 416.2L322.7 416.2L325.2 416.2L327.7 416.2L330.2 416.2L332.7 416.3L335.2 416.3L337.7 416.5L340.2 416.6L342.7 416.8L345.2 417.1L347.7 417.7L350.2 418.8L352.7 420.6L355.2 423.1L357.7 426.2L360.2 428.6L362.7 429.5L365.2 427.5L365.3 427.3" stroke="#f7ab8f" stroke-width="4.00"/>
<path d="M77.7 412.6L80.2 412.9L82.7 413.1L85.2 413.4L87.7 413.7L90.2 414L92.7 414.3L95.2 414.7L97.7 415L100.2 415.3L102.7 415.7L105.2 416L107.7 416.4L110.2 416.8L112.7 417.3L115.2 418L117.7 419.1L120.2 420.4L122.7 421.9L125.2 423.2L127.7 424.3L130.2 424.9L132.7 424.6L135.2 423.5L137.7 421.7L140.2 419.8L142.7 418L145.2 416.6L147.7 415.7L150.2 415.2L152.7 415L155.2 415L157.7 415L160.2 415.2L162.7 415.3L165.2 415.5L167.7 415.6L170.2 415.8L172.7 416L175.2 416.3L177.7 416.8L180.2 417.6L182.7 418.8L185.2 420.3L187.7 421.9L190.2 423.4L192.7 423.9L195.2 422.7L197.7 420.4L200.2 418.3L202.7 416.8L205.2 416.1L207.7 415.7L210.2 415.5L212.7 415.4L215.2 415.4L217.7 415.4L220.2 415.4L222.7 415.5L225.2 415.7L227.7 416L230.2 416.6L232.7 417.7L235.2 419.4L237.7 421.8L240.2 424.9L242.7 427.7L245.2 429.8L247.7 431.3L250.2 431.8L252.7 431.1L255.2 428.9L257.7 426.1L260.2 423.6L262.7 421.7L265.2 420.3L267.7 419.3L270.2 418.8L272.7 418.3L275.2 417.9L277.7 417.6L280.2 417.3L282.7 417L285.2 416.9L287.7 416.8L290.2 416.8L292.7 416.9L295.2 417L297.7 417.2L300.2 417.3L302.7 417.5L305.2 417.5L307.7 417.6L310.2 417.6L312.7 417.6L315.2 417.6L317.7 417.6L320.2 417.6L322.7 417.6L325.2 417.6L327.7 417.6L330.2 417.7L332.7 417.7L335.2 417.8L337.7 417.9L340.2 418.1L342.7 418.3L345.2 418.6L347.7 419.2L350.2 420.3L352.7 422.1L355.2 424.8L357.7 427.9L360.2 430.4L362.7 431.3L365.2 429.2L365.3 429.1" stroke="#f7ac90" stroke-width="4.00"/>
<path d="M77.7 414.1L80.2 414.4L82.7 414.7L85.2 415L87.7 415.3L90.2 415.6L92.7 415.9L95.2 416.3L97.7 416.6L100.2 416.9L102.7 417.3L105.2 417.6L107.7 418L110.2 418.4L112.7 419L115.2 419.7L117.7 420.8L120.2 422.1L122.7 423.6L125.2 425L127.7 426.1L130.2 426.7L132.7 426.4L135.2 425.3L137.7 423.5L140.2 421.5L142.7 419.6L145.2 418.2L147.7 417.2L150.2 416.8L152.7 416.6L155.2 416.5L157.7 416.6L160.2 416.7L162.7 416.9L165.2 417.1L167.7 417.2L170.2 417.3L172.7 417.5L175.2 417.9L177.7 418.4L180.2 419.2L182.7 420.4L185.2 422L187.7 423.6L190.2 425.1L192.7 425.7L195.2 424.5L197.7 422.1L200.2 419.9L202.7 418.4L205.2 417.6L207.7 417.2L210.2 417L212.7 416.9L215.2 416.9L217.7 416.9L220.2 417L222.7 417L225.2 417.2L227.7 417.5L230.2 418.2L232.7 419.3L235.2 421L237.7 423.5L240.2 426.6L242.7 429.5L245.2 431.7L247.7 433.2L250.2 433.8L252.7 433L255.2 430.8L257.7 427.9L260.2 425.4L262.7 423.4L265.2 421.9L267.7 420.9L270.2 420.3L272.7 419.9L275.2 419.5L277.7 419.1L280.2 418.8L282.7 418.6L285.2 418.4L287.7 418.3L290.2 418.3L292.7 418.4L295.2 418.5L297.7 418.7L300.2 418.8L302.7 418.9L305.2 419L307.7 419L310.2 419L312.7 419L315.2 419L317.7 419.1L320.2 419.1L322.7 419.1L325.2 419.1L327.7 419.1L330.2 419.1L332.7 419.2L335.2 419.2L337.7 419.4L340.2 419.5L342.7 419.7L345.2 420L347.7 420.6L350.2 421.8L352.7 423.7L355.2 426.4L357.7 429.6L360.2 432.2L362.7 433.1L365.2 430.9L365.3 430.8" stroke="#f7ae91" stroke-width="4.00"/>
<path d="M77.7 415.7L80.2 415.9L82.7 416.2L85.2 416.5L87.7 416.8L90.2 417.1L92.7 417.5L95.2 417.8L97.7 418.2L100.2 418.5L102.7 418.9L105.2 419.3L107.7 419.6L110.2 420.1L112.7 420.6L115.2 421.4L117.7 422.5L120.2 423.8L122.7 425.4L125.2 426.8L127.7 427.9L130.2 428.5L132.7 428.3L135.2 427.1L137.7 425.2L140.2 423.2L142.7 421.3L145.2 419.8L147.7 418.8L150.2 418.3L152.7 418.1L155.2 418.1L157.7 418.1L160.2 418.3L162.7 418.4L165.2 418.6L167.7 418.8L170.2 418.9L172.7 419.1L175.2 419.5L177.7 420L180.2 420.8L182.7 422.1L185.2 423.7L187.7 425.4L190.2 426.9L192.7 427.5L195.2 426.2L197.7 423.8L200.2 421.5L202.7 420L205.2 419.2L207.7 418.8L210.2 418.6L212.7 418.4L215.2 418.4L217.7 418.4L220.2 418.5L222.7 418.6L225.2 418.7L227.7 419.1L230.2 419.7L232.7 420.8L235.2 422.6L237.7 425.1L240.2 428.3L242.7 431.3L245.2 433.5L247.7 435.1L250.2 435.7L252.7 434.9L255.2 432.6L257.7 429.7L260.2 427.1L262.7 425L265.2 423.5L267.7 422.5L270.2 421.9L272.7 421.5L275.2 421L277.7 420.7L280.2 420.3L282.7 420.1L285.2 419.9L287.7 419.8L290.2 419.8L292.7 419.9L295.2 420L297.7 420.2L300.2 420.3L302.7 420.4L305.2 420.5L307.7 420.5L310.2 420.5L312.7 420.5L315.2 420.5L317.7 420.5L320.2 420.6L322.7 420.6L325.2 420.6L327.7 420.6L330.2 420.6L332.7 420.6L335.2 420.7L337.7 420.8L340.2 421L342.7 421.2L345.2 421.5L347.7 422.1L350.2 423.3L352.7 425.3L355.2 428L357.7 431.3L360.2 434L362.7 434.9L365.2 432.6L365.3 432.5" stroke="#f7af93" stroke-width="4.00"/>
<path d="M77.7 417.2L80.2 417.5L82.7 417.8L85.2 418.1L87.7 418.4L90.2 418.7L92.7 419.1L95.2 419.4L97.7 419.8L100.2 420.2L102.7 420.5L105.2 420.9L107.7 421.3L110.2 421.7L112.7 422.3L115.2 423.1L117.7 424.2L120.2 425.6L122.7 427.1L125.2 428.6L127.7 429.7L130.2 430.4L132.7 430.1L135.2 428.9L137.7 427L140.2 424.9L142.7 422.9L145.2 421.4L147.7 420.4L150.2 419.9L152.7 419.7L155.2 419.6L157.7 419.7L160.2 419.8L162.7 420L165.2 420.2L167.7 420.3L170.2 420.5L172.7 420.7L175.2 421L177.7 421.6L180.2 422.4L182.7 423.7L185.2 425.4L187.7 427.1L190.2 428.7L192.7 429.3L195.2 428L197.7 425.5L200.2 423.1L202.7 421.6L205.2 420.7L207.7 420.3L210.2 420.1L212.7 420L215.2 419.9L217.7 419.9L220.2 420L222.7 420.1L225.2 420.2L227.7 420.6L230.2 421.2L232.7 422.4L235.2 424.2L237.7 426.8L240.2 430.1L242.7 433.1L245.2 435.4L247.7 437L250.2 437.6L252.7 436.8L255.2 434.5L257.7 431.5L260.2 428.8L262.7 426.7L265.2 425.2L267.7 424.1L270.2 423.5L272.7 423L275.2 422.6L277.7 422.2L280.2 421.9L282.7 421.6L285.2 421.4L287.7 421.3L290.2 421.3L292.7 421.4L295.2 421.5L297.7 421.6L300.2 421.8L302.7 421.9L305.2 422L307.7 422L310.2 422L312.7 422L315.2 422L317.7 422L320.2 422L322.7 422L325.2 422L327.7 422L330.2 422L332.7 422.1L335.2 422.1L337.7 422.3L340.2 422.4L342.7 422.6L345.2 423L347.7 423.6L350.2 424.8L352.7 426.8L355.2 429.7L357.7 433L360.2 435.7L362.7 436.7L365.2 434.3L365.3 434.2" stroke="#f7b094" stroke-width="4.00"/>
<path d="M77.7 418.7L80.2 419L82.7 419.3L85.2 419.6L87.7 419.9L90.2 420.3L92.7 420.6L95.2 421L97.7 421.4L100.2 421.8L102.7 422.1L105.2 422.5L107.7 422.9L110.2 423.3L112.7 423.9L115.2 424.7L117.7 425.9L120.2 427.3L122.7 428.9L125.2 430.4L127.7 431.6L130.2 432.2L132.7 431.9L135.2 430.7L137.7 428.7L140.2 426.6L142.7 424.6L145.2 423L147.7 421.9L150.2 421.5L152.7 421.2L155.2 421.2L157.7 421.2L160.2 421.4L162.7 421.5L165.2 421.7L167.7 421.9L170.2 422L172.7 422.2L175.2 422.6L177.7 423.2L180.2 424L182.7 425.3L185.2 427L187.7 428.8L190.2 430.4L192.7 431.1L195.2 429.8L197.7 427.2L200.2 424.8L202.7 423.1L205.2 422.3L207.7 421.8L210.2 421.6L212.7 421.5L215.2 421.5L217.7 421.5L220.2 421.5L222.7 421.6L225.2 421.8L227.7 422.1L230.2 422.8L232.7 423.9L235.2 425.8L237.7 428.5L240.2 431.8L242.7 434.9L245.2 437.3L247.7 439L250.2 439.6L252.7 438.7L255.2 436.4L257.7 433.3L260.2 430.5L262.7 428.4L265.2 426.8L267.7 425.7L270.2 425.1L272.7 424.6L275.2 424.2L277.7 423.7L280.2 423.4L282.7 423.1L285.2 422.9L287.7 422.8L290.2 422.8L292.7 422.9L295.2 423L297.7 423.1L300.2 423.3L302.7 423.4L305.2 423.5L307.7 423.5L310.2 423.5L312.7 423.4L315.2 423.4L317.7 423.5L320.2 423.5L322.7 423.5L325.2 423.5L327.7 423.5L330.2 423.5L332.7 423.5L335.2 423.6L337.7 423.7L340.2 423.9L342.7 424.1L345.2 424.4L347.7 425.1L350.2 426.3L352.7 428.4L355.2 431.3L357.7 434.8L360.2 437.5L362.7 438.5L365.2 436.1L365.3 435.9" stroke="#f8b296" stroke-width="4.00"/>
<path d="M77.7 420.3L80.2 420.6L82.7 420.9L85.2 421.2L87.7 421.5L90.2 421.9L92.7 422.2L95.2 422.6L97.7 423L100.2 423.4L102.7 423.7L105.2 424.1L107.7 424.5L110.2 425L112.7 425.6L115.2 426.4L117.7 427.6L120.2 429.1L122.7 430.7L125.2 432.2L127.7 433.4L130.2 434L132.7 433.8L135.2 432.5L137.7 430.5L140.2 428.3L142.7 426.2L145.2 424.6L147.7 423.5L150.2 423L152.7 422.8L155.2 422.7L157.7 422.8L160.2 422.9L162.7 423.1L165.2 423.3L167.7 423.4L170.2 423.6L172.7 423.8L175.2 424.2L177.7 424.8L180.2 425.6L182.7 427L185.2 428.7L187.7 430.6L190.2 432.2L192.7 432.9L195.2 431.5L197.7 428.9L200.2 426.4L202.7 424.7L205.2 423.8L207.7 423.4L210.2 423.1L212.7 423L215.2 423L217.7 423L220.2 423L222.7 423.1L225.2 423.3L227.7 423.7L230.2 424.3L232.7 425.5L235.2 427.4L237.7 430.1L240.2 433.6L242.7 436.8L245.2 439.2L247.7 440.9L250.2 441.5L252.7 440.7L255.2 438.3L257.7 435.1L260.2 432.3L262.7 430.1L265.2 428.4L267.7 427.4L270.2 426.7L272.7 426.2L275.2 425.7L277.7 425.3L280.2 424.9L282.7 424.6L285.2 424.4L287.7 424.3L290.2 424.3L292.7 424.4L295.2 424.5L297.7 424.6L300.2 424.8L302.7 424.9L305.2 424.9L307.7 425L310.2 424.9L312.7 424.9L315.2 424.9L317.7 424.9L320.2 425L322.7 425L325.2 424.9L327.7 424.9L330.2 424.9L332.7 425L335.2 425L337.7 425.2L340.2 425.3L342.7 425.5L345.2 425.9L347.7 426.6L350.2 427.8L352.7 430L355.2 433L357.7 436.5L360.2 439.3L362.7 440.3L365.2 437.8L365.3 437.7" stroke="#f8b397" stroke-width="4.00"/>
<path d="M77.7 421.8L80.2 422.1L82.7 422.4L85.2 422.7L87.7 423.1L90.2 423.4L92.7 423.8L95.2 424.2L97.7 424.6L100.2 425L102.7 425.4L105.2 425.8L107.7 426.2L110.2 426.6L112.7 427.2L115.2 428.1L117.7 429.3L120.2 430.8L122.7 432.5L125.2 434L127.7 435.3L130.2 435.9L132.7 435.6L135.2 434.3L137.7 432.2L140.2 430L142.7 427.9L145.2 426.2L147.7 425.1L150.2 424.6L152.7 424.3L155.2 424.3L157.7 424.3L160.2 424.5L162.7 424.7L165.2 424.8L167.7 425L170.2 425.1L172.7 425.4L175.2 425.8L177.7 426.4L180.2 427.2L182.7 428.6L185.2 430.4L187.7 432.3L190.2 434L192.7 434.7L195.2 433.3L197.7 430.6L200.2 428L202.7 426.3L205.2 425.4L207.7 424.9L210.2 424.7L212.7 424.6L215.2 424.5L217.7 424.5L220.2 424.6L222.7 424.6L225.2 424.8L227.7 425.2L230.2 425.9L232.7 427.1L235.2 429L237.7 431.8L240.2 435.3L242.7 438.6L245.2 441.1L247.7 442.8L250.2 443.5L252.7 442.6L255.2 440.2L257.7 436.9L260.2 434L262.7 431.8L265.2 430.1L267.7 429L270.2 428.3L272.7 427.8L275.2 427.3L277.7 426.8L280.2 426.4L282.7 426.1L285.2 425.9L287.7 425.8L290.2 425.8L292.7 425.9L295.2 426L297.7 426.1L300.2 426.2L302.7 426.4L305.2 426.4L307.7 426.4L310.2 426.4L312.7 426.4L315.2 426.4L317.7 426.4L320.2 426.4L322.7 426.4L325.2 426.4L327.7 426.4L330.2 426.4L332.7 426.4L335.2 426.5L337.7 426.6L340.2 426.8L342.7 427L345.2 427.3L347.7 428L350.2 429.3L352.7 431.5L355.2 434.6L357.7 438.2L360.2 441.1L362.7 442.1L365.2 439.6L365.3 439.4" stroke="#f8b499" stroke-width="4.00"/>
<path d="M77.7 423.3L80.2 423.7L82.7 424L85.2 424.3L87.7 424.6L90.2 425L92.7 425.4L95.2 425.8L97.7 426.2L100.2 426.6L102.7 427L105.2 427.4L107.7 427.8L110.2 428.3L112.7 428.9L115.2 429.8L117.7 431L120.2 432.6L122.7 434.3L125.2 435.8L127.7 437.1L130.2 437.8L132.7 437.5L135.2 436.1L137.7 434L140.2 431.7L142.7 429.5L145.2 427.8L147.7 426.7L150.2 426.1L152.7 425.9L155.2 425.8L157.7 425.9L160.2 426L162.7 426.2L165.2 426.4L167.7 426.6L170.2 426.7L172.7 427L175.2 427.3L177.7 428L180.2 428.9L182.7 430.3L185.2 432.1L187.7 434L190.2 435.8L192.7 436.5L195.2 435.1L197.7 432.3L200.2 429.7L202.7 427.9L205.2 426.9L207.7 426.5L210.2 426.2L212.7 426.1L215.2 426L217.7 426L220.2 426.1L222.7 426.2L225.2 426.3L227.7 426.7L230.2 427.4L232.7 428.6L235.2 430.6L237.7 433.5L240.2 437.1L242.7 440.4L245.2 443L247.7 444.8L250.2 445.4L252.7 444.6L255.2 442.1L257.7 438.7L260.2 435.8L262.7 433.5L265.2 431.7L267.7 430.6L270.2 429.9L272.7 429.3L275.2 428.8L277.7 428.4L280.2 428L282.7 427.7L285.2 427.4L287.7 427.3L290.2 427.3L292.7 427.4L295.2 427.5L297.7 427.6L300.2 427.7L302.7 427.8L305.2 427.9L307.7 427.9L310.2 427.9L312.7 427.8L315.2 427.8L317.7 427.9L320.2 427.9L322.7 427.9L325.2 427.9L327.7 427.8L330.2 427.8L332.7 427.9L335.2 427.9L337.7 428.1L340.2 428.2L342.7 428.5L345.2 428.8L347.7 429.5L350.2 430.9L352.7 433.1L355.2 436.3L357.7 440L360.2 442.9L362.7 443.9L365.2 441.3L365.3 441.1" stroke="#f8b69a" stroke-width="4.00"/>
<path d="M77.7 424.9L80.2 425.2L82.7 425.5L85.2 425.8L87.7 426.2L90.2 426.6L92.7 427L95.2 427.4L97.7 427.8L100.2 428.2L102.7 428.6L105.2 429L107.7 429.5L110.2 430L112.7 430.6L115.2 431.5L117.7 432.7L120.2 434.3L122.7 436L125.2 437.7L127.7 439L130.2 439.6L132.7 439.3L135.2 438L137.7 435.8L140.2 433.4L142.7 431.2L145.2 429.4L147.7 428.3L150.2 427.7L152.7 427.5L155.2 427.4L157.7 427.4L160.2 427.6L162.7 427.8L165.2 428L167.7 428.1L170.2 428.3L172.7 428.5L175.2 428.9L177.7 429.6L180.2 430.5L182.7 431.9L185.2 433.8L187.7 435.8L190.2 437.6L192.7 438.4L195.2 436.9L197.7 434.1L200.2 431.3L202.7 429.5L205.2 428.5L207.7 428L210.2 427.7L212.7 427.6L215.2 427.6L217.7 427.6L220.2 427.6L222.7 427.7L225.2 427.9L227.7 428.3L230.2 429L232.7 430.2L235.2 432.2L237.7 435.2L240.2 438.9L242.7 442.3L245.2 444.9L247.7 446.7L250.2 447.4L252.7 446.5L255.2 444L257.7 440.5L260.2 437.5L262.7 435.2L265.2 433.4L267.7 432.2L270.2 431.5L272.7 430.9L275.2 430.4L277.7 429.9L280.2 429.5L282.7 429.2L285.2 428.9L287.7 428.8L290.2 428.8L292.7 428.9L295.2 429L297.7 429.1L300.2 429.2L302.7 429.3L305.2 429.4L307.7 429.4L310.2 429.3L312.7 429.3L315.2 429.3L317.7 429.3L320.2 429.4L322.7 429.3L325.2 429.3L327.7 429.3L330.2 429.3L332.7 429.3L335.2 429.4L337.7 429.5L340.2 429.7L342.7 429.9L345.2 430.3L347.7 431L350.2 432.4L352.7 434.7L355.2 437.9L357.7 441.7L360.2 444.8L362.7 445.7L365.2 443.1L365.3 442.9" stroke="#f8b79c" stroke-width="4.00"/>
<path d="M77.7 426.4L80.2 426.7L82.7 427.1L85.2 427.4L87.7 427.8L90.2 428.2L92.7 428.6L95.2 429L97.7 429.4L100.2 429.8L102.7 430.2L105.2 430.7L107.7 431.1L110.2 431.6L112.7 432.3L115.2 433.2L117.7 434.4L120.2 436.1L122.7 437.8L125.2 439.5L127.7 440.8L130.2 441.5L132.7 441.2L135.2 439.8L137.7 437.6L140.2 435.1L142.7 432.8L145.2 431L147.7 429.8L150.2 429.3L152.7 429L155.2 428.9L157.7 429L160.2 429.1L162.7 429.3L165.2 429.5L167.7 429.7L170.2 429.9L172.7 430.1L175.2 430.5L177.7 431.2L180.2 432.1L182.7 433.6L185.2 435.5L187.7 437.5L190.2 439.4L192.7 440.2L195.2 438.7L197.7 435.8L200.2 432.9L202.7 431.1L205.2 430.1L207.7 429.6L210.2 429.3L212.7 429.1L215.2 429.1L217.7 429.1L220.2 429.1L222.7 429.2L225.2 429.4L227.7 429.8L230.2 430.5L232.7 431.8L235.2 433.8L237.7 436.9L240.2 440.6L242.7 444.1L245.2 446.8L247.7 448.7L250.2 449.4L252.7 448.5L255.2 445.9L257.7 442.4L260.2 439.3L262.7 436.9L265.2 435L267.7 433.8L270.2 433.1L272.7 432.5L275.2 432L277.7 431.5L280.2 431L282.7 430.7L285.2 430.5L287.7 430.3L290.2 430.3L292.7 430.4L295.2 430.5L297.7 430.6L300.2 430.7L302.7 430.8L305.2 430.9L307.7 430.9L310.2 430.8L312.7 430.8L315.2 430.8L317.7 430.8L320.2 430.8L322.7 430.8L325.2 430.8L327.7 430.7L330.2 430.7L332.7 430.8L335.2 430.8L337.7 431L340.2 431.1L342.7 431.4L345.2 431.7L347.7 432.5L350.2 433.9L352.7 436.2L355.2 439.6L357.7 443.5L360.2 446.6L362.7 447.6L365.2 444.8L365.3 444.6" stroke="#f8b89d" stroke-width="4.00"/>
<path d="M77.7 428L80.2 428.3L82.7 428.6L85.2 429L87.7 429.3L90.2 429.7L92.7 430.2L95.2 430.6L97.7 431L100.2 431.4L102.7 431.9L105.2 432.3L107.7 432.8L110.2 433.3L112.7 433.9L115.2 434.9L117.7 436.2L120.2 437.8L122.7 439.6L125.2 441.3L127.7 442.7L130.2 443.4L132.7 443.1L135.2 441.6L137.7 439.3L140.2 436.8L142.7 434.5L145.2 432.6L147.7 431.4L150.2 430.8L152.7 430.6L155.2 430.5L157.7 430.5L160.2 430.7L162.7 430.9L165.2 431.1L167.7 431.3L170.2 431.4L172.7 431.7L175.2 432.1L177.7 432.8L180.2 433.7L182.7 435.2L185.2 437.2L187.7 439.3L190.2 441.2L192.7 442L195.2 440.5L197.7 437.5L200.2 434.6L202.7 432.7L205.2 431.6L207.7 431.1L210.2 430.8L212.7 430.7L215.2 430.6L217.7 430.6L220.2 430.7L222.7 430.7L225.2 430.9L227.7 431.3L230.2 432.1L232.7 433.4L235.2 435.5L237.7 438.5L240.2 442.4L242.7 446L245.2 448.7L247.7 450.7L250.2 451.4L252.7 450.5L255.2 447.8L257.7 444.2L260.2 441L262.7 438.6L265.2 436.7L267.7 435.4L270.2 434.7L272.7 434.1L275.2 433.5L277.7 433L280.2 432.6L282.7 432.2L285.2 432L287.7 431.8L290.2 431.8L292.7 431.8L295.2 431.9L297.7 432.1L300.2 432.2L302.7 432.3L305.2 432.4L307.7 432.3L310.2 432.3L312.7 432.2L315.2 432.2L317.7 432.3L320.2 432.3L322.7 432.3L325.2 432.2L327.7 432.2L330.2 432.2L332.7 432.2L335.2 432.3L337.7 432.4L340.2 432.6L342.7 432.8L345.2 433.2L347.7 434L350.2 435.4L352.7 437.8L355.2 441.3L357.7 445.2L360.2 448.4L362.7 449.4L365.2 446.6L365.3 446.4" stroke="#f8b99f" stroke-width="4.00"/>
<path d="M77.7 429.5L80.2 429.8L82.7 430.2L85.2 430.5L87.7 430.9L90.2 431.3L92.7 431.8L95.2 432.2L97.7 432.6L100.2 433.1L102.7 433.5L105.2 433.9L107.7 434.4L110.2 434.9L112.7 435.6L115.2 436.6L117.7 437.9L120.2 439.6L122.7 441.5L125.2 443.2L127.7 444.6L130.2 445.3L132.7 444.9L135.2 443.5L137.7 441.1L140.2 438.6L142.7 436.2L145.2 434.2L147.7 433L150.2 432.4L152.7 432.1L155.2 432L157.7 432.1L160.2 432.3L162.7 432.5L165.2 432.7L167.7 432.8L170.2 433L172.7 433.3L175.2 433.7L177.7 434.4L180.2 435.3L182.7 436.9L185.2 438.9L187.7 441.1L190.2 443.1L192.7 443.9L195.2 442.3L197.7 439.2L200.2 436.2L202.7 434.3L205.2 433.2L207.7 432.7L210.2 432.4L212.7 432.2L215.2 432.1L217.7 432.1L220.2 432.2L222.7 432.3L225.2 432.5L227.7 432.9L230.2 433.6L232.7 434.9L235.2 437.1L237.7 440.2L240.2 444.2L242.7 447.9L245.2 450.6L247.7 452.6L250.2 453.4L252.7 452.5L255.2 449.7L257.7 446L260.2 442.8L262.7 440.3L265.2 438.3L267.7 437.1L270.2 436.3L272.7 435.7L275.2 435.1L277.7 434.6L280.2 434.1L282.7 433.7L285.2 433.5L287.7 433.3L290.2 433.3L292.7 433.3L295.2 433.4L297.7 433.6L300.2 433.7L302.7 433.8L305.2 433.8L307.7 433.8L310.2 433.8L312.7 433.7L315.2 433.7L317.7 433.7L320.2 433.8L322.7 433.7L325.2 433.7L327.7 433.7L330.2 433.6L332.7 433.7L335.2 433.7L337.7 433.9L340.2 434L342.7 434.3L345.2 434.7L347.7 435.5L350.2 436.9L352.7 439.4L355.2 442.9L357.7 447L360.2 450.2L362.7 451.3L365.2 448.3L365.3 448.2" stroke="#f8baa0" stroke-width="4.00"/>
<path d="M77.7 431.1L80.2 431.4L82.7 431.7L85.2 432.1L87.7 432.5L90.2 432.9L92.7 433.4L95.2 433.8L97.7 434.3L100.2 434.7L102.7 435.1L105.2 435.6L107.7 436.1L110.2 436.6L112.7 437.3L115.2 438.3L117.7 439.6L120.2 441.4L122.7 443.3L125.2 445L127.7 446.4L130.2 447.2L132.7 446.8L135.2 445.3L137.7 442.9L140.2 440.3L142.7 437.8L145.2 435.8L147.7 434.6L150.2 434L152.7 433.7L155.2 433.6L157.7 433.7L160.2 433.8L162.7 434L165.2 434.2L167.7 434.4L170.2 434.6L172.7 434.9L175.2 435.3L177.7 436L180.2 437L182.7 438.6L185.2 440.6L187.7 442.8L190.2 444.9L192.7 445.7L195.2 444.1L197.7 441L200.2 437.9L202.7 435.9L205.2 434.8L207.7 434.2L210.2 433.9L212.7 433.7L215.2 433.7L217.7 433.7L220.2 433.7L222.7 433.8L225.2 434L227.7 434.4L230.2 435.2L232.7 436.5L235.2 438.7L237.7 441.9L240.2 446L242.7 449.7L245.2 452.6L247.7 454.6L250.2 455.4L252.7 454.5L255.2 451.7L257.7 447.9L260.2 444.6L262.7 442L265.2 440L267.7 438.7L270.2 437.9L272.7 437.3L275.2 436.7L277.7 436.1L280.2 435.7L282.7 435.3L285.2 435L287.7 434.8L290.2 434.8L292.7 434.8L295.2 434.9L297.7 435.1L300.2 435.2L302.7 435.3L305.2 435.3L307.7 435.3L310.2 435.2L312.7 435.2L315.2 435.2L317.7 435.2L320.2 435.2L322.7 435.2L325.2 435.2L327.7 435.1L330.2 435.1L332.7 435.1L335.2 435.2L337.7 435.3L340.2 435.5L342.7 435.7L345.2 436.1L347.7 436.9L350.2 438.5L352.7 441L355.2 444.6L357.7 448.7L360.2 452.1L362.7 453.1L365.2 450.1L365.3 449.9" stroke="#f8bca2" stroke-width="4.00"/>
<path d="M77.7 432.6L80.2 432.9L82.7 433.3L85.2 433.7L87.7 434.1L90.2 434.5L92.7 434.9L95.2 435.4L97.7 435.9L100.2 436.3L102.7 436.8L105.2 437.2L107.7 437.7L110.2 438.3L112.7 439L115.2 440L117.7 441.4L120.2 443.2L122.7 445.1L125.2 446.9L127.7 448.3L130.2 449.1L132.7 448.7L135.2 447.2L137.7 444.7L140.2 442L142.7 439.5L145.2 437.5L147.7 436.2L150.2 435.5L152.7 435.3L155.2 435.2L157.7 435.2L160.2 435.4L162.7 435.6L165.2 435.8L167.7 436L170.2 436.2L172.7 436.4L175.2 436.9L177.7 437.6L180.2 438.6L182.7 440.2L185.2 442.4L187.7 444.6L190.2 446.7L192.7 447.6L195.2 446L197.7 442.7L200.2 439.5L202.7 437.5L205.2 436.3L207.7 435.8L210.2 435.4L212.7 435.3L215.2 435.2L217.7 435.2L220.2 435.2L222.7 435.3L225.2 435.5L227.7 435.9L230.2 436.7L232.7 438.1L235.2 440.3L237.7 443.6L240.2 447.8L242.7 451.6L245.2 454.5L247.7 456.6L250.2 457.4L252.7 456.5L255.2 453.6L257.7 449.7L260.2 446.4L262.7 443.7L265.2 441.7L267.7 440.3L270.2 439.5L272.7 438.8L275.2 438.2L277.7 437.7L280.2 437.2L282.7 436.8L285.2 436.5L287.7 436.3L290.2 436.3L292.7 436.3L295.2 436.4L297.7 436.6L300.2 436.7L302.7 436.8L305.2 436.8L307.7 436.8L310.2 436.7L312.7 436.7L315.2 436.6L317.7 436.7L320.2 436.7L322.7 436.7L325.2 436.6L327.7 436.6L330.2 436.5L332.7 436.6L335.2 436.6L337.7 436.8L340.2 436.9L342.7 437.2L345.2 437.6L347.7 438.4L350.2 440L352.7 442.6L355.2 446.3L357.7 450.5L360.2 453.9L362.7 455L365.2 451.9L365.3 451.7" stroke="#f7bea5" stroke-width="4.00"/>
<path d="M77.7 434.2L80.2 434.5L82.7 434.9L85.2 435.2L87.7 435.7L90.2 436.1L92.7 436.5L95.2 437L97.7 437.5L100.2 438L102.7 438.4L105.2 438.9L107.7 439.4L110.2 440L112.7 440.7L115.2 441.7L117.7 443.1L120.2 444.9L122.7 446.9L125.2 448.8L127.7 450.2L130.2 451L132.7 450.6L135.2 449.1L137.7 446.5L140.2 443.8L142.7 441.2L145.2 439.1L147.7 437.8L150.2 437.1L152.7 436.8L155.2 436.7L157.7 436.8L160.2 436.9L162.7 437.2L165.2 437.4L167.7 437.6L170.2 437.8L172.7 438L175.2 438.5L177.7 439.2L180.2 440.2L182.7 441.9L185.2 444.1L187.7 446.4L190.2 448.6L192.7 449.4L195.2 447.8L197.7 444.4L200.2 441.2L202.7 439.1L205.2 437.9L207.7 437.3L210.2 437L212.7 436.8L215.2 436.7L217.7 436.7L220.2 436.8L222.7 436.9L225.2 437.1L227.7 437.5L230.2 438.3L232.7 439.7L235.2 442L237.7 445.3L240.2 449.6L242.7 453.5L245.2 456.5L247.7 458.6L250.2 459.5L252.7 458.5L255.2 455.6L257.7 451.6L260.2 448.1L262.7 445.4L265.2 443.3L267.7 442L270.2 441.1L272.7 440.4L275.2 439.8L277.7 439.2L280.2 438.7L282.7 438.3L285.2 438L287.7 437.9L290.2 437.8L292.7 437.8L295.2 437.9L297.7 438L300.2 438.2L302.7 438.3L305.2 438.3L307.7 438.3L310.2 438.2L312.7 438.1L315.2 438.1L317.7 438.1L320.2 438.2L322.7 438.1L325.2 438.1L327.7 438L330.2 438L332.7 438L335.2 438.1L337.7 438.2L340.2 438.4L342.7 438.7L345.2 439.1L347.7 439.9L350.2 441.5L352.7 444.2L355.2 447.9L357.7 452.3L360.2 455.8L362.7 456.9L365.2 453.7L365.3 453.5" stroke="#f7bfa6" stroke-width="4.00"/>
<path d="M77.7 435.7L80.2 436.1L82.7 436.4L85.2 436.8L87.7 437.2L90.2 437.7L92.7 438.2L95.2 438.6L97.7 439.1L100.2 439.6L102.7 440.1L105.2 440.6L107.7 441.1L110.2 441.6L112.7 442.4L115.2 443.4L117.7 444.9L120.2 446.7L122.7 448.8L125.2 450.6L127.7 452.1L130.2 452.9L132.7 452.5L135.2 450.9L137.7 448.3L140.2 445.5L142.7 442.9L145.2 440.7L147.7 439.4L150.2 438.7L152.7 438.4L155.2 438.3L157.7 438.3L160.2 438.5L162.7 438.7L165.2 439L167.7 439.2L170.2 439.3L172.7 439.6L175.2 440.1L177.7 440.8L180.2 441.9L182.7 443.6L185.2 445.8L187.7 448.2L190.2 450.4L192.7 451.3L195.2 449.6L197.7 446.2L200.2 442.9L202.7 440.7L205.2 439.5L207.7 438.9L210.2 438.5L212.7 438.4L215.2 438.3L217.7 438.3L220.2 438.3L222.7 438.4L225.2 438.6L227.7 439L230.2 439.8L232.7 441.3L235.2 443.6L237.7 447L240.2 451.4L242.7 455.4L245.2 458.4L247.7 460.6L250.2 461.5L252.7 460.5L255.2 457.5L257.7 453.5L260.2 449.9L262.7 447.1L265.2 445L267.7 443.6L270.2 442.7L272.7 442L275.2 441.4L277.7 440.8L280.2 440.3L282.7 439.8L285.2 439.5L287.7 439.4L290.2 439.3L292.7 439.3L295.2 439.4L297.7 439.5L300.2 439.7L302.7 439.7L305.2 439.8L307.7 439.8L310.2 439.7L312.7 439.6L315.2 439.6L317.7 439.6L320.2 439.6L322.7 439.6L325.2 439.5L327.7 439.5L330.2 439.4L332.7 439.5L335.2 439.5L337.7 439.7L340.2 439.9L342.7 440.1L345.2 440.5L347.7 441.4L350.2 443L352.7 445.8L355.2 449.6L357.7 454.1L360.2 457.6L362.7 458.7L365.2 455.4L365.3 455.2" stroke="#f7c0a7" stroke-width="4.00"/>
<path d="M77.7 437.3L80.2 437.6L82.7 438L85.2 438.4L87.7 438.8L90.2 439.3L92.7 439.8L95.2 440.3L97.7 440.7L100.2 441.2L102.7 441.7L105.2 442.2L107.7 442.7L110.2 443.3L112.7 444.1L115.2 445.2L117.7 446.6L120.2 448.5L122.7 450.6L125.2 452.5L127.7 454L130.2 454.8L132.7 454.4L135.2 452.8L137.7 450.2L140.2 447.3L142.7 444.5L145.2 442.4L147.7 441L150.2 440.3L152.7 440L155.2 439.9L157.7 439.9L160.2 440.1L162.7 440.3L165.2 440.6L167.7 440.7L170.2 440.9L172.7 441.2L175.2 441.7L177.7 442.4L180.2 443.5L182.7 445.3L185.2 447.5L187.7 450L190.2 452.2L192.7 453.2L195.2 451.4L197.7 447.9L200.2 444.5L202.7 442.3L205.2 441L207.7 440.4L210.2 440.1L212.7 439.9L215.2 439.8L217.7 439.8L220.2 439.8L222.7 439.9L225.2 440.1L227.7 440.6L230.2 441.4L232.7 442.9L235.2 445.2L237.7 448.7L240.2 453.2L242.7 457.3L245.2 460.4L247.7 462.6L250.2 463.6L252.7 462.6L255.2 459.5L257.7 455.3L260.2 451.7L262.7 448.8L265.2 446.7L267.7 445.2L270.2 444.3L272.7 443.6L275.2 443L277.7 442.4L280.2 441.8L282.7 441.4L285.2 441.1L287.7 440.9L290.2 440.8L292.7 440.8L295.2 440.9L297.7 441L300.2 441.1L302.7 441.2L305.2 441.3L307.7 441.2L310.2 441.2L312.7 441.1L315.2 441.1L317.7 441.1L320.2 441.1L322.7 441.1L325.2 441L327.7 440.9L330.2 440.9L332.7 440.9L335.2 441L337.7 441.1L340.2 441.3L342.7 441.6L345.2 442L347.7 442.9L350.2 444.6L352.7 447.3L355.2 451.3L357.7 455.9L360.2 459.5L362.7 460.6L365.2 457.2L365.3 457" stroke="#f7c1a9" stroke-width="4.00"/>
<path d="M77.7 438.8L80.2 439.2L82.7 439.6L85.2 440L87.7 440.4L90.2 440.9L92.7 441.4L95.2 441.9L97.7 442.4L100.2 442.9L102.7 443.4L105.2 443.9L107.7 444.4L110.2 445L112.7 445.8L115.2 446.9L117.7 448.4L120.2 450.3L122.7 452.4L125.2 454.4L127.7 455.9L130.2 456.7L132.7 456.4L135.2 454.7L137.7 452L140.2 449L142.7 446.2L145.2 444L147.7 442.6L150.2 441.9L152.7 441.5L155.2 441.4L157.7 441.5L160.2 441.7L162.7 441.9L165.2 442.1L167.7 442.3L170.2 442.5L172.7 442.8L175.2 443.3L177.7 444.1L180.2 445.2L182.7 446.9L185.2 449.3L187.7 451.8L190.2 454.1L192.7 455.1L195.2 453.3L197.7 449.7L200.2 446.2L202.7 443.9L205.2 442.6L207.7 442L210.2 441.6L212.7 441.4L215.2 441.4L217.7 441.3L220.2 441.4L222.7 441.5L225.2 441.7L227.7 442.1L230.2 443L232.7 444.5L235.2 446.9L237.7 450.5L240.2 455L242.7 459.2L245.2 462.4L247.7 464.7L250.2 465.6L252.7 464.6L255.2 461.4L257.7 457.2L260.2 453.5L262.7 450.6L265.2 448.3L267.7 446.9L270.2 445.9L272.7 445.2L275.2 444.5L277.7 443.9L280.2 443.4L282.7 442.9L285.2 442.6L287.7 442.4L290.2 442.3L292.7 442.3L295.2 442.4L297.7 442.5L300.2 442.6L302.7 442.7L305.2 442.8L307.7 442.7L310.2 442.6L312.7 442.6L315.2 442.5L317.7 442.5L320.2 442.6L322.7 442.5L325.2 442.5L327.7 442.4L330.2 442.4L332.7 442.4L335.2 442.4L337.7 442.6L340.2 442.8L342.7 443L345.2 443.5L347.7 444.4L350.2 446.1L352.7 448.9L355.2 453L357.7 457.6L360.2 461.4L362.7 462.5L365.2 459L365.3 458.8" stroke="#f7c2aa" stroke-width="4.00"/>
<path d="M77.7 440.4L80.2 440.7L82.7 441.1L85.2 441.5L87.7 442L90.2 442.5L92.7 443L95.2 443.5L97.7 444L100.2 444.5L102.7 445L105.2 445.5L107.7 446.1L110.2 446.7L112.7 447.5L115.2 448.6L117.7 450.2L120.2 452.1L122.7 454.3L125.2 456.3L127.7 457.9L130.2 458.7L132.7 458.3L135.2 456.6L137.7 453.8L140.2 450.8L142.7 447.9L145.2 445.6L147.7 444.2L150.2 443.4L152.7 443.1L155.2 443L157.7 443.1L160.2 443.2L162.7 443.5L165.2 443.7L167.7 443.9L170.2 444.1L172.7 444.4L175.2 444.9L177.7 445.7L180.2 446.8L182.7 448.6L185.2 451L187.7 453.6L190.2 456L192.7 457L195.2 455.1L197.7 451.4L200.2 447.9L202.7 445.5L205.2 444.2L207.7 443.5L210.2 443.2L212.7 443L215.2 442.9L217.7 442.9L220.2 442.9L222.7 443L225.2 443.2L227.7 443.7L230.2 444.5L232.7 446L235.2 448.5L237.7 452.2L240.2 456.8L242.7 461.1L245.2 464.3L247.7 466.7L250.2 467.7L252.7 466.6L255.2 463.4L257.7 459.1L260.2 455.3L262.7 452.3L265.2 450L267.7 448.5L270.2 447.6L272.7 446.8L275.2 446.1L277.7 445.5L280.2 444.9L282.7 444.4L285.2 444.1L287.7 443.9L290.2 443.8L292.7 443.8L295.2 443.9L297.7 444L300.2 444.1L302.7 444.2L305.2 444.2L307.7 444.2L310.2 444.1L312.7 444L315.2 444L317.7 444L320.2 444L322.7 444L325.2 443.9L327.7 443.9L330.2 443.8L332.7 443.8L335.2 443.9L337.7 444L340.2 444.2L342.7 444.5L345.2 444.9L347.7 445.9L350.2 447.6L352.7 450.5L355.2 454.7L357.7 459.4L360.2 463.2L362.7 464.4L365.2 460.8L365.3 460.6" stroke="#f6c3ac" stroke-width="4.00"/>
<path d="M77.7 441.9L80.2 442.3L82.7 442.7L85.2 443.1L87.7 443.6L90.2 444.1L92.7 444.6L95.2 445.1L97.7 445.6L100.2 446.2L102.7 446.7L105.2 447.2L107.7 447.8L110.2 448.4L112.7 449.2L115.2 450.3L117.7 451.9L120.2 453.9L122.7 456.1L125.2 458.2L127.7 459.8L130.2 460.6L132.7 460.2L135.2 458.5L137.7 455.6L140.2 452.5L142.7 449.6L145.2 447.3L147.7 445.8L150.2 445L152.7 444.7L155.2 444.6L157.7 444.6L160.2 444.8L162.7 445L165.2 445.3L167.7 445.5L170.2 445.7L172.7 446L175.2 446.5L177.7 447.3L180.2 448.5L182.7 450.3L185.2 452.8L187.7 455.4L190.2 457.8L192.7 458.9L195.2 457L197.7 453.2L200.2 449.5L202.7 447.1L205.2 445.8L207.7 445.1L210.2 444.7L212.7 444.5L215.2 444.4L217.7 444.4L220.2 444.5L222.7 444.5L225.2 444.7L227.7 445.2L230.2 446.1L232.7 447.6L235.2 450.2L237.7 453.9L240.2 458.6L242.7 463L245.2 466.3L247.7 468.7L250.2 469.7L252.7 468.7L255.2 465.4L257.7 461L260.2 457.1L262.7 454L265.2 451.7L267.7 450.2L270.2 449.2L272.7 448.4L275.2 447.7L277.7 447L280.2 446.5L282.7 446L285.2 445.6L287.7 445.4L290.2 445.3L292.7 445.3L295.2 445.4L297.7 445.5L300.2 445.6L302.7 445.7L305.2 445.7L307.7 445.7L310.2 445.6L312.7 445.5L315.2 445.5L317.7 445.5L320.2 445.5L322.7 445.5L325.2 445.4L327.7 445.3L330.2 445.3L332.7 445.3L335.2 445.3L337.7 445.5L340.2 445.7L342.7 445.9L345.2 446.4L347.7 447.3L350.2 449.1L352.7 452.1L355.2 456.4L357.7 461.2L360.2 465.1L362.7 466.3L365.2 462.6L365.3 462.4" stroke="#f6c5ad" stroke-width="4.00"/>
<path d="M77.7 443.5L80.2 443.9L82.7 444.3L85.2 444.7L87.7 445.2L90.2 445.7L92.7 446.2L95.2 446.7L97.7 447.3L100.2 447.8L102.7 448.3L105.2 448.9L107.7 449.5L110.2 450.1L112.7 450.9L115.2 452.1L117.7 453.7L120.2 455.8L122.7 458L125.2 460.1L127.7 461.7L130.2 462.6L132.7 462.2L135.2 460.4L137.7 457.5L140.2 454.3L142.7 451.3L145.2 448.9L147.7 447.4L150.2 446.6L152.7 446.3L155.2 446.1L157.7 446.2L160.2 446.4L162.7 446.6L165.2 446.9L167.7 447.1L170.2 447.3L172.7 447.6L175.2 448.1L177.7 448.9L180.2 450.1L182.7 452L185.2 454.5L187.7 457.2L190.2 459.7L192.7 460.8L195.2 458.8L197.7 455L200.2 451.2L202.7 448.7L205.2 447.3L207.7 446.7L210.2 446.3L212.7 446.1L215.2 446L217.7 446L220.2 446L222.7 446.1L225.2 446.3L227.7 446.8L230.2 447.7L232.7 449.2L235.2 451.8L237.7 455.6L240.2 460.5L242.7 464.9L245.2 468.3L247.7 470.8L250.2 471.8L252.7 470.8L255.2 467.4L257.7 462.9L260.2 458.9L262.7 455.8L265.2 453.4L267.7 451.8L270.2 450.8L272.7 450L275.2 449.3L277.7 448.6L280.2 448L282.7 447.5L285.2 447.1L287.7 446.9L290.2 446.8L292.7 446.8L295.2 446.9L297.7 447L300.2 447.1L302.7 447.2L305.2 447.2L307.7 447.2L310.2 447.1L312.7 447L315.2 446.9L317.7 447L320.2 447L322.7 446.9L325.2 446.8L327.7 446.8L330.2 446.7L332.7 446.7L335.2 446.8L337.7 446.9L340.2 447.1L342.7 447.4L345.2 447.9L347.7 448.8L350.2 450.7L352.7 453.7L355.2 458.1L357.7 463L360.2 467L362.7 468.2L365.2 464.4L365.3 464.2" stroke="#f6c6af" stroke-width="4.00"/>
<path d="M77.7 445L80.2 445.4L82.7 445.9L85.2 446.3L87.7 446.8L90.2 447.3L92.7 447.8L95.2 448.4L97.7 448.9L100.2 449.5L102.7 450L105.2 450.6L107.7 451.1L110.2 451.8L112.7 452.7L115.2 453.8L117.7 455.5L120.2 457.6L122.7 459.9L125.2 462L127.7 463.6L130.2 464.5L132.7 464.1L135.2 462.3L137.7 459.3L140.2 456.1L142.7 453L145.2 450.5L147.7 449L150.2 448.2L152.7 447.8L155.2 447.7L157.7 447.8L160.2 448L162.7 448.2L165.2 448.5L167.7 448.7L170.2 448.9L172.7 449.2L175.2 449.7L177.7 450.6L180.2 451.8L182.7 453.7L185.2 456.3L187.7 459L190.2 461.6L192.7 462.7L195.2 460.7L197.7 456.8L200.2 452.9L202.7 450.3L205.2 448.9L207.7 448.2L210.2 447.8L212.7 447.6L215.2 447.5L217.7 447.5L220.2 447.5L222.7 447.6L225.2 447.8L227.7 448.3L230.2 449.2L232.7 450.8L235.2 453.5L237.7 457.4L240.2 462.3L242.7 466.9L245.2 470.3L247.7 472.9L250.2 473.9L252.7 472.8L255.2 469.4L257.7 464.8L260.2 460.7L262.7 457.5L265.2 455.1L267.7 453.5L270.2 452.4L272.7 451.6L275.2 450.9L277.7 450.2L280.2 449.6L282.7 449L285.2 448.7L287.7 448.4L290.2 448.3L292.7 448.3L295.2 448.4L297.7 448.5L300.2 448.6L302.7 448.7L305.2 448.7L307.7 448.7L310.2 448.5L312.7 448.5L315.2 448.4L317.7 448.4L320.2 448.4L322.7 448.4L325.2 448.3L327.7 448.2L330.2 448.2L332.7 448.2L335.2 448.2L337.7 448.4L340.2 448.6L342.7 448.9L345.2 449.3L347.7 450.3L350.2 452.2L352.7 455.3L355.2 459.8L357.7 464.9L360.2 468.9L362.7 470.1L365.2 466.3L365.3 466" stroke="#f6c7b0" stroke-width="4.00"/>
<path d="M77.7 446.6L80.2 447L82.7 447.4L85.2 447.9L87.7 448.4L90.2 448.9L92.7 449.4L95.2 450L97.7 450.6L100.2 451.1L102.7 451.7L105.2 452.2L107.7 452.8L110.2 453.5L112.7 454.4L115.2 455.6L117.7 457.2L120.2 459.4L122.7 461.7L125.2 463.9L127.7 465.6L130.2 466.5L132.7 466.1L135.2 464.2L137.7 461.2L140.2 457.8L142.7 454.7L145.2 452.2L147.7 450.6L150.2 449.8L152.7 449.4L155.2 449.3L157.7 449.3L160.2 449.5L162.7 449.8L165.2 450.1L167.7 450.3L170.2 450.5L172.7 450.8L175.2 451.4L177.7 452.2L180.2 453.4L182.7 455.4L185.2 458L187.7 460.8L190.2 463.5L192.7 464.6L195.2 462.6L197.7 458.5L200.2 454.6L202.7 451.9L205.2 450.5L207.7 449.8L210.2 449.4L212.7 449.2L215.2 449.1L217.7 449L220.2 449.1L222.7 449.2L225.2 449.4L227.7 449.9L230.2 450.8L232.7 452.4L235.2 455.1L237.7 459.1L240.2 464.2L242.7 468.8L245.2 472.3L247.7 474.9L250.2 476L252.7 474.9L255.2 471.4L257.7 466.7L260.2 462.6L262.7 459.3L265.2 456.8L267.7 455.1L270.2 454.1L272.7 453.3L275.2 452.5L277.7 451.7L280.2 451.1L282.7 450.6L285.2 450.2L287.7 449.9L290.2 449.9L292.7 449.9L295.2 449.9L297.7 450L300.2 450.1L302.7 450.2L305.2 450.2L307.7 450.1L310.2 450L312.7 449.9L315.2 449.9L317.7 449.9L320.2 449.9L322.7 449.9L325.2 449.8L327.7 449.7L330.2 449.6L332.7 449.6L335.2 449.7L337.7 449.8L340.2 450L342.7 450.3L345.2 450.8L347.7 451.8L350.2 453.7L352.7 456.9L355.2 461.5L357.7 466.7L360.2 470.8L362.7 472L365.2 468.1L365.3 467.8" stroke="#f5c8b2" stroke-width="4.00"/>
<path d="M77.7 448.1L80.2 448.6L82.7 449L85.2 449.5L87.7 450L90.2 450.5L92.7 451.1L95.2 451.6L97.7 452.2L100.2 452.8L102.7 453.3L105.2 453.9L107.7 454.5L110.2 455.2L112.7 456.1L115.2 457.3L117.7 459L120.2 461.2L122.7 463.6L125.2 465.8L127.7 467.5L130.2 468.5L132.7 468L135.2 466.1L137.7 463L140.2 459.6L142.7 456.4L145.2 453.8L147.7 452.2L150.2 451.4L152.7 451L155.2 450.9L157.7 450.9L160.2 451.1L162.7 451.4L165.2 451.7L167.7 451.9L170.2 452.1L172.7 452.4L175.2 453L177.7 453.8L180.2 455.1L182.7 457.1L185.2 459.8L187.7 462.6L190.2 465.3L192.7 466.5L195.2 464.5L197.7 460.3L200.2 456.3L202.7 453.6L205.2 452.1L207.7 451.4L210.2 450.9L212.7 450.7L215.2 450.6L217.7 450.6L220.2 450.6L222.7 450.7L225.2 450.9L227.7 451.4L230.2 452.4L232.7 454L235.2 456.8L237.7 460.8L240.2 466L242.7 470.7L245.2 474.3L247.7 477L250.2 478.1L252.7 477L255.2 473.4L257.7 468.6L260.2 464.4L262.7 461L265.2 458.5L267.7 456.8L270.2 455.7L272.7 454.9L275.2 454.1L277.7 453.3L280.2 452.7L282.7 452.1L285.2 451.7L287.7 451.5L290.2 451.4L292.7 451.4L295.2 451.4L297.7 451.5L300.2 451.6L302.7 451.7L305.2 451.7L307.7 451.6L310.2 451.5L312.7 451.4L315.2 451.4L317.7 451.4L320.2 451.4L322.7 451.3L325.2 451.2L327.7 451.1L330.2 451.1L332.7 451.1L335.2 451.1L337.7 451.3L340.2 451.5L342.7 451.8L345.2 452.3L347.7 453.3L350.2 455.3L352.7 458.5L355.2 463.2L357.7 468.5L360.2 472.7L362.7 473.9L365.2 469.9L365.3 469.7" stroke="#f5c9b3" stroke-width="4.00"/>
<path d="M77.7 449.7L80.2 450.1L82.7 450.6L85.2 451.1L87.7 451.6L90.2 452.1L92.7 452.7L95.2 453.3L97.7 453.9L100.2 454.4L102.7 455L105.2 455.6L107.7 456.2L110.2 456.9L112.7 457.8L115.2 459.1L117.7 460.8L120.2 463.1L122.7 465.5L125.2 467.7L127.7 469.5L130.2 470.4L132.7 470L135.2 468L137.7 464.9L140.2 461.4L142.7 458.1L145.2 455.5L147.7 453.8L150.2 453L152.7 452.6L155.2 452.5L157.7 452.5L160.2 452.7L162.7 453L165.2 453.3L167.7 453.5L170.2 453.7L172.7 454L175.2 454.6L177.7 455.5L180.2 456.8L182.7 458.8L185.2 461.5L187.7 464.5L190.2 467.2L192.7 468.4L195.2 466.3L197.7 462.1L200.2 457.9L202.7 455.2L205.2 453.7L207.7 452.9L210.2 452.5L212.7 452.3L215.2 452.1L217.7 452.1L220.2 452.2L222.7 452.2L225.2 452.5L227.7 453L230.2 453.9L232.7 455.6L235.2 458.4L237.7 462.6L240.2 467.8L242.7 472.7L245.2 476.4L247.7 479.1L250.2 480.2L252.7 479.1L255.2 475.5L257.7 470.5L260.2 466.2L262.7 462.8L265.2 460.2L267.7 458.4L270.2 457.3L272.7 456.5L275.2 455.7L277.7 454.9L280.2 454.2L282.7 453.7L285.2 453.2L287.7 453L290.2 452.9L292.7 452.9L295.2 452.9L297.7 453L300.2 453.1L302.7 453.2L305.2 453.2L307.7 453.1L310.2 453L312.7 452.9L315.2 452.8L317.7 452.8L320.2 452.8L322.7 452.8L325.2 452.7L327.7 452.6L330.2 452.5L332.7 452.5L335.2 452.6L337.7 452.7L340.2 452.9L342.7 453.2L345.2 453.7L347.7 454.8L350.2 456.8L352.7 460.1L355.2 464.9L357.7 470.3L360.2 474.6L362.7 475.9L365.2 471.7L365.3 471.5" stroke="#f5cab5" stroke-width="4.00"/>
<path d="M77.7 451.3L80.2 451.7L82.7 452.2L85.2 452.6L87.7 453.2L90.2 453.7L92.7 454.3L95.2 454.9L97.7 455.5L100.2 456.1L102.7 456.7L105.2 457.3L107.7 457.9L110.2 458.6L112.7 459.6L115.2 460.8L117.7 462.6L120.2 464.9L122.7 467.4L125.2 469.7L127.7 471.5L130.2 472.4L132.7 472L135.2 470L137.7 466.7L140.2 463.2L142.7 459.8L145.2 457.1L147.7 455.4L150.2 454.6L152.7 454.2L155.2 454L157.7 454.1L160.2 454.3L162.7 454.6L165.2 454.9L167.7 455.1L170.2 455.3L172.7 455.6L175.2 456.2L177.7 457.1L180.2 458.4L182.7 460.5L185.2 463.3L187.7 466.3L190.2 469.1L192.7 470.4L195.2 468.2L197.7 463.9L200.2 459.6L202.7 456.8L205.2 455.3L207.7 454.5L210.2 454.1L212.7 453.8L215.2 453.7L217.7 453.7L220.2 453.7L222.7 453.8L225.2 454L227.7 454.5L230.2 455.5L232.7 457.2L235.2 460.1L237.7 464.3L240.2 469.7L242.7 474.6L245.2 478.4L247.7 481.2L250.2 482.3L252.7 481.2L255.2 477.5L257.7 472.5L260.2 468.1L262.7 464.6L265.2 461.9L267.7 460.1L270.2 459L272.7 458.1L275.2 457.3L277.7 456.5L280.2 455.8L282.7 455.2L285.2 454.8L287.7 454.5L290.2 454.4L292.7 454.4L295.2 454.4L297.7 454.5L300.2 454.6L302.7 454.7L305.2 454.7L307.7 454.6L310.2 454.5L312.7 454.4L315.2 454.3L317.7 454.3L320.2 454.3L322.7 454.3L325.2 454.2L327.7 454.1L330.2 454L332.7 454L335.2 454L337.7 454.2L340.2 454.4L342.7 454.7L345.2 455.2L347.7 456.3L350.2 458.3L352.7 461.8L355.2 466.6L357.7 472.1L360.2 476.5L362.7 477.8L365.2 473.6L365.3 473.3" stroke="#f4cbb6" stroke-width="4.00"/>
<path d="M77.7 337.3L80.2 337.4L82.7 337.5L85.2 337.6L87.7 337.7L90.2 337.8L92.7 337.8L95.2 337.9L97.7 338L100.2 338.1L102.7 338.2L105.2 338.3L107.7 338.4L110.2 338.5L112.7 338.6L115.2 338.8L117.7 339.1L120.2 339.6L122.7 340L125.2 340.5L127.7 340.9L130.2 341.1L132.7 341.1L135.2 340.8L137.7 340.4L140.2 340L142.7 339.7L145.2 339.5L147.7 339.4L150.2 339.3L152.7 339.3L155.2 339.4L157.7 339.4L160.2 339.5L162.7 339.5L165.2 339.6L167.7 339.6L170.2 339.7L172.7 339.8L175.2 339.9L177.7 340L180.2 340.3L182.7 340.6L185.2 341L187.7 341.2L190.2 341.3L192.7 341.2L195.2 340.9L197.7 340.6L200.2 340.4L202.7 340.3L205.2 340.3L207.7 340.3L210.2 340.3L212.7 340.4L215.2 340.4L217.7 340.5L220.2 340.5L222.7 340.6L225.2 340.7L227.7 340.9L230.2 341.2L232.7 341.6L235.2 342.1L237.7 342.9L240.2 343.7L242.7 344.5L245.2 345.1L247.7 345.4L250.2 345.3L252.7 344.9L255.2 344.2L257.7 343.5L260.2 342.9L262.7 342.5L265.2 342.2L267.7 342L270.2 342L272.7 342L275.2 342.1L277.7 342.1L280.2 342.2L282.7 342.3L285.2 342.4L287.7 342.5L290.2 342.6L292.7 342.8L295.2 343L297.7 343.2L300.2 343.4L302.7 343.6L305.2 343.7L307.7 343.9L310.2 344L312.7 344L315.2 344.1L317.7 344.2L320.2 344.3L322.7 344.3L325.2 344.4L327.7 344.5L330.2 344.6L332.7 344.7L335.2 344.8L337.7 344.9L340.2 345L342.7 345.1L345.2 345.2L347.7 345.4L350.2 345.6L352.7 345.9L355.2 346.5L357.7 347.2L360.2 348L362.7 348.5L365.2 348.5L365.3 348.4" stroke="#cb3e38" stroke-width="1.00"/>
<path d="M77.7 367.7L80.2 367.8L82.7 367.9L85.2 368L87.7 368.2L90.2 368.3L92.7 368.5L95.2 368.6L97.7 368.8L100.2 368.9L102.7 369L105.2 369.2L107.7 369.3L110.2 369.5L112.7 369.8L115.2 370.1L117.7 370.6L120.2 371.2L122.7 371.9L125.2 372.6L127.7 373.2L130.2 373.5L132.7 373.4L135.2 372.9L137.7 372.2L140.2 371.4L142.7 370.8L145.2 370.2L147.7 369.9L150.2 369.8L152.7 369.8L155.2 369.8L157.7 369.8L160.2 369.9L162.7 370L165.2 370.1L167.7 370.1L170.2 370.2L172.7 370.3L175.2 370.5L177.7 370.7L180.2 371.1L182.7 371.6L185.2 372.3L187.7 372.9L190.2 373.3L192.7 373.3L195.2 372.8L197.7 372L200.2 371.4L202.7 370.9L205.2 370.7L207.7 370.7L210.2 370.6L212.7 370.6L215.2 370.7L217.7 370.7L220.2 370.8L222.7 370.9L225.2 371L227.7 371.2L230.2 371.5L232.7 372.1L235.2 372.9L237.7 374.1L240.2 375.5L242.7 376.8L245.2 377.7L247.7 378.3L250.2 378.3L252.7 377.8L255.2 376.8L257.7 375.6L260.2 374.5L262.7 373.7L265.2 373.2L267.7 372.8L270.2 372.7L272.7 372.6L275.2 372.5L277.7 372.5L280.2 372.5L282.7 372.5L285.2 372.5L287.7 372.6L290.2 372.7L292.7 372.8L295.2 373L297.7 373.2L300.2 373.4L302.7 373.6L305.2 373.7L307.7 373.8L310.2 373.9L312.7 373.9L315.2 374L317.7 374.1L320.2 374.1L322.7 374.2L325.2 374.2L327.7 374.3L330.2 374.4L332.7 374.5L335.2 374.6L337.7 374.7L340.2 374.8L342.7 374.9L345.2 375.1L347.7 375.3L350.2 375.8L352.7 376.5L355.2 377.5L357.7 378.9L360.2 380L362.7 380.6L365.2 380.1L365.3 380.1" stroke="#e57058" stroke-width="0.70"/>
</g>
<polygon points="77.7,416.4 80.2,417.1 82.7,417.9 85.2,418.6 87.7,419.3 90.2,420.3 92.7,421.7 95.2,423.8 97.7,426.3 100.2,428.8 102.7,431.1 105.2,432.9 107.7,434.0 110.2,434.6 112.7,435.3 115.2,437.3 117.7,440.9 120.2,445.4 122.7,449.6 125.2,453.7 127.7,457.3 130.2,459.4 132.7,459.0 135.2,455.6 137.7,450.3 140.2,444.4 142.7,438.4 145.2,432.8 147.7,428.2 150.2,424.9 152.7,422.8 155.2,421.6 157.7,421.3 160.2,421.8 162.7,422.5 165.2,423.1 167.7,423.5 170.2,423.7 172.7,424.2 175.2,425.3 177.7,427.7 180.2,432.2 182.7,439.2 185.2,447.3 187.7,455.0 190.2,461.0 192.7,463.2 195.2,458.8 197.7,450.5 200.2,442.7 202.7,435.8 205.2,430.1 207.7,425.8 210.2,423.0 212.7,421.2 215.2,420.1 217.7,419.5 220.2,419.3 222.7,419.8 225.2,421.3 227.7,423.9 230.2,428.4 232.7,435.3 235.2,442.8 237.7,450.3 240.2,458.0 242.7,464.8 245.2,469.9 247.7,473.1 250.2,474.2 252.7,472.6 255.2,468.0 257.7,462.2 260.2,455.9 262.7,449.7 265.2,444.1 267.7,439.6 270.2,436.3 272.7,434.2 275.2,432.4 277.7,430.1 280.2,427.5 282.7,425.5 285.2,423.9 287.7,423.0 290.2,422.6 292.7,422.6 295.2,422.9 297.7,423.4 300.2,424.1 302.7,424.7 305.2,424.9 307.7,424.9 310.2,424.6 312.7,424.1 315.2,423.5 317.7,422.9 320.2,422.4 322.7,422.1 325.2,422.1 327.7,422.5 330.2,423.1 332.7,423.9 335.2,424.6 337.7,425.2 340.2,425.8 342.7,426.7 345.2,428.7 347.7,432.4 350.2,437.8 352.7,444.7 355.2,452.5 357.7,460.0 360.2,465.4 362.7,466.0 365.2,462.4 365.3,462.2 365.3,468.2 365.2,468.4 362.7,472.4 360.2,471.2 357.7,467.0 355.2,461.8 352.7,457.3 350.2,454.0 347.7,452.1 345.2,451.1 342.7,450.6 340.2,450.3 337.7,450.1 335.2,450.0 332.7,449.9 330.2,449.9 327.7,450.0 325.2,450.1 322.7,450.1 320.2,450.2 317.7,450.2 315.2,450.2 312.7,450.2 310.2,450.3 307.7,450.4 305.2,450.5 302.7,450.5 300.2,450.4 297.7,450.3 295.2,450.2 292.7,450.2 290.2,450.2 287.7,450.3 285.2,450.5 282.7,450.9 280.2,451.4 277.7,452.1 275.2,452.8 272.7,453.6 270.2,454.4 267.7,455.5 265.2,457.1 262.7,459.6 260.2,462.9 257.7,467.1 255.2,471.8 252.7,475.3 250.2,476.4 247.7,475.3 245.2,472.7 242.7,469.2 240.2,464.5 237.7,459.4 235.2,455.4 232.7,452.8 230.2,451.1 227.7,450.2 225.2,449.7 222.7,449.5 220.2,449.4 217.7,449.3 215.2,449.4 212.7,449.5 210.2,449.7 207.7,450.1 205.2,450.8 202.7,452.3 200.2,454.9 197.7,458.9 195.2,463.0 192.7,465.0 190.2,463.8 187.7,461.2 185.2,458.4 182.7,455.7 180.2,453.8 177.7,452.5 175.2,451.7 172.7,451.1 170.2,450.8 167.7,450.6 165.2,450.4 162.7,450.1 160.2,449.9 157.7,449.7 155.2,449.6 152.7,449.7 150.2,450.1 147.7,450.9 145.2,452.5 142.7,455.0 140.2,458.2 137.7,461.5 135.2,464.6 132.7,466.5 130.2,466.9 127.7,466.0 125.2,464.3 122.7,462.1 120.2,459.8 117.7,457.6 115.2,455.9 112.7,454.7 110.2,453.9 107.7,453.2 105.2,452.6 102.7,452.0 100.2,451.4 97.7,450.9 95.2,450.3 92.7,449.8 90.2,449.2 87.7,448.7 85.2,448.2 82.7,447.7 80.2,447.3 77.7,446.9" fill="#93b4fe"/>
<clipPath id="c3"><polygon points="77.7,415.4 80.2,416.1 82.7,416.9 85.2,417.6 87.7,418.3 90.2,419.3 92.7,420.7 95.2,422.8 97.7,425.3 100.2,427.8 102.7,430.1 105.2,431.9 107.7,433.0 110.2,433.6 112.7,434.3 115.2,436.3 117.7,439.9 120.2,444.4 122.7,448.6 125.2,452.7 127.7,456.3 130.2,458.4 132.7,458.0 135.2,454.6 137.7,449.3 140.2,443.4 142.7,437.4 145.2,431.8 147.7,427.2 150.2,423.9 152.7,421.8 155.2,420.6 157.7,420.3 160.2,420.8 162.7,421.5 165.2,422.1 167.7,422.5 170.2,422.7 172.7,423.2 175.2,424.3 177.7,426.7 180.2,431.2 182.7,438.2 185.2,446.3 187.7,454.0 190.2,460.0 192.7,462.2 195.2,457.8 197.7,449.5 200.2,441.7 202.7,434.8 205.2,429.1 207.7,424.8 210.2,422.0 212.7,420.2 215.2,419.1 217.7,418.5 220.2,418.3 222.7,418.8 225.2,420.3 227.7,422.9 230.2,427.4 232.7,434.3 235.2,441.8 237.7,449.3 240.2,457.0 242.7,463.8 245.2,468.9 247.7,472.1 250.2,473.2 252.7,471.6 255.2,467.0 257.7,461.2 260.2,454.9 262.7,448.7 265.2,443.1 267.7,438.6 270.2,435.3 272.7,433.2 275.2,431.4 277.7,429.1 280.2,426.5 282.7,424.5 285.2,422.9 287.7,422.0 290.2,421.6 292.7,421.6 295.2,421.9 297.7,422.4 300.2,423.1 302.7,423.7 305.2,423.9 307.7,423.9 310.2,423.6 312.7,423.1 315.2,422.5 317.7,421.9 320.2,421.4 322.7,421.1 325.2,421.1 327.7,421.5 330.2,422.1 332.7,422.9 335.2,423.6 337.7,424.2 340.2,424.8 342.7,425.7 345.2,427.7 347.7,431.4 350.2,436.8 352.7,443.7 355.2,451.5 357.7,459.0 360.2,464.4 362.7,465.0 365.2,461.4 365.3,461.2 365.3,468.7 365.2,468.9 362.7,472.9 360.2,471.7 357.7,467.5 355.2,462.3 352.7,457.8 350.2,454.5 347.7,452.6 345.2,451.6 342.7,451.1 340.2,450.8 337.7,450.6 335.2,450.5 332.7,450.4 330.2,450.4 327.7,450.5 325.2,450.6 322.7,450.6 320.2,450.7 317.7,450.7 315.2,450.7 312.7,450.7 310.2,450.8 307.7,450.9 305.2,451.0 302.7,451.0 300.2,450.9 297.7,450.8 295.2,450.7 292.7,450.7 290.2,450.7 287.7,450.8 285.2,451.0 282.7,451.4 280.2,451.9 277.7,452.6 275.2,453.3 272.7,454.1 270.2,454.9 267.7,456.0 265.2,457.6 262.7,460.1 260.2,463.4 257.7,467.6 255.2,472.3 252.7,475.8 250.2,476.9 247.7,475.8 245.2,473.2 242.7,469.7 240.2,465.0 237.7,459.9 235.2,455.9 232.7,453.3 230.2,451.6 227.7,450.7 225.2,450.2 222.7,450.0 220.2,449.9 217.7,449.8 215.2,449.9 212.7,450.0 210.2,450.2 207.7,450.6 205.2,451.3 202.7,452.8 200.2,455.4 197.7,459.4 195.2,463.5 192.7,465.5 190.2,464.3 187.7,461.7 185.2,458.9 182.7,456.2 180.2,454.3 177.7,453.0 175.2,452.2 172.7,451.6 170.2,451.3 167.7,451.1 165.2,450.9 162.7,450.6 160.2,450.4 157.7,450.2 155.2,450.1 152.7,450.2 150.2,450.6 147.7,451.4 145.2,453.0 142.7,455.5 140.2,458.7 137.7,462.0 135.2,465.1 132.7,467.0 130.2,467.4 127.7,466.5 125.2,464.8 122.7,462.6 120.2,460.3 117.7,458.1 115.2,456.4 112.7,455.2 110.2,454.4 107.7,453.7 105.2,453.1 102.7,452.5 100.2,451.9 97.7,451.4 95.2,450.8 92.7,450.3 90.2,449.7 87.7,449.2 85.2,448.7 82.7,448.2 80.2,447.8 77.7,447.4"/></clipPath>
<g clip-path="url(#c3)" fill="none" stroke-linejoin="round">
<path d="M77.7 446.9L80.2 447.3L82.7 447.7L85.2 448.2L87.7 448.7L90.2 449.2L92.7 449.8L95.2 450.3L97.7 450.9L100.2 451.4L102.7 452L105.2 452.6L107.7 453.2L110.2 453.9L112.7 454.7L115.2 455.9L117.7 457.6L120.2 459.8L122.7 462.1L125.2 464.3L127.7 466L130.2 466.9L132.7 466.5L135.2 464.6L137.7 461.5L140.2 458.2L142.7 455L145.2 452.5L147.7 450.9L150.2 450.1L152.7 449.7L155.2 449.6L157.7 449.7L160.2 449.9L162.7 450.1L165.2 450.4L167.7 450.6L170.2 450.8L172.7 451.1L175.2 451.7L177.7 452.5L180.2 453.8L182.7 455.7L185.2 458.4L187.7 461.2L190.2 463.8L192.7 465L195.2 463L197.7 458.9L200.2 454.9L202.7 452.3L205.2 450.8L207.7 450.1L210.2 449.7L212.7 449.5L215.2 449.4L217.7 449.3L220.2 449.4L222.7 449.5L225.2 449.7L227.7 450.2L230.2 451.1L232.7 452.8L235.2 455.4L237.7 459.4L240.2 464.5L242.7 469.2L245.2 472.7L247.7 475.3L250.2 476.4L252.7 475.3L255.2 471.8L257.7 467.1L260.2 462.9L262.7 459.6L265.2 457.1L267.7 455.5L270.2 454.4L272.7 453.6L275.2 452.8L277.7 452.1L280.2 451.4L282.7 450.9L285.2 450.5L287.7 450.3L290.2 450.2L292.7 450.2L295.2 450.2L297.7 450.3L300.2 450.4L302.7 450.5L305.2 450.5L307.7 450.4L310.2 450.3L312.7 450.2L315.2 450.2L317.7 450.2L320.2 450.2L322.7 450.1L325.2 450.1L327.7 450L330.2 449.9L332.7 449.9L335.2 450L337.7 450.1L340.2 450.3L342.7 450.6L345.2 451.1L347.7 452.1L350.2 454L352.7 457.3L355.2 461.8L357.7 467L360.2 471.2L362.7 472.4L365.2 468.4L365.3 468.2" stroke="#c4d6f6" stroke-width="1.60"/>
<path d="M77.7 446L80.2 446.4L82.7 446.9L85.2 447.3L87.7 447.8L90.2 448.4L92.7 448.9L95.2 449.5L97.7 450.2L100.2 450.8L102.7 451.4L105.2 452L107.7 452.6L110.2 453.3L112.7 454.1L115.2 455.4L117.7 457.1L120.2 459.3L122.7 461.7L125.2 464L127.7 465.7L130.2 466.7L132.7 466.2L135.2 464.3L137.7 461.2L140.2 457.8L142.7 454.6L145.2 451.9L147.7 450.2L150.2 449.4L152.7 449L155.2 448.8L157.7 448.8L160.2 449L162.7 449.3L165.2 449.6L167.7 449.8L170.2 450L172.7 450.3L175.2 450.9L177.7 451.8L180.2 453.1L182.7 455.3L185.2 458L187.7 461L190.2 463.8L192.7 464.9L195.2 462.8L197.7 458.6L200.2 454.5L202.7 451.8L205.2 450.2L207.7 449.4L210.2 448.9L212.7 448.6L215.2 448.5L217.7 448.5L220.2 448.5L222.7 448.6L225.2 448.8L227.7 449.4L230.2 450.4L232.7 452.2L235.2 455.1L237.7 459.2L240.2 464.3L242.7 469.1L245.2 472.7L247.7 475.3L250.2 476.4L252.7 475.2L255.2 471.7L257.7 466.9L260.2 462.7L262.7 459.3L265.2 456.7L267.7 455L270.2 453.9L272.7 453L275.2 452.2L277.7 451.4L280.2 450.7L282.7 450.1L285.2 449.7L287.7 449.5L290.2 449.3L292.7 449.3L295.2 449.4L297.7 449.5L300.2 449.6L302.7 449.7L305.2 449.8L307.7 449.7L310.2 449.6L312.7 449.5L315.2 449.4L317.7 449.4L320.2 449.4L322.7 449.3L325.2 449.2L327.7 449.2L330.2 449.1L332.7 449.1L335.2 449.2L337.7 449.4L340.2 449.6L342.7 449.9L345.2 450.4L347.7 451.5L350.2 453.6L352.7 456.9L355.2 461.5L357.7 466.8L360.2 471L362.7 472.2L365.2 468.3L365.3 468" stroke="#c2d5f7" stroke-width="1.60"/>
<path d="M77.7 445.1L80.2 445.5L82.7 446L85.2 446.5L87.7 447L90.2 447.5L92.7 448.1L95.2 448.8L97.7 449.4L100.2 450.1L102.7 450.8L105.2 451.4L107.7 452L110.2 452.7L112.7 453.6L115.2 454.8L117.7 456.6L120.2 458.9L122.7 461.4L125.2 463.6L127.7 465.5L130.2 466.4L132.7 466L135.2 464L137.7 460.9L140.2 457.4L142.7 454.1L145.2 451.4L147.7 449.6L150.2 448.6L152.7 448.2L155.2 448L157.7 448L160.2 448.2L162.7 448.5L165.2 448.8L167.7 449L170.2 449.2L172.7 449.5L175.2 450.1L177.7 451.1L180.2 452.5L182.7 454.8L185.2 457.7L187.7 460.8L190.2 463.7L192.7 464.9L195.2 462.7L197.7 458.4L200.2 454.2L202.7 451.3L205.2 449.6L207.7 448.7L210.2 448.1L212.7 447.8L215.2 447.6L217.7 447.6L220.2 447.6L222.7 447.7L225.2 448L227.7 448.6L230.2 449.8L232.7 451.7L235.2 454.7L237.7 458.9L240.2 464.1L242.7 468.9L245.2 472.6L247.7 475.2L250.2 476.3L252.7 475.2L255.2 471.6L257.7 466.8L260.2 462.5L262.7 459L265.2 456.4L267.7 454.5L270.2 453.3L272.7 452.4L275.2 451.6L277.7 450.8L280.2 450L282.7 449.4L285.2 448.9L287.7 448.6L290.2 448.5L292.7 448.5L295.2 448.6L297.7 448.7L300.2 448.9L302.7 449L305.2 449L307.7 448.9L310.2 448.8L312.7 448.7L315.2 448.6L317.7 448.6L320.2 448.6L322.7 448.5L325.2 448.4L327.7 448.4L330.2 448.3L332.7 448.4L335.2 448.5L337.7 448.6L340.2 448.9L342.7 449.2L345.2 449.8L347.7 451L350.2 453.1L352.7 456.5L355.2 461.3L357.7 466.6L360.2 470.8L362.7 472L365.2 468.1L365.3 467.8" stroke="#bed3f9" stroke-width="1.60"/>
<path d="M77.7 444.2L80.2 444.7L82.7 445.1L85.2 445.6L87.7 446.1L90.2 446.7L92.7 447.3L95.2 448L97.7 448.7L100.2 449.4L102.7 450.2L105.2 450.8L107.7 451.5L110.2 452.2L112.7 453L115.2 454.3L117.7 456.1L120.2 458.5L122.7 461L125.2 463.3L127.7 465.2L130.2 466.2L132.7 465.8L135.2 463.8L137.7 460.5L140.2 457L142.7 453.6L145.2 450.8L147.7 448.9L150.2 447.9L152.7 447.4L155.2 447.1L157.7 447.2L160.2 447.4L162.7 447.7L165.2 448L167.7 448.2L170.2 448.4L172.7 448.7L175.2 449.4L177.7 450.3L180.2 451.9L182.7 454.3L185.2 457.4L187.7 460.6L190.2 463.6L192.7 464.8L195.2 462.6L197.7 458.1L200.2 453.8L202.7 450.8L205.2 449L207.7 448L210.2 447.3L212.7 447L215.2 446.8L217.7 446.7L220.2 446.7L222.7 446.9L225.2 447.2L227.7 447.9L230.2 449.1L232.7 451.2L235.2 454.3L237.7 458.6L240.2 463.9L242.7 468.8L245.2 472.5L247.7 475.1L250.2 476.2L252.7 475.1L255.2 471.5L257.7 466.7L260.2 462.3L262.7 458.8L265.2 456L267.7 454.1L270.2 452.8L272.7 451.9L275.2 451L277.7 450.1L280.2 449.3L282.7 448.6L285.2 448.1L287.7 447.8L290.2 447.7L292.7 447.7L295.2 447.8L297.7 447.9L300.2 448.1L302.7 448.2L305.2 448.2L307.7 448.2L310.2 448.1L312.7 447.9L315.2 447.8L317.7 447.8L320.2 447.7L322.7 447.7L325.2 447.6L327.7 447.5L330.2 447.5L332.7 447.6L335.2 447.7L337.7 447.9L340.2 448.2L342.7 448.5L345.2 449.1L347.7 450.4L350.2 452.6L352.7 456.1L355.2 461L357.7 466.4L360.2 470.7L362.7 471.8L365.2 467.9L365.3 467.7" stroke="#bcd2fa" stroke-width="1.60"/>
<path d="M77.7 443.3L80.2 443.8L82.7 444.2L85.2 444.7L87.7 445.2L90.2 445.8L92.7 446.5L95.2 447.2L97.7 448L100.2 448.8L102.7 449.5L105.2 450.3L107.7 450.9L110.2 451.6L112.7 452.4L115.2 453.7L117.7 455.6L120.2 458.1L122.7 460.6L125.2 463L127.7 465L130.2 466L132.7 465.6L135.2 463.5L137.7 460.2L140.2 456.6L142.7 453.1L145.2 450.2L147.7 448.2L150.2 447.1L152.7 446.6L155.2 446.3L157.7 446.3L160.2 446.6L162.7 446.9L165.2 447.2L167.7 447.4L170.2 447.6L172.7 448L175.2 448.6L177.7 449.6L180.2 451.2L182.7 453.8L185.2 457.1L187.7 460.4L190.2 463.5L192.7 464.8L195.2 462.5L197.7 457.9L200.2 453.5L202.7 450.3L205.2 448.4L207.7 447.3L210.2 446.6L212.7 446.1L215.2 445.9L217.7 445.8L220.2 445.8L222.7 446L225.2 446.3L227.7 447.1L230.2 448.4L232.7 450.7L235.2 453.9L237.7 458.4L240.2 463.7L242.7 468.7L245.2 472.4L247.7 475.1L250.2 476.2L252.7 475L255.2 471.4L257.7 466.5L260.2 462.1L262.7 458.5L265.2 455.6L267.7 453.6L270.2 452.3L272.7 451.3L275.2 450.4L277.7 449.5L280.2 448.6L282.7 447.9L285.2 447.4L287.7 447L290.2 446.9L292.7 446.9L295.2 447L297.7 447.2L300.2 447.3L302.7 447.5L305.2 447.5L307.7 447.4L310.2 447.3L312.7 447.2L315.2 447L317.7 447L320.2 446.9L322.7 446.9L325.2 446.8L327.7 446.7L330.2 446.8L332.7 446.8L335.2 447L337.7 447.2L340.2 447.4L342.7 447.8L345.2 448.5L347.7 449.8L350.2 452.1L352.7 455.8L355.2 460.7L357.7 466.2L360.2 470.5L362.7 471.6L365.2 467.7L365.3 467.5" stroke="#b8d0fb" stroke-width="1.60"/>
<path d="M77.7 442.4L80.2 442.9L82.7 443.3L85.2 443.8L87.7 444.4L90.2 445L92.7 445.6L95.2 446.4L97.7 447.3L100.2 448.1L102.7 448.9L105.2 449.7L107.7 450.4L110.2 451L112.7 451.9L115.2 453.2L117.7 455.2L120.2 457.7L122.7 460.3L125.2 462.7L127.7 464.7L130.2 465.8L132.7 465.4L135.2 463.2L137.7 459.9L140.2 456.2L142.7 452.6L145.2 449.6L147.7 447.6L150.2 446.4L152.7 445.8L155.2 445.5L157.7 445.5L160.2 445.7L162.7 446.1L165.2 446.4L167.7 446.6L170.2 446.8L172.7 447.2L175.2 447.8L177.7 448.9L180.2 450.6L182.7 453.3L185.2 456.7L187.7 460.3L190.2 463.4L192.7 464.7L195.2 462.3L197.7 457.7L200.2 453.1L202.7 449.9L205.2 447.8L207.7 446.5L210.2 445.8L212.7 445.3L215.2 445.1L217.7 445L220.2 445L222.7 445.1L225.2 445.5L227.7 446.3L230.2 447.8L232.7 450.2L235.2 453.6L237.7 458.1L240.2 463.6L242.7 468.5L245.2 472.3L247.7 475L250.2 476.1L252.7 474.9L255.2 471.3L257.7 466.4L260.2 461.9L262.7 458.2L265.2 455.2L267.7 453.1L270.2 451.7L272.7 450.7L275.2 449.8L277.7 448.8L280.2 447.9L282.7 447.1L285.2 446.6L287.7 446.2L290.2 446.1L292.7 446.1L295.2 446.2L297.7 446.4L300.2 446.5L302.7 446.7L305.2 446.7L307.7 446.7L310.2 446.5L312.7 446.4L315.2 446.3L317.7 446.2L320.2 446.1L322.7 446L325.2 446L327.7 445.9L330.2 446L332.7 446.1L335.2 446.2L337.7 446.4L340.2 446.7L342.7 447.1L345.2 447.8L347.7 449.2L350.2 451.6L352.7 455.4L355.2 460.4L357.7 466L360.2 470.3L362.7 471.5L365.2 467.5L365.3 467.3" stroke="#b4cdfc" stroke-width="1.60"/>
<path d="M77.7 441.5L80.2 442L82.7 442.5L85.2 443L87.7 443.5L90.2 444.1L92.7 444.8L95.2 445.6L97.7 446.6L100.2 447.5L102.7 448.3L105.2 449.1L107.7 449.8L110.2 450.5L112.7 451.3L115.2 452.6L117.7 454.7L120.2 457.2L122.7 459.9L125.2 462.4L127.7 464.5L130.2 465.6L132.7 465.2L135.2 463L137.7 459.6L140.2 455.8L142.7 452.1L145.2 449L147.7 446.9L150.2 445.7L152.7 445L155.2 444.7L157.7 444.7L160.2 444.9L162.7 445.2L165.2 445.6L167.7 445.8L170.2 446L172.7 446.4L175.2 447L177.7 448.1L180.2 450L182.7 452.8L185.2 456.4L187.7 460.1L190.2 463.3L192.7 464.7L195.2 462.2L197.7 457.4L200.2 452.7L202.7 449.4L205.2 447.2L207.7 445.8L210.2 445L212.7 444.5L215.2 444.2L217.7 444.1L220.2 444.1L222.7 444.2L225.2 444.7L227.7 445.5L230.2 447.1L232.7 449.7L235.2 453.2L237.7 457.8L240.2 463.4L242.7 468.4L245.2 472.2L247.7 474.9L250.2 476L252.7 474.8L255.2 471.1L257.7 466.2L260.2 461.7L262.7 457.9L265.2 454.8L267.7 452.7L270.2 451.2L272.7 450.2L275.2 449.2L277.7 448.2L280.2 447.2L282.7 446.4L285.2 445.8L287.7 445.4L290.2 445.3L292.7 445.3L295.2 445.4L297.7 445.6L300.2 445.8L302.7 445.9L305.2 446L307.7 445.9L310.2 445.8L312.7 445.6L315.2 445.5L317.7 445.4L320.2 445.3L322.7 445.2L325.2 445.1L327.7 445.1L330.2 445.2L332.7 445.3L335.2 445.5L337.7 445.7L340.2 446L342.7 446.4L345.2 447.1L347.7 448.6L350.2 451.2L352.7 455L355.2 460.2L357.7 465.8L360.2 470.2L362.7 471.3L365.2 467.4L365.3 467.1" stroke="#b2ccfd" stroke-width="1.60"/>
<path d="M77.7 440.6L80.2 441.1L82.7 441.6L85.2 442.1L87.7 442.6L90.2 443.3L92.7 444L95.2 444.9L97.7 445.8L100.2 446.8L102.7 447.7L105.2 448.5L107.7 449.2L110.2 449.9L112.7 450.7L115.2 452.1L117.7 454.2L120.2 456.8L122.7 459.5L125.2 462.1L127.7 464.2L130.2 465.3L132.7 464.9L135.2 462.7L137.7 459.2L140.2 455.4L142.7 451.6L145.2 448.5L147.7 446.2L150.2 444.9L152.7 444.2L155.2 443.8L157.7 443.8L160.2 444.1L162.7 444.4L165.2 444.8L167.7 445L170.2 445.2L172.7 445.6L175.2 446.2L177.7 447.4L180.2 449.3L182.7 452.3L185.2 456.1L187.7 459.9L190.2 463.3L192.7 464.6L195.2 462.1L197.7 457.2L200.2 452.4L202.7 448.9L205.2 446.6L207.7 445.1L210.2 444.2L212.7 443.6L215.2 443.3L217.7 443.2L220.2 443.2L222.7 443.4L225.2 443.8L227.7 444.8L230.2 446.4L232.7 449.2L235.2 452.8L237.7 457.6L240.2 463.2L242.7 468.3L245.2 472.2L247.7 474.9L250.2 476L252.7 474.8L255.2 471L257.7 466.1L260.2 461.5L262.7 457.6L265.2 454.4L267.7 452.2L270.2 450.7L272.7 449.6L275.2 448.6L277.7 447.5L280.2 446.5L282.7 445.7L285.2 445L287.7 444.6L290.2 444.5L292.7 444.5L295.2 444.6L297.7 444.8L300.2 445L302.7 445.2L305.2 445.2L307.7 445.2L310.2 445L312.7 444.8L315.2 444.7L317.7 444.6L320.2 444.5L322.7 444.4L325.2 444.3L327.7 444.3L330.2 444.4L332.7 444.5L335.2 444.8L337.7 445L340.2 445.3L342.7 445.7L345.2 446.5L347.7 448.1L350.2 450.7L352.7 454.7L355.2 459.9L357.7 465.6L360.2 470L362.7 471.1L365.2 467.2L365.3 467" stroke="#aec9fe" stroke-width="1.60"/>
<path d="M77.7 439.7L80.2 440.2L82.7 440.7L85.2 441.2L87.7 441.8L90.2 442.4L92.7 443.2L95.2 444.1L97.7 445.1L100.2 446.1L102.7 447.1L105.2 447.9L107.7 448.7L110.2 449.3L112.7 450.2L115.2 451.6L117.7 453.7L120.2 456.4L122.7 459.2L125.2 461.8L127.7 463.9L130.2 465.1L132.7 464.7L135.2 462.5L137.7 458.9L140.2 454.9L142.7 451.1L145.2 447.9L147.7 445.6L150.2 444.2L152.7 443.4L155.2 443L157.7 443L160.2 443.2L162.7 443.6L165.2 444L167.7 444.2L170.2 444.4L172.7 444.8L175.2 445.5L177.7 446.7L180.2 448.7L182.7 451.8L185.2 455.8L187.7 459.7L190.2 463.2L192.7 464.6L195.2 462L197.7 456.9L200.2 452L202.7 448.4L205.2 445.9L207.7 444.4L210.2 443.4L212.7 442.8L215.2 442.5L217.7 442.3L220.2 442.3L222.7 442.5L225.2 443L227.7 444L230.2 445.8L232.7 448.7L235.2 452.5L237.7 457.3L240.2 463L242.7 468.1L245.2 472.1L247.7 474.8L250.2 475.9L252.7 474.7L255.2 470.9L257.7 465.9L260.2 461.3L262.7 457.3L265.2 454.1L267.7 451.7L270.2 450.2L272.7 449L275.2 448L277.7 446.9L280.2 445.8L282.7 444.9L285.2 444.2L287.7 443.8L290.2 443.7L292.7 443.7L295.2 443.8L297.7 444L300.2 444.2L302.7 444.4L305.2 444.5L307.7 444.4L310.2 444.3L312.7 444.1L315.2 443.9L317.7 443.8L320.2 443.7L322.7 443.6L325.2 443.5L327.7 443.5L330.2 443.6L332.7 443.8L335.2 444L337.7 444.3L340.2 444.6L342.7 445L345.2 445.8L347.7 447.5L350.2 450.2L352.7 454.3L355.2 459.6L357.7 465.4L360.2 469.8L362.7 470.9L365.2 467L365.3 466.8" stroke="#aac7fe" stroke-width="1.60"/>
<path d="M77.7 438.8L80.2 439.3L82.7 439.8L85.2 440.4L87.7 440.9L90.2 441.6L92.7 442.3L95.2 443.3L97.7 444.4L100.2 445.5L102.7 446.5L105.2 447.4L107.7 448.1L110.2 448.8L112.7 449.6L115.2 451L117.7 453.2L120.2 456L122.7 458.8L125.2 461.5L127.7 463.7L130.2 464.9L132.7 464.5L135.2 462.2L137.7 458.6L140.2 454.5L142.7 450.6L145.2 447.3L147.7 444.9L150.2 443.4L152.7 442.6L155.2 442.2L157.7 442.2L160.2 442.4L162.7 442.8L165.2 443.2L167.7 443.4L170.2 443.6L172.7 444L175.2 444.7L177.7 446L180.2 448.1L182.7 451.4L185.2 455.4L187.7 459.5L190.2 463.1L192.7 464.5L195.2 461.9L197.7 456.7L200.2 451.7L202.7 447.9L205.2 445.3L207.7 443.7L210.2 442.6L212.7 442L215.2 441.6L217.7 441.4L220.2 441.4L222.7 441.6L225.2 442.2L227.7 443.2L230.2 445.1L232.7 448.1L235.2 452.1L237.7 457L240.2 462.8L242.7 468L245.2 472L247.7 474.7L250.2 475.8L252.7 474.6L255.2 470.8L257.7 465.8L260.2 461.1L262.7 457L265.2 453.7L267.7 451.2L270.2 449.6L272.7 448.5L275.2 447.4L277.7 446.2L280.2 445.1L282.7 444.2L285.2 443.5L287.7 443L290.2 442.9L292.7 442.9L295.2 443L297.7 443.2L300.2 443.5L302.7 443.7L305.2 443.7L307.7 443.7L310.2 443.5L312.7 443.3L315.2 443.1L317.7 443L320.2 442.8L322.7 442.7L325.2 442.7L327.7 442.7L330.2 442.8L332.7 443L335.2 443.3L337.7 443.5L340.2 443.8L342.7 444.3L345.2 445.2L347.7 446.9L350.2 449.7L352.7 453.9L355.2 459.4L357.7 465.2L360.2 469.6L362.7 470.7L365.2 466.8L365.3 466.6" stroke="#a6c4ff" stroke-width="1.60"/>
<path d="M77.7 437.9L80.2 438.4L82.7 439L85.2 439.5L87.7 440.1L90.2 440.7L92.7 441.5L95.2 442.5L97.7 443.7L100.2 444.8L102.7 445.9L105.2 446.8L107.7 447.5L110.2 448.2L112.7 449L115.2 450.5L117.7 452.7L120.2 455.5L122.7 458.4L125.2 461.2L127.7 463.4L130.2 464.7L132.7 464.3L135.2 461.9L137.7 458.2L140.2 454.1L142.7 450.2L145.2 446.7L147.7 444.2L150.2 442.7L152.7 441.8L155.2 441.4L157.7 441.3L160.2 441.6L162.7 442L165.2 442.4L167.7 442.6L170.2 442.8L172.7 443.2L175.2 443.9L177.7 445.2L180.2 447.4L182.7 450.9L185.2 455.1L187.7 459.4L190.2 463L192.7 464.5L195.2 461.7L197.7 456.4L200.2 451.3L202.7 447.4L205.2 444.7L207.7 443L210.2 441.8L212.7 441.2L215.2 440.8L217.7 440.6L220.2 440.5L222.7 440.8L225.2 441.3L227.7 442.4L230.2 444.4L232.7 447.6L235.2 451.7L237.7 456.8L240.2 462.6L242.7 467.9L245.2 471.9L247.7 474.7L250.2 475.8L252.7 474.5L255.2 470.7L257.7 465.6L260.2 460.9L262.7 456.7L265.2 453.3L267.7 450.8L270.2 449.1L272.7 447.9L275.2 446.8L277.7 445.6L280.2 444.4L282.7 443.4L285.2 442.7L287.7 442.2L290.2 442L292.7 442.1L295.2 442.2L297.7 442.4L300.2 442.7L302.7 442.9L305.2 443L307.7 442.9L310.2 442.8L312.7 442.5L315.2 442.3L317.7 442.2L320.2 442L322.7 441.9L325.2 441.8L327.7 441.9L330.2 442L332.7 442.2L335.2 442.5L337.7 442.8L340.2 443.1L342.7 443.6L345.2 444.5L347.7 446.3L350.2 449.3L352.7 453.6L355.2 459.1L357.7 465L360.2 469.5L362.7 470.5L365.2 466.7L365.3 466.4" stroke="#a2c1ff" stroke-width="1.60"/>
<path d="M77.7 437L80.2 437.6L82.7 438.1L85.2 438.6L87.7 439.2L90.2 439.9L92.7 440.7L95.2 441.7L97.7 442.9L100.2 444.1L102.7 445.2L105.2 446.2L107.7 447L110.2 447.6L112.7 448.5L115.2 449.9L117.7 452.2L120.2 455.1L122.7 458.1L125.2 460.8L127.7 463.2L130.2 464.5L132.7 464.1L135.2 461.7L137.7 457.9L140.2 453.7L142.7 449.7L145.2 446.2L147.7 443.6L150.2 441.9L152.7 441L155.2 440.5L157.7 440.5L160.2 440.8L162.7 441.2L165.2 441.6L167.7 441.8L170.2 442L172.7 442.4L175.2 443.1L177.7 444.5L180.2 446.8L182.7 450.4L185.2 454.8L187.7 459.2L190.2 462.9L192.7 464.4L195.2 461.6L197.7 456.2L200.2 450.9L202.7 447L205.2 444.1L207.7 442.3L210.2 441.1L212.7 440.3L215.2 439.9L217.7 439.7L220.2 439.7L222.7 439.9L225.2 440.5L227.7 441.7L230.2 443.8L232.7 447.1L235.2 451.3L237.7 456.5L240.2 462.4L242.7 467.8L245.2 471.8L247.7 474.6L250.2 475.7L252.7 474.4L255.2 470.6L257.7 465.5L260.2 460.7L262.7 456.4L265.2 452.9L267.7 450.3L270.2 448.6L272.7 447.3L275.2 446.2L277.7 444.9L280.2 443.7L282.7 442.7L285.2 441.9L287.7 441.4L290.2 441.2L292.7 441.3L295.2 441.4L297.7 441.6L300.2 441.9L302.7 442.1L305.2 442.2L307.7 442.2L310.2 442L312.7 441.8L315.2 441.6L317.7 441.4L320.2 441.2L322.7 441.1L325.2 441L327.7 441.1L330.2 441.2L332.7 441.5L335.2 441.8L337.7 442.1L340.2 442.4L342.7 442.9L345.2 443.9L347.7 445.7L350.2 448.8L352.7 453.2L355.2 458.8L357.7 464.8L360.2 469.3L362.7 470.3L365.2 466.5L365.3 466.3" stroke="#9fbeff" stroke-width="1.60"/>
<path d="M77.7 436.1L80.2 436.7L82.7 437.2L85.2 437.7L87.7 438.3L90.2 439L92.7 439.9L95.2 441L97.7 442.2L100.2 443.5L102.7 444.6L105.2 445.6L107.7 446.4L110.2 447.1L112.7 447.9L115.2 449.4L117.7 451.7L120.2 454.7L122.7 457.7L125.2 460.5L127.7 462.9L130.2 464.2L132.7 463.8L135.2 461.4L137.7 457.6L140.2 453.3L142.7 449.2L145.2 445.6L147.7 442.9L150.2 441.2L152.7 440.2L155.2 439.7L157.7 439.7L160.2 439.9L162.7 440.4L165.2 440.8L167.7 441L170.2 441.3L172.7 441.6L175.2 442.4L177.7 443.8L180.2 446.2L182.7 449.9L185.2 454.4L187.7 459L190.2 462.8L192.7 464.3L195.2 461.5L197.7 455.9L200.2 450.6L202.7 446.5L205.2 443.5L207.7 441.5L210.2 440.3L212.7 439.5L215.2 439L217.7 438.8L220.2 438.8L222.7 439L225.2 439.7L227.7 440.9L230.2 443.1L232.7 446.6L235.2 451L237.7 456.2L240.2 462.2L242.7 467.6L245.2 471.7L247.7 474.5L250.2 475.6L252.7 474.4L255.2 470.5L257.7 465.4L260.2 460.5L262.7 456.1L265.2 452.5L267.7 449.8L270.2 448L272.7 446.7L275.2 445.6L277.7 444.3L280.2 443L282.7 441.9L285.2 441.1L287.7 440.6L290.2 440.4L292.7 440.4L295.2 440.6L297.7 440.8L300.2 441.1L302.7 441.4L305.2 441.5L307.7 441.4L310.2 441.2L312.7 441L315.2 440.8L317.7 440.6L320.2 440.4L322.7 440.3L325.2 440.2L327.7 440.3L330.2 440.4L332.7 440.7L335.2 441L337.7 441.3L340.2 441.7L342.7 442.2L345.2 443.2L347.7 445.2L350.2 448.3L352.7 452.8L355.2 458.5L357.7 464.6L360.2 469.1L362.7 470.1L365.2 466.3L365.3 466.1" stroke="#9bbaff" stroke-width="1.60"/>
<path d="M77.7 435.2L80.2 435.8L82.7 436.3L85.2 436.9L87.7 437.5L90.2 438.2L92.7 439L95.2 440.2L97.7 441.5L100.2 442.8L102.7 444L105.2 445.1L107.7 445.9L110.2 446.5L112.7 447.3L115.2 448.8L117.7 451.2L120.2 454.3L122.7 457.3L125.2 460.2L127.7 462.7L130.2 464L132.7 463.6L135.2 461.1L137.7 457.3L140.2 452.9L142.7 448.7L145.2 445L147.7 442.2L150.2 440.5L152.7 439.4L155.2 438.9L157.7 438.8L160.2 439.1L162.7 439.6L165.2 440L167.7 440.2L170.2 440.5L172.7 440.8L175.2 441.6L177.7 443L180.2 445.5L182.7 449.4L185.2 454.1L187.7 458.8L190.2 462.8L192.7 464.3L195.2 461.4L197.7 455.7L200.2 450.2L202.7 446L205.2 442.9L207.7 440.8L210.2 439.5L212.7 438.7L215.2 438.2L217.7 437.9L220.2 437.9L222.7 438.1L225.2 438.8L227.7 440.1L230.2 442.4L232.7 446.1L235.2 450.6L237.7 456L240.2 462L242.7 467.5L245.2 471.7L247.7 474.5L250.2 475.6L252.7 474.3L255.2 470.4L257.7 465.2L260.2 460.2L262.7 455.8L265.2 452.1L267.7 449.4L270.2 447.5L272.7 446.2L275.2 445L277.7 443.7L280.2 442.3L282.7 441.2L285.2 440.3L287.7 439.8L290.2 439.6L292.7 439.6L295.2 439.8L297.7 440L300.2 440.4L302.7 440.6L305.2 440.7L307.7 440.7L310.2 440.5L312.7 440.2L315.2 440L317.7 439.8L320.2 439.6L322.7 439.4L325.2 439.4L327.7 439.5L330.2 439.6L332.7 439.9L335.2 440.3L337.7 440.6L340.2 440.9L342.7 441.5L345.2 442.5L347.7 444.6L350.2 447.8L352.7 452.5L355.2 458.3L357.7 464.3L360.2 469L362.7 470L365.2 466.1L365.3 465.9" stroke="#97b7fe" stroke-width="1.60"/>
<path d="M77.7 434.3L80.2 434.9L82.7 435.4L85.2 436L87.7 436.6L90.2 437.3L92.7 438.2L95.2 439.4L97.7 440.8L100.2 442.1L102.7 443.4L105.2 444.5L107.7 445.3L110.2 445.9L112.7 446.7L115.2 448.3L117.7 450.7L120.2 453.8L122.7 457L125.2 459.9L127.7 462.4L130.2 463.8L132.7 463.4L135.2 460.9L137.7 456.9L140.2 452.5L142.7 448.2L145.2 444.4L147.7 441.6L150.2 439.7L152.7 438.6L155.2 438.1L157.7 438L160.2 438.3L162.7 438.8L165.2 439.2L167.7 439.4L170.2 439.7L172.7 440L175.2 440.8L177.7 442.3L180.2 444.9L182.7 448.9L185.2 453.8L187.7 458.6L190.2 462.7L192.7 464.2L195.2 461.2L197.7 455.4L200.2 449.9L202.7 445.5L205.2 442.3L207.7 440.1L210.2 438.7L212.7 437.8L215.2 437.3L217.7 437L220.2 437L222.7 437.3L225.2 438L227.7 439.4L230.2 441.8L232.7 445.6L235.2 450.2L237.7 455.7L240.2 461.8L242.7 467.4L245.2 471.6L247.7 474.4L250.2 475.5L252.7 474.2L255.2 470.2L257.7 465.1L260.2 460L262.7 455.5L265.2 451.8L267.7 448.9L270.2 447L272.7 445.6L275.2 444.4L277.7 443L280.2 441.6L282.7 440.4L285.2 439.6L287.7 439L290.2 438.8L292.7 438.8L295.2 439L297.7 439.2L300.2 439.6L302.7 439.9L305.2 440L307.7 439.9L310.2 439.7L312.7 439.5L315.2 439.2L317.7 439L320.2 438.8L322.7 438.6L325.2 438.6L327.7 438.6L330.2 438.9L332.7 439.2L335.2 439.5L337.7 439.9L340.2 440.2L342.7 440.8L345.2 441.9L347.7 444L350.2 447.3L352.7 452.1L355.2 458L357.7 464.1L360.2 468.8L362.7 469.8L365.2 465.9L365.3 465.7" stroke="#93b4fe" stroke-width="1.60"/>
<path d="M77.7 433.4L80.2 434L82.7 434.6L85.2 435.1L87.7 435.7L90.2 436.5L92.7 437.4L95.2 438.6L97.7 440L100.2 441.5L102.7 442.8L105.2 443.9L107.7 444.7L110.2 445.4L112.7 446.2L115.2 447.7L117.7 450.3L120.2 453.4L122.7 456.6L125.2 459.6L127.7 462.2L130.2 463.6L132.7 463.2L135.2 460.6L137.7 456.6L140.2 452.1L142.7 447.7L145.2 443.8L147.7 440.9L150.2 439L152.7 437.8L155.2 437.2L157.7 437.2L160.2 437.5L162.7 437.9L165.2 438.3L167.7 438.6L170.2 438.9L172.7 439.2L175.2 440L177.7 441.6L180.2 444.3L182.7 448.4L185.2 453.5L187.7 458.4L190.2 462.6L192.7 464.2L195.2 461.1L197.7 455.2L200.2 449.5L202.7 445L205.2 441.7L207.7 439.4L210.2 437.9L212.7 437L215.2 436.4L217.7 436.2L220.2 436.1L222.7 436.4L225.2 437.2L227.7 438.6L230.2 441.1L232.7 445.1L235.2 449.8L237.7 455.4L240.2 461.6L242.7 467.2L245.2 471.5L247.7 474.3L250.2 475.4L252.7 474.1L255.2 470.1L257.7 464.9L260.2 459.8L262.7 455.2L265.2 451.4L267.7 448.4L270.2 446.4L272.7 445L275.2 443.8L277.7 442.4L280.2 440.9L282.7 439.7L285.2 438.8L287.7 438.2L290.2 438L292.7 438L295.2 438.2L297.7 438.5L300.2 438.8L302.7 439.1L305.2 439.2L307.7 439.2L310.2 439L312.7 438.7L315.2 438.4L317.7 438.2L320.2 437.9L322.7 437.8L325.2 437.7L327.7 437.8L330.2 438.1L332.7 438.4L335.2 438.8L337.7 439.1L340.2 439.5L342.7 440.1L345.2 441.2L347.7 443.4L350.2 446.9L352.7 451.7L355.2 457.7L357.7 463.9L360.2 468.6L362.7 469.6L365.2 465.8L365.3 465.6" stroke="#8fb0fd" stroke-width="1.60"/>
<path d="M77.7 432.5L80.2 433.1L82.7 433.7L85.2 434.3L87.7 434.9L90.2 435.6L92.7 436.6L95.2 437.9L97.7 439.3L100.2 440.8L102.7 442.2L105.2 443.3L107.7 444.2L110.2 444.8L112.7 445.6L115.2 447.2L117.7 449.8L120.2 453L122.7 456.2L125.2 459.3L127.7 461.9L130.2 463.4L132.7 463L135.2 460.4L137.7 456.3L140.2 451.7L142.7 447.2L145.2 443.3L147.7 440.2L150.2 438.2L152.7 437L155.2 436.4L157.7 436.3L160.2 436.6L162.7 437.1L165.2 437.5L167.7 437.8L170.2 438.1L172.7 438.4L175.2 439.3L177.7 440.9L180.2 443.6L182.7 447.9L185.2 453.1L187.7 458.3L190.2 462.5L192.7 464.1L195.2 461L197.7 454.9L200.2 449.1L202.7 444.5L205.2 441.1L207.7 438.7L210.2 437.1L212.7 436.2L215.2 435.6L217.7 435.3L220.2 435.2L222.7 435.5L225.2 436.3L227.7 437.8L230.2 440.4L232.7 444.5L235.2 449.5L237.7 455.2L240.2 461.4L242.7 467.1L245.2 471.4L247.7 474.3L250.2 475.4L252.7 474L255.2 470L257.7 464.8L260.2 459.6L262.7 455L265.2 451L267.7 448L270.2 445.9L272.7 444.5L275.2 443.2L277.7 441.7L280.2 440.2L282.7 438.9L285.2 438L287.7 437.4L290.2 437.2L292.7 437.2L295.2 437.4L297.7 437.7L300.2 438L302.7 438.3L305.2 438.5L307.7 438.4L310.2 438.2L312.7 437.9L315.2 437.6L317.7 437.4L320.2 437.1L322.7 437L325.2 436.9L327.7 437L330.2 437.3L332.7 437.6L335.2 438L337.7 438.4L340.2 438.8L342.7 439.4L345.2 440.6L347.7 442.9L350.2 446.4L352.7 451.3L355.2 457.4L357.7 463.7L360.2 468.5L362.7 469.4L365.2 465.6L365.3 465.4" stroke="#8bacfc" stroke-width="1.60"/>
<path d="M77.7 431.6L80.2 432.2L82.7 432.8L85.2 433.4L87.7 434L90.2 434.8L92.7 435.7L95.2 437.1L97.7 438.6L100.2 440.1L102.7 441.6L105.2 442.7L107.7 443.6L110.2 444.2L112.7 445L115.2 446.6L117.7 449.3L120.2 452.6L122.7 455.9L125.2 459L127.7 461.6L130.2 463.2L132.7 462.8L135.2 460.1L137.7 455.9L140.2 451.3L142.7 446.7L145.2 442.7L147.7 439.6L150.2 437.5L152.7 436.3L155.2 435.6L157.7 435.5L160.2 435.8L162.7 436.3L165.2 436.7L167.7 437L170.2 437.3L172.7 437.7L175.2 438.5L177.7 440.1L180.2 443L182.7 447.5L185.2 452.8L187.7 458.1L190.2 462.4L192.7 464.1L195.2 460.9L197.7 454.7L200.2 448.8L202.7 444.1L205.2 440.4L207.7 438L210.2 436.4L212.7 435.3L215.2 434.7L217.7 434.4L220.2 434.4L222.7 434.7L225.2 435.5L227.7 437L230.2 439.8L232.7 444L235.2 449.1L237.7 454.9L240.2 461.2L242.7 467L245.2 471.3L247.7 474.2L250.2 475.3L252.7 474L255.2 469.9L257.7 464.6L260.2 459.4L262.7 454.7L265.2 450.6L267.7 447.5L270.2 445.4L272.7 443.9L275.2 442.6L277.7 441.1L280.2 439.5L282.7 438.2L285.2 437.2L287.7 436.6L290.2 436.4L292.7 436.4L295.2 436.6L297.7 436.9L300.2 437.3L302.7 437.6L305.2 437.7L307.7 437.7L310.2 437.5L312.7 437.2L315.2 436.9L317.7 436.6L320.2 436.3L322.7 436.1L325.2 436.1L327.7 436.2L330.2 436.5L332.7 436.9L335.2 437.3L337.7 437.7L340.2 438.1L342.7 438.7L345.2 439.9L347.7 442.3L350.2 445.9L352.7 451L355.2 457.2L357.7 463.5L360.2 468.3L362.7 469.2L365.2 465.4L365.3 465.2" stroke="#87a8fa" stroke-width="1.60"/>
<path d="M77.7 430.8L80.2 431.3L82.7 431.9L85.2 432.5L87.7 433.1L90.2 433.9L92.7 434.9L95.2 436.3L97.7 437.9L100.2 439.5L102.7 440.9L105.2 442.2L107.7 443L110.2 443.7L112.7 444.5L115.2 446.1L117.7 448.8L120.2 452.1L122.7 455.5L125.2 458.7L127.7 461.4L130.2 462.9L132.7 462.5L135.2 459.8L137.7 455.6L140.2 450.9L142.7 446.2L145.2 442.1L147.7 438.9L150.2 436.7L152.7 435.5L155.2 434.8L157.7 434.7L160.2 435L162.7 435.5L165.2 435.9L167.7 436.2L170.2 436.5L172.7 436.9L175.2 437.7L177.7 439.4L180.2 442.4L182.7 447L185.2 452.5L187.7 457.9L190.2 462.4L192.7 464L195.2 460.7L197.7 454.4L200.2 448.4L202.7 443.6L205.2 439.8L207.7 437.3L210.2 435.6L212.7 434.5L215.2 433.9L217.7 433.5L220.2 433.5L222.7 433.8L225.2 434.7L227.7 436.3L230.2 439.1L232.7 443.5L235.2 448.7L237.7 454.6L240.2 461.1L242.7 466.8L245.2 471.3L247.7 474.2L250.2 475.3L252.7 473.9L255.2 469.8L257.7 464.5L260.2 459.2L262.7 454.4L265.2 450.2L267.7 447L270.2 444.8L272.7 443.3L275.2 442L277.7 440.4L280.2 438.8L282.7 437.4L285.2 436.4L287.7 435.8L290.2 435.6L292.7 435.6L295.2 435.8L297.7 436.1L300.2 436.5L302.7 436.8L305.2 437L307.7 436.9L310.2 436.7L312.7 436.4L315.2 436.1L317.7 435.8L320.2 435.5L322.7 435.3L325.2 435.3L327.7 435.4L330.2 435.7L332.7 436.1L335.2 436.6L337.7 436.9L340.2 437.3L342.7 438L345.2 439.3L347.7 441.7L350.2 445.4L352.7 450.6L355.2 456.9L357.7 463.3L360.2 468.1L362.7 469L365.2 465.2L365.3 465" stroke="#83a4f9" stroke-width="1.60"/>
<path d="M77.7 429.9L80.2 430.5L82.7 431L85.2 431.6L87.7 432.3L90.2 433.1L92.7 434.1L95.2 435.5L97.7 437.2L100.2 438.8L102.7 440.3L105.2 441.6L107.7 442.5L110.2 443.1L112.7 443.9L115.2 445.5L117.7 448.3L120.2 451.7L122.7 455.1L125.2 458.4L127.7 461.1L130.2 462.7L132.7 462.3L135.2 459.6L137.7 455.3L140.2 450.5L142.7 445.7L145.2 441.5L147.7 438.2L150.2 436L152.7 434.7L155.2 434L157.7 433.8L160.2 434.2L162.7 434.7L165.2 435.1L167.7 435.5L170.2 435.7L172.7 436.1L175.2 436.9L177.7 438.7L180.2 441.7L182.7 446.5L185.2 452.2L187.7 457.7L190.2 462.3L192.7 464L195.2 460.6L197.7 454.2L200.2 448.1L202.7 443.1L205.2 439.2L207.7 436.5L210.2 434.8L212.7 433.7L215.2 433L217.7 432.6L220.2 432.6L222.7 432.9L225.2 433.8L227.7 435.5L230.2 438.4L232.7 443L235.2 448.4L237.7 454.3L240.2 460.9L242.7 466.7L245.2 471.2L247.7 474.1L250.2 475.2L252.7 473.8L255.2 469.7L257.7 464.3L260.2 459L262.7 454.1L265.2 449.8L267.7 446.6L270.2 444.3L272.7 442.8L275.2 441.4L277.7 439.8L280.2 438.1L282.7 436.7L285.2 435.7L287.7 435L290.2 434.8L292.7 434.8L295.2 435L297.7 435.3L300.2 435.7L302.7 436.1L305.2 436.2L307.7 436.2L310.2 436L312.7 435.6L315.2 435.3L317.7 435L320.2 434.7L322.7 434.5L325.2 434.5L327.7 434.6L330.2 434.9L332.7 435.4L335.2 435.8L337.7 436.2L340.2 436.6L342.7 437.3L345.2 438.6L347.7 441.1L350.2 444.9L352.7 450.2L355.2 456.6L357.7 463.1L360.2 468L362.7 468.8L365.2 465.1L365.3 464.8" stroke="#7fa0f7" stroke-width="1.60"/>
<path d="M77.7 429L80.2 429.6L82.7 430.2L85.2 430.8L87.7 431.4L90.2 432.2L92.7 433.3L95.2 434.7L97.7 436.4L100.2 438.1L102.7 439.7L105.2 441L107.7 441.9L110.2 442.5L112.7 443.3L115.2 445L117.7 447.8L120.2 451.3L122.7 454.7L125.2 458L127.7 460.9L130.2 462.5L132.7 462.1L135.2 459.3L137.7 454.9L140.2 450.1L142.7 445.3L145.2 440.9L147.7 437.6L150.2 435.3L152.7 433.9L155.2 433.1L157.7 433L160.2 433.3L162.7 433.9L165.2 434.3L167.7 434.7L170.2 434.9L172.7 435.3L175.2 436.2L177.7 437.9L180.2 441.1L182.7 446L185.2 451.8L187.7 457.5L190.2 462.2L192.7 463.9L195.2 460.5L197.7 454L200.2 447.7L202.7 442.6L205.2 438.6L207.7 435.8L210.2 434L212.7 432.8L215.2 432.1L217.7 431.8L220.2 431.7L222.7 432L225.2 433L227.7 434.7L230.2 437.8L232.7 442.5L235.2 448L237.7 454.1L240.2 460.7L242.7 466.6L245.2 471.1L247.7 474L250.2 475.1L252.7 473.7L255.2 469.6L257.7 464.2L260.2 458.8L262.7 453.8L265.2 449.5L267.7 446.1L270.2 443.8L272.7 442.2L275.2 440.8L277.7 439.1L280.2 437.4L282.7 435.9L285.2 434.9L287.7 434.2L290.2 433.9L292.7 434L295.2 434.1L297.7 434.5L300.2 434.9L302.7 435.3L305.2 435.5L307.7 435.4L310.2 435.2L312.7 434.9L315.2 434.5L317.7 434.1L320.2 433.9L322.7 433.7L325.2 433.6L327.7 433.8L330.2 434.1L332.7 434.6L335.2 435.1L337.7 435.5L340.2 435.9L342.7 436.6L345.2 437.9L347.7 440.5L350.2 444.5L352.7 449.9L355.2 456.3L357.7 462.9L360.2 467.8L362.7 468.6L365.2 464.9L365.3 464.7" stroke="#7c9cf5" stroke-width="1.60"/>
<path d="M77.7 428.1L80.2 428.7L82.7 429.3L85.2 429.9L87.7 430.6L90.2 431.4L92.7 432.4L95.2 434L97.7 435.7L100.2 437.5L102.7 439.1L105.2 440.4L107.7 441.4L110.2 442L112.7 442.8L115.2 444.5L117.7 447.3L120.2 450.9L122.7 454.4L125.2 457.7L127.7 460.6L130.2 462.3L132.7 461.9L135.2 459L137.7 454.6L140.2 449.7L142.7 444.8L145.2 440.4L147.7 436.9L150.2 434.5L152.7 433.1L155.2 432.3L157.7 432.2L160.2 432.5L162.7 433.1L165.2 433.5L167.7 433.9L170.2 434.1L172.7 434.5L175.2 435.4L177.7 437.2L180.2 440.5L182.7 445.5L185.2 451.5L187.7 457.4L190.2 462.1L192.7 463.9L195.2 460.4L197.7 453.7L200.2 447.3L202.7 442.1L205.2 438L207.7 435.1L210.2 433.2L212.7 432L215.2 431.3L217.7 430.9L220.2 430.8L222.7 431.2L225.2 432.2L227.7 433.9L230.2 437.1L232.7 442L235.2 447.6L237.7 453.8L240.2 460.5L242.7 466.5L245.2 471L247.7 474L250.2 475.1L252.7 473.6L255.2 469.5L257.7 464.1L260.2 458.6L262.7 453.5L265.2 449.1L267.7 445.6L270.2 443.2L272.7 441.6L275.2 440.2L277.7 438.5L280.2 436.7L282.7 435.2L285.2 434.1L287.7 433.4L290.2 433.1L292.7 433.2L295.2 433.3L297.7 433.7L300.2 434.2L302.7 434.5L305.2 434.7L307.7 434.7L310.2 434.4L312.7 434.1L315.2 433.7L317.7 433.3L320.2 433L322.7 432.8L325.2 432.8L327.7 433L330.2 433.3L332.7 433.8L335.2 434.3L337.7 434.7L340.2 435.2L342.7 435.9L345.2 437.3L347.7 440L350.2 444L352.7 449.5L355.2 456.1L357.7 462.7L360.2 467.6L362.7 468.4L365.2 464.7L365.3 464.5" stroke="#7898f3" stroke-width="1.60"/>
<path d="M77.7 427.2L80.2 427.8L82.7 428.4L85.2 429L87.7 429.7L90.2 430.5L92.7 431.6L95.2 433.2L97.7 435L100.2 436.8L102.7 438.5L105.2 439.9L107.7 440.8L110.2 441.4L112.7 442.2L115.2 443.9L117.7 446.8L120.2 450.4L122.7 454L125.2 457.4L127.7 460.4L130.2 462.1L132.7 461.7L135.2 458.8L137.7 454.3L140.2 449.3L142.7 444.3L145.2 439.8L147.7 436.2L150.2 433.8L152.7 432.3L155.2 431.5L157.7 431.3L160.2 431.7L162.7 432.3L165.2 432.7L167.7 433.1L170.2 433.3L172.7 433.7L175.2 434.6L177.7 436.5L180.2 439.8L182.7 445L185.2 451.2L187.7 457.2L190.2 462L192.7 463.8L195.2 460.2L197.7 453.5L200.2 447L202.7 441.6L205.2 437.4L207.7 434.4L210.2 432.4L212.7 431.2L215.2 430.4L217.7 430L220.2 429.9L222.7 430.3L225.2 431.3L227.7 433.2L230.2 436.4L232.7 441.5L235.2 447.2L237.7 453.5L240.2 460.3L242.7 466.3L245.2 470.9L247.7 473.9L250.2 475L252.7 473.6L255.2 469.3L257.7 463.9L260.2 458.4L262.7 453.2L265.2 448.7L267.7 445.2L270.2 442.7L272.7 441L275.2 439.6L277.7 437.8L280.2 436L282.7 434.4L285.2 433.3L287.7 432.6L290.2 432.3L292.7 432.3L295.2 432.5L297.7 432.9L300.2 433.4L302.7 433.8L305.2 434L307.7 433.9L310.2 433.7L312.7 433.3L315.2 432.9L317.7 432.5L320.2 432.2L322.7 432L325.2 432L327.7 432.2L330.2 432.5L332.7 433.1L335.2 433.6L337.7 434L340.2 434.5L342.7 435.2L345.2 436.6L347.7 439.4L350.2 443.5L352.7 449.1L355.2 455.8L357.7 462.5L360.2 467.4L362.7 468.3L365.2 464.5L365.3 464.3" stroke="#7392f0" stroke-width="1.60"/>
<path d="M77.7 426.3L80.2 426.9L82.7 427.5L85.2 428.2L87.7 428.8L90.2 429.7L92.7 430.8L95.2 432.4L97.7 434.3L100.2 436.1L102.7 437.9L105.2 439.3L107.7 440.2L110.2 440.8L112.7 441.6L115.2 443.4L117.7 446.3L120.2 450L122.7 453.6L125.2 457.1L127.7 460.1L130.2 461.8L132.7 461.4L135.2 458.5L137.7 454L140.2 448.9L142.7 443.8L145.2 439.2L147.7 435.6L150.2 433L152.7 431.5L155.2 430.7L157.7 430.5L160.2 430.9L162.7 431.4L165.2 431.9L167.7 432.3L170.2 432.5L172.7 432.9L175.2 433.8L177.7 435.7L180.2 439.2L182.7 444.5L185.2 450.9L187.7 457L190.2 461.9L192.7 463.8L195.2 460.1L197.7 453.2L200.2 446.6L202.7 441.2L205.2 436.8L207.7 433.7L210.2 431.6L212.7 430.3L215.2 429.6L217.7 429.1L220.2 429L222.7 429.4L225.2 430.5L227.7 432.4L230.2 435.8L232.7 441L235.2 446.9L237.7 453.3L240.2 460.1L242.7 466.2L245.2 470.8L247.7 473.8L250.2 474.9L252.7 473.5L255.2 469.2L257.7 463.8L260.2 458.2L262.7 452.9L265.2 448.3L267.7 444.7L270.2 442.2L272.7 440.5L275.2 439L277.7 437.2L280.2 435.3L282.7 433.7L285.2 432.5L287.7 431.8L290.2 431.5L292.7 431.5L295.2 431.7L297.7 432.1L300.2 432.6L302.7 433L305.2 433.2L307.7 433.2L310.2 432.9L312.7 432.6L315.2 432.1L317.7 431.7L320.2 431.4L322.7 431.2L325.2 431.2L327.7 431.4L330.2 431.8L332.7 432.3L335.2 432.8L337.7 433.3L340.2 433.7L342.7 434.4L345.2 436L347.7 438.8L350.2 443L352.7 448.8L355.2 455.5L357.7 462.3L360.2 467.3L362.7 468.1L365.2 464.3L365.3 464.1" stroke="#6f8eee" stroke-width="1.60"/>
<path d="M77.7 425.4L80.2 426L82.7 426.6L85.2 427.3L87.7 428L90.2 428.8L92.7 430L95.2 431.6L97.7 433.5L100.2 435.5L102.7 437.3L105.2 438.7L107.7 439.7L110.2 440.3L112.7 441L115.2 442.8L117.7 445.8L120.2 449.6L122.7 453.3L125.2 456.8L127.7 459.9L130.2 461.6L132.7 461.2L135.2 458.2L137.7 453.6L140.2 448.5L142.7 443.3L145.2 438.6L147.7 434.9L150.2 432.3L152.7 430.7L155.2 429.8L157.7 429.7L160.2 430L162.7 430.6L165.2 431.1L167.7 431.5L170.2 431.7L172.7 432.1L175.2 433.1L177.7 435L180.2 438.6L182.7 444L185.2 450.5L187.7 456.8L190.2 461.9L192.7 463.7L195.2 460L197.7 453L200.2 446.3L202.7 440.7L205.2 436.2L207.7 433L210.2 430.9L212.7 429.5L215.2 428.7L217.7 428.3L220.2 428.2L222.7 428.6L225.2 429.7L227.7 431.6L230.2 435.1L232.7 440.4L235.2 446.5L237.7 453L240.2 459.9L242.7 466.1L245.2 470.8L247.7 473.8L250.2 474.9L252.7 473.4L255.2 469.1L257.7 463.6L260.2 458L262.7 452.6L265.2 447.9L267.7 444.2L270.2 441.6L272.7 439.9L275.2 438.4L277.7 436.5L280.2 434.6L282.7 432.9L285.2 431.8L287.7 431L290.2 430.7L292.7 430.7L295.2 430.9L297.7 431.3L300.2 431.8L302.7 432.3L305.2 432.5L307.7 432.4L310.2 432.2L312.7 431.8L315.2 431.4L317.7 430.9L320.2 430.6L322.7 430.4L325.2 430.4L327.7 430.6L330.2 431L332.7 431.5L335.2 432.1L337.7 432.5L340.2 433L342.7 433.7L345.2 435.3L347.7 438.2L350.2 442.6L352.7 448.4L355.2 455.3L357.7 462.1L360.2 467.1L362.7 467.9L365.2 464.2L365.3 464" stroke="#6b8aeb" stroke-width="1.60"/>
<path d="M77.7 424.5L80.2 425.1L82.7 425.8L85.2 426.4L87.7 427.1L90.2 428L92.7 429.1L95.2 430.8L97.7 432.8L100.2 434.8L102.7 436.6L105.2 438.1L107.7 439.1L110.2 439.7L112.7 440.5L115.2 442.3L117.7 445.4L120.2 449.2L122.7 452.9L125.2 456.5L127.7 459.6L130.2 461.4L132.7 461L135.2 458L137.7 453.3L140.2 448.1L142.7 442.8L145.2 438L147.7 434.2L150.2 431.5L152.7 429.9L155.2 429L157.7 428.8L160.2 429.2L162.7 429.8L165.2 430.3L167.7 430.7L170.2 430.9L172.7 431.3L175.2 432.3L177.7 434.3L180.2 437.9L182.7 443.6L185.2 450.2L187.7 456.6L190.2 461.8L192.7 463.7L195.2 459.9L197.7 452.7L200.2 445.9L202.7 440.2L205.2 435.6L207.7 432.3L210.2 430.1L212.7 428.7L215.2 427.8L217.7 427.4L220.2 427.3L222.7 427.7L225.2 428.8L227.7 430.9L230.2 434.4L232.7 439.9L235.2 446.1L237.7 452.7L240.2 459.7L242.7 465.9L245.2 470.7L247.7 473.7L250.2 474.8L252.7 473.3L255.2 469L257.7 463.5L260.2 457.8L262.7 452.3L265.2 447.5L267.7 443.8L270.2 441.1L272.7 439.3L275.2 437.8L277.7 435.9L280.2 433.8L282.7 432.2L285.2 431L287.7 430.2L290.2 429.9L292.7 429.9L295.2 430.1L297.7 430.5L300.2 431.1L302.7 431.5L305.2 431.7L307.7 431.7L310.2 431.4L312.7 431L315.2 430.6L317.7 430.1L320.2 429.8L322.7 429.6L325.2 429.5L327.7 429.7L330.2 430.2L332.7 430.8L335.2 431.3L337.7 431.8L340.2 432.3L342.7 433L345.2 434.6L347.7 437.6L350.2 442.1L352.7 448L355.2 455L357.7 461.9L360.2 466.9L362.7 467.7L365.2 464L365.3 463.8" stroke="#6885e8" stroke-width="1.60"/>
<path d="M77.7 423.6L80.2 424.2L82.7 424.9L85.2 425.5L87.7 426.2L90.2 427.1L92.7 428.3L95.2 430.1L97.7 432.1L100.2 434.1L102.7 436L105.2 437.5L107.7 438.5L110.2 439.1L112.7 439.9L115.2 441.7L117.7 444.9L120.2 448.7L122.7 452.5L125.2 456.2L127.7 459.3L130.2 461.2L132.7 460.8L135.2 457.7L137.7 453L140.2 447.7L142.7 442.3L145.2 437.5L147.7 433.5L150.2 430.8L152.7 429.1L155.2 428.2L157.7 428L160.2 428.4L162.7 429L165.2 429.5L167.7 429.9L170.2 430.1L172.7 430.5L175.2 431.5L177.7 433.6L180.2 437.3L182.7 443.1L185.2 449.9L187.7 456.5L190.2 461.7L192.7 463.6L195.2 459.8L197.7 452.5L200.2 445.5L202.7 439.7L205.2 434.9L207.7 431.5L210.2 429.3L212.7 427.9L215.2 427L217.7 426.5L220.2 426.4L222.7 426.8L225.2 428L227.7 430.1L230.2 433.8L232.7 439.4L235.2 445.7L237.7 452.5L240.2 459.5L242.7 465.8L245.2 470.6L247.7 473.6L250.2 474.7L252.7 473.2L255.2 468.9L257.7 463.3L260.2 457.6L262.7 452L265.2 447.2L267.7 443.3L270.2 440.6L272.7 438.8L275.2 437.2L277.7 435.2L280.2 433.1L282.7 431.5L285.2 430.2L287.7 429.4L290.2 429.1L292.7 429.1L295.2 429.3L297.7 429.7L300.2 430.3L302.7 430.7L305.2 431L307.7 430.9L310.2 430.7L312.7 430.3L315.2 429.8L317.7 429.3L320.2 429L322.7 428.7L325.2 428.7L327.7 428.9L330.2 429.4L332.7 430L335.2 430.6L337.7 431.1L340.2 431.6L342.7 432.3L345.2 434L347.7 437.1L350.2 441.6L352.7 447.6L355.2 454.7L357.7 461.7L360.2 466.8L362.7 467.5L365.2 463.8L365.3 463.6" stroke="#6480e5" stroke-width="1.60"/>
<path d="M77.7 422.7L80.2 423.3L82.7 424L85.2 424.7L87.7 425.4L90.2 426.3L92.7 427.5L95.2 429.3L97.7 431.4L100.2 433.5L102.7 435.4L105.2 437L107.7 438L110.2 438.6L112.7 439.3L115.2 441.2L117.7 444.4L120.2 448.3L122.7 452.2L125.2 455.9L127.7 459.1L130.2 461L132.7 460.6L135.2 457.5L137.7 452.6L140.2 447.3L142.7 441.8L145.2 436.9L147.7 432.9L150.2 430.1L152.7 428.3L155.2 427.4L157.7 427.1L160.2 427.6L162.7 428.2L165.2 428.7L167.7 429.1L170.2 429.3L172.7 429.7L175.2 430.7L177.7 432.8L180.2 436.7L182.7 442.6L185.2 449.6L187.7 456.3L190.2 461.6L192.7 463.6L195.2 459.6L197.7 452.2L200.2 445.2L202.7 439.2L205.2 434.3L207.7 430.8L210.2 428.5L212.7 427L215.2 426.1L217.7 425.6L220.2 425.5L222.7 425.9L225.2 427.2L227.7 429.3L230.2 433.1L232.7 438.9L235.2 445.4L237.7 452.2L240.2 459.3L242.7 465.7L245.2 470.5L247.7 473.6L250.2 474.7L252.7 473.2L255.2 468.8L257.7 463.2L260.2 457.4L262.7 451.7L265.2 446.8L267.7 442.8L270.2 440.1L272.7 438.2L275.2 436.6L277.7 434.6L280.2 432.4L282.7 430.7L285.2 429.4L287.7 428.6L290.2 428.3L292.7 428.3L295.2 428.5L297.7 429L300.2 429.5L302.7 430L305.2 430.2L307.7 430.2L310.2 429.9L312.7 429.5L315.2 429L317.7 428.5L320.2 428.1L322.7 427.9L325.2 427.9L327.7 428.1L330.2 428.6L332.7 429.2L335.2 429.8L337.7 430.3L340.2 430.9L342.7 431.6L345.2 433.3L347.7 436.5L350.2 441.1L352.7 447.3L355.2 454.4L357.7 461.4L360.2 466.6L362.7 467.3L365.2 463.6L365.3 463.4" stroke="#5f7ae1" stroke-width="1.60"/>
<path d="M77.7 421.8L80.2 422.5L82.7 423.1L85.2 423.8L87.7 424.5L90.2 425.4L92.7 426.7L95.2 428.5L97.7 430.6L100.2 432.8L102.7 434.8L105.2 436.4L107.7 437.4L110.2 438L112.7 438.8L115.2 440.6L117.7 443.9L120.2 447.9L122.7 451.8L125.2 455.6L127.7 458.8L130.2 460.7L132.7 460.4L135.2 457.2L137.7 452.3L140.2 446.9L142.7 441.3L145.2 436.3L147.7 432.2L150.2 429.3L152.7 427.5L155.2 426.5L157.7 426.3L160.2 426.7L162.7 427.4L165.2 427.9L167.7 428.3L170.2 428.5L172.7 428.9L175.2 430L177.7 432.1L180.2 436L182.7 442.1L185.2 449.2L187.7 456.1L190.2 461.5L192.7 463.5L195.2 459.5L197.7 452L200.2 444.8L202.7 438.7L205.2 433.7L207.7 430.1L210.2 427.7L212.7 426.2L215.2 425.2L217.7 424.7L220.2 424.6L222.7 425.1L225.2 426.3L227.7 428.5L230.2 432.4L232.7 438.4L235.2 445L237.7 451.9L240.2 459.1L242.7 465.5L245.2 470.4L247.7 473.5L250.2 474.6L252.7 473.1L255.2 468.7L257.7 463L260.2 457.2L262.7 451.4L265.2 446.4L267.7 442.4L270.2 439.5L272.7 437.6L275.2 436L277.7 433.9L280.2 431.7L282.7 430L285.2 428.6L287.7 427.8L290.2 427.5L292.7 427.5L295.2 427.7L297.7 428.2L300.2 428.7L302.7 429.2L305.2 429.5L307.7 429.4L310.2 429.1L312.7 428.7L315.2 428.2L317.7 427.7L320.2 427.3L322.7 427.1L325.2 427.1L327.7 427.3L330.2 427.8L332.7 428.5L335.2 429.1L337.7 429.6L340.2 430.1L342.7 430.9L345.2 432.7L347.7 435.9L350.2 440.6L352.7 446.9L355.2 454.2L357.7 461.2L360.2 466.4L362.7 467.1L365.2 463.5L365.3 463.3" stroke="#5c76dd" stroke-width="1.60"/>
<path d="M77.7 420.9L80.2 421.6L82.7 422.3L85.2 422.9L87.7 423.7L90.2 424.6L92.7 425.9L95.2 427.7L97.7 429.9L100.2 432.2L102.7 434.2L105.2 435.8L107.7 436.8L110.2 437.4L112.7 438.2L115.2 440.1L117.7 443.4L120.2 447.5L122.7 451.4L125.2 455.2L127.7 458.6L130.2 460.5L132.7 460.1L135.2 456.9L137.7 452L140.2 446.4L142.7 440.9L145.2 435.7L147.7 431.5L150.2 428.6L152.7 426.7L155.2 425.7L157.7 425.5L160.2 425.9L162.7 426.6L165.2 427.1L167.7 427.5L170.2 427.7L172.7 428.1L175.2 429.2L177.7 431.4L180.2 435.4L182.7 441.6L185.2 448.9L187.7 455.9L190.2 461.4L192.7 463.5L195.2 459.4L197.7 451.7L200.2 444.5L202.7 438.3L205.2 433.1L207.7 429.4L210.2 426.9L212.7 425.4L215.2 424.4L217.7 423.9L220.2 423.7L222.7 424.2L225.2 425.5L227.7 427.8L230.2 431.8L232.7 437.9L235.2 444.6L237.7 451.7L240.2 458.9L242.7 465.4L245.2 470.4L247.7 473.4L250.2 474.5L252.7 473L255.2 468.5L257.7 462.9L260.2 456.9L262.7 451.1L265.2 446L267.7 441.9L270.2 439L272.7 437.1L275.2 435.4L277.7 433.3L280.2 431L282.7 429.2L285.2 427.8L287.7 427L290.2 426.7L292.7 426.7L295.2 426.9L297.7 427.4L300.2 428L302.7 428.5L305.2 428.7L307.7 428.7L310.2 428.4L312.7 428L315.2 427.4L317.7 426.9L320.2 426.5L322.7 426.3L325.2 426.2L327.7 426.5L330.2 427L332.7 427.7L335.2 428.4L337.7 428.9L340.2 429.4L342.7 430.2L345.2 432L347.7 435.3L350.2 440.2L352.7 446.5L355.2 453.9L357.7 461L360.2 466.3L362.7 466.9L365.2 463.3L365.3 463.1" stroke="#5871da" stroke-width="1.60"/>
<path d="M77.7 420L80.2 420.7L82.7 421.4L85.2 422.1L87.7 422.8L90.2 423.7L92.7 425L95.2 426.9L97.7 429.2L100.2 431.5L102.7 433.6L105.2 435.2L107.7 436.3L110.2 436.9L112.7 437.6L115.2 439.5L117.7 442.9L120.2 447L122.7 451.1L125.2 454.9L127.7 458.3L130.2 460.3L132.7 459.9L135.2 456.7L137.7 451.7L140.2 446L142.7 440.4L145.2 435.1L147.7 430.9L150.2 427.8L152.7 425.9L155.2 424.9L157.7 424.6L160.2 425.1L162.7 425.8L165.2 426.3L167.7 426.7L170.2 426.9L172.7 427.4L175.2 428.4L177.7 430.6L180.2 434.8L182.7 441.1L185.2 448.6L187.7 455.7L190.2 461.4L192.7 463.4L195.2 459.3L197.7 451.5L200.2 444.1L202.7 437.8L205.2 432.5L207.7 428.7L210.2 426.2L212.7 424.5L215.2 423.5L217.7 423L220.2 422.9L222.7 423.3L225.2 424.7L227.7 427L230.2 431.1L232.7 437.4L235.2 444.3L237.7 451.4L240.2 458.7L242.7 465.3L245.2 470.3L247.7 473.4L250.2 474.5L252.7 472.9L255.2 468.4L257.7 462.8L260.2 456.7L262.7 450.9L265.2 445.6L267.7 441.4L270.2 438.5L272.7 436.5L275.2 434.8L277.7 432.7L280.2 430.3L282.7 428.5L285.2 427.1L287.7 426.2L290.2 425.8L292.7 425.9L295.2 426.1L297.7 426.6L300.2 427.2L302.7 427.7L305.2 428L307.7 427.9L310.2 427.6L312.7 427.2L315.2 426.7L317.7 426.1L320.2 425.7L322.7 425.4L325.2 425.4L327.7 425.7L330.2 426.2L332.7 426.9L335.2 427.6L337.7 428.2L340.2 428.7L342.7 429.5L345.2 431.4L347.7 434.7L350.2 439.7L352.7 446.2L355.2 453.6L357.7 460.8L360.2 466.1L362.7 466.8L365.2 463.1L365.3 462.9" stroke="#556cd6" stroke-width="1.60"/>
<path d="M77.7 419.1L80.2 419.8L82.7 420.5L85.2 421.2L87.7 421.9L90.2 422.9L92.7 424.2L95.2 426.2L97.7 428.5L100.2 430.8L102.7 433L105.2 434.7L107.7 435.7L110.2 436.3L112.7 437.1L115.2 439L117.7 442.4L120.2 446.6L122.7 450.7L125.2 454.6L127.7 458.1L130.2 460.1L132.7 459.7L135.2 456.4L137.7 451.3L140.2 445.6L142.7 439.9L145.2 434.6L147.7 430.2L150.2 427.1L152.7 425.1L155.2 424.1L157.7 423.8L160.2 424.3L162.7 424.9L165.2 425.5L167.7 425.9L170.2 426.1L172.7 426.6L175.2 427.6L177.7 429.9L180.2 434.1L182.7 440.6L185.2 448.2L187.7 455.5L190.2 461.3L192.7 463.4L195.2 459.1L197.7 451.2L200.2 443.7L202.7 437.3L205.2 431.9L207.7 428L210.2 425.4L212.7 423.7L215.2 422.7L217.7 422.1L220.2 422L222.7 422.5L225.2 423.8L227.7 426.2L230.2 430.4L232.7 436.8L235.2 443.9L237.7 451.1L240.2 458.5L242.7 465.2L245.2 470.2L247.7 473.3L250.2 474.4L252.7 472.8L255.2 468.3L257.7 462.6L260.2 456.5L262.7 450.6L265.2 445.2L267.7 441L270.2 437.9L272.7 435.9L275.2 434.2L277.7 432L280.2 429.6L282.7 427.7L285.2 426.3L287.7 425.4L290.2 425L292.7 425.1L295.2 425.3L297.7 425.8L300.2 426.4L302.7 427L305.2 427.2L307.7 427.2L310.2 426.9L312.7 426.4L315.2 425.9L317.7 425.3L320.2 424.9L322.7 424.6L325.2 424.6L327.7 424.9L330.2 425.4L332.7 426.2L335.2 426.9L337.7 427.4L340.2 428L342.7 428.8L345.2 430.7L347.7 434.2L350.2 439.2L352.7 445.8L355.2 453.3L357.7 460.6L360.2 465.9L362.7 466.6L365.2 462.9L365.3 462.7" stroke="#5066d1" stroke-width="1.60"/>
<path d="M77.7 418.2L80.2 418.9L82.7 419.6L85.2 420.3L87.7 421.1L90.2 422L92.7 423.4L95.2 425.4L97.7 427.8L100.2 430.2L102.7 432.3L105.2 434.1L107.7 435.2L110.2 435.7L112.7 436.5L115.2 438.4L117.7 441.9L120.2 446.2L122.7 450.3L125.2 454.3L127.7 457.8L130.2 459.9L132.7 459.5L135.2 456.1L137.7 451L140.2 445.2L142.7 439.4L145.2 434L147.7 429.5L150.2 426.4L152.7 424.4L155.2 423.2L157.7 423L160.2 423.4L162.7 424.1L165.2 424.7L167.7 425.1L170.2 425.3L172.7 425.8L175.2 426.9L177.7 429.2L180.2 433.5L182.7 440.2L185.2 447.9L187.7 455.4L190.2 461.2L192.7 463.3L195.2 459L197.7 451L200.2 443.4L202.7 436.8L205.2 431.3L207.7 427.2L210.2 424.6L212.7 422.9L215.2 421.8L217.7 421.2L220.2 421.1L222.7 421.6L225.2 423L227.7 425.4L230.2 429.8L232.7 436.3L235.2 443.5L237.7 450.9L240.2 458.4L242.7 465L245.2 470.1L247.7 473.2L250.2 474.3L252.7 472.8L255.2 468.2L257.7 462.5L260.2 456.3L262.7 450.3L265.2 444.9L267.7 440.5L270.2 437.4L272.7 435.4L275.2 433.6L277.7 431.4L280.2 428.9L282.7 427L285.2 425.5L287.7 424.6L290.2 424.2L292.7 424.3L295.2 424.5L297.7 425L300.2 425.6L302.7 426.2L305.2 426.4L307.7 426.4L310.2 426.1L312.7 425.7L315.2 425.1L317.7 424.5L320.2 424.1L322.7 423.8L325.2 423.8L327.7 424.1L330.2 424.6L332.7 425.4L335.2 426.1L337.7 426.7L340.2 427.3L342.7 428.1L345.2 430L347.7 433.6L350.2 438.7L352.7 445.4L355.2 453.1L357.7 460.4L360.2 465.7L362.7 466.4L365.2 462.7L365.3 462.6" stroke="#4d61cd" stroke-width="1.60"/>
<path d="M77.7 417.3L80.2 418L82.7 418.7L85.2 419.4L87.7 420.2L90.2 421.2L92.7 422.6L95.2 424.6L97.7 427L100.2 429.5L102.7 431.7L105.2 433.5L107.7 434.6L110.2 435.2L112.7 435.9L115.2 437.9L117.7 441.4L120.2 445.8L122.7 450L125.2 454L127.7 457.6L130.2 459.6L132.7 459.3L135.2 455.9L137.7 450.7L140.2 444.8L142.7 438.9L145.2 433.4L147.7 428.9L150.2 425.6L152.7 423.6L155.2 422.4L157.7 422.1L160.2 422.6L162.7 423.3L165.2 423.9L167.7 424.3L170.2 424.5L172.7 425L175.2 426.1L177.7 428.5L180.2 432.9L182.7 439.7L185.2 447.6L187.7 455.2L190.2 461.1L192.7 463.3L195.2 458.9L197.7 450.7L200.2 443L202.7 436.3L205.2 430.7L207.7 426.5L210.2 423.8L212.7 422L215.2 420.9L217.7 420.3L220.2 420.2L222.7 420.7L225.2 422.2L227.7 424.7L230.2 429.1L232.7 435.8L235.2 443.1L237.7 450.6L240.2 458.2L242.7 464.9L245.2 470L247.7 473.2L250.2 474.3L252.7 472.7L255.2 468.1L257.7 462.3L260.2 456.1L262.7 450L265.2 444.5L267.7 440L270.2 436.9L272.7 434.8L275.2 433L277.7 430.7L280.2 428.2L282.7 426.2L285.2 424.7L287.7 423.8L290.2 423.4L292.7 423.4L295.2 423.7L297.7 424.2L300.2 424.9L302.7 425.4L305.2 425.7L307.7 425.7L310.2 425.4L312.7 424.9L315.2 424.3L317.7 423.7L320.2 423.2L322.7 423L325.2 423L327.7 423.3L330.2 423.9L332.7 424.6L335.2 425.4L337.7 426L340.2 426.5L342.7 427.4L345.2 429.4L347.7 433L350.2 438.2L352.7 445.1L355.2 452.8L357.7 460.2L360.2 465.6L362.7 466.2L365.2 462.6L365.3 462.4" stroke="#3e51c5" stroke-width="1.60"/>
<path d="M77.7 416.4L80.2 417.1L82.7 417.9L85.2 418.6L87.7 419.3L90.2 420.3L92.7 421.7L95.2 423.8L97.7 426.3L100.2 428.8L102.7 431.1L105.2 432.9L107.7 434L110.2 434.6L112.7 435.3L115.2 437.3L117.7 440.9L120.2 445.4L122.7 449.6L125.2 453.7L127.7 457.3L130.2 459.4L132.7 459L135.2 455.6L137.7 450.3L140.2 444.4L142.7 438.4L145.2 432.8L147.7 428.2L150.2 424.9L152.7 422.8L155.2 421.6L157.7 421.3L160.2 421.8L162.7 422.5L165.2 423.1L167.7 423.5L170.2 423.7L172.7 424.2L175.2 425.3L177.7 427.7L180.2 432.2L182.7 439.2L185.2 447.3L187.7 455L190.2 461L192.7 463.2L195.2 458.8L197.7 450.5L200.2 442.7L202.7 435.8L205.2 430.1L207.7 425.8L210.2 423L212.7 421.2L215.2 420.1L217.7 419.5L220.2 419.3L222.7 419.8L225.2 421.3L227.7 423.9L230.2 428.4L232.7 435.3L235.2 442.8L237.7 450.3L240.2 458L242.7 464.8L245.2 469.9L247.7 473.1L250.2 474.2L252.7 472.6L255.2 468L257.7 462.2L260.2 455.9L262.7 449.7L265.2 444.1L267.7 439.6L270.2 436.3L272.7 434.2L275.2 432.4L277.7 430.1L280.2 427.5L282.7 425.5L285.2 423.9L287.7 423L290.2 422.6L292.7 422.6L295.2 422.9L297.7 423.4L300.2 424.1L302.7 424.7L305.2 424.9L307.7 424.9L310.2 424.6L312.7 424.1L315.2 423.5L317.7 422.9L320.2 422.4L322.7 422.1L325.2 422.1L327.7 422.5L330.2 423.1L332.7 423.9L335.2 424.6L337.7 425.2L340.2 425.8L342.7 426.7L345.2 428.7L347.7 432.4L350.2 437.8L352.7 444.7L355.2 452.5L357.7 460L360.2 465.4L362.7 466L365.2 462.4L365.3 462.2" stroke="#3b4cc0" stroke-width="1.60"/>
</g>
<path d="M77.7 416.6L80.2 417.3L82.7 418.1L85.2 418.8L87.7 419.5L90.2 420.5L92.7 421.9L95.2 424L97.7 426.5L100.2 429L102.7 431.3L105.2 433.1L107.7 434.2L110.2 434.8L112.7 435.5L115.2 437.5L117.7 441.1L120.2 445.6L122.7 449.8L125.2 453.9L127.7 457.5L130.2 459.6L132.7 459.2L135.2 455.8L137.7 450.5L140.2 444.6L142.7 438.6L145.2 433L147.7 428.4L150.2 425.1L152.7 423L155.2 421.8L157.7 421.5L160.2 422L162.7 422.7L165.2 423.3L167.7 423.7L170.2 423.9L172.7 424.4L175.2 425.5L177.7 427.9L180.2 432.4L182.7 439.4L185.2 447.5L187.7 455.2L190.2 461.2L192.7 463.4L195.2 459L197.7 450.7L200.2 442.9L202.7 436L205.2 430.3L207.7 426L210.2 423.2L212.7 421.4L215.2 420.3L217.7 419.7L220.2 419.5L222.7 420L225.2 421.5L227.7 424.1L230.2 428.6L232.7 435.5L235.2 443L237.7 450.5L240.2 458.2L242.7 465L245.2 470.1L247.7 473.3L250.2 474.4L252.7 472.8L255.2 468.2L257.7 462.4L260.2 456.1L262.7 449.9L265.2 444.3L267.7 439.8L270.2 436.5L272.7 434.4L275.2 432.6L277.7 430.3L280.2 427.7L282.7 425.7L285.2 424.1L287.7 423.2L290.2 422.8L292.7 422.8L295.2 423.1L297.7 423.6L300.2 424.3L302.7 424.9L305.2 425.1L307.7 425.1L310.2 424.8L312.7 424.3L315.2 423.7L317.7 423.1L320.2 422.6L322.7 422.3L325.2 422.3L327.7 422.7L330.2 423.3L332.7 424.1L335.2 424.8L337.7 425.4L340.2 426L342.7 426.9L345.2 428.9L347.7 432.6L350.2 438L352.7 444.9L355.2 452.7L357.7 460.2L360.2 465.6L362.7 466.2L365.2 462.6L365.3 462.4" fill="none" stroke="#3b4cc0" stroke-width="1.5" stroke-linejoin="round"/>
<g stroke="#000" stroke-opacity="0.07" stroke-width="0.8"><line x1="112.8" y1="304.0" x2="112.8" y2="488.4"/><line x1="170.2" y1="304.0" x2="170.2" y2="488.4"/><line x1="227.5" y1="304.0" x2="227.5" y2="488.4"/><line x1="284.9" y1="304.0" x2="284.9" y2="488.4"/><line x1="342.2" y1="304.0" x2="342.2" y2="488.4"/><line x1="97.7" y1="349.4" x2="365.3" y2="349.4" stroke-dasharray="5 9" stroke-opacity="0.1"/></g>
<line x1="77.7" y1="480.3" x2="365.3" y2="480.3" stroke="#c4202e" stroke-width="1.9"/>
<rect x="64.6" y="304.0" width="315.0" height="184.4" fill="none" stroke="#111" stroke-width="1"/>
<g stroke="#1a1a1a" stroke-width="0.8"><line x1="112.8" y1="488.4" x2="112.8" y2="491.7"/><line x1="170.2" y1="488.4" x2="170.2" y2="491.7"/><line x1="227.5" y1="488.4" x2="227.5" y2="491.7"/><line x1="284.9" y1="488.4" x2="284.9" y2="491.7"/><line x1="342.2" y1="488.4" x2="342.2" y2="491.7"/><line x1="87.1" y1="304.0" x2="87.1" y2="300.7"/><line x1="135.5" y1="304.0" x2="135.5" y2="300.7"/><line x1="184.0" y1="304.0" x2="184.0" y2="300.7"/><line x1="232.7" y1="304.0" x2="232.7" y2="300.7"/><line x1="281.5" y1="304.0" x2="281.5" y2="300.7"/><line x1="330.5" y1="304.0" x2="330.5" y2="300.7"/><line x1="379.6" y1="304.0" x2="379.6" y2="300.7"/><line x1="64.6" y1="349.4" x2="61.3" y2="349.4"/><line x1="64.6" y1="415.4" x2="61.3" y2="415.4"/><line x1="64.6" y1="480.6" x2="61.3" y2="480.6"/></g><g stroke="#1a1a1a" stroke-width="0.6"><line x1="64.6" y1="329.5" x2="62.6" y2="329.5"/><line x1="64.6" y1="317.9" x2="62.6" y2="317.9"/><line x1="64.6" y1="309.7" x2="62.6" y2="309.7"/><line x1="64.6" y1="395.5" x2="62.6" y2="395.5"/><line x1="64.6" y1="383.9" x2="62.6" y2="383.9"/><line x1="64.6" y1="375.7" x2="62.6" y2="375.7"/><line x1="64.6" y1="369.3" x2="62.6" y2="369.3"/><line x1="64.6" y1="364.0" x2="62.6" y2="364.0"/><line x1="64.6" y1="359.6" x2="62.6" y2="359.6"/><line x1="64.6" y1="355.8" x2="62.6" y2="355.8"/><line x1="64.6" y1="352.4" x2="62.6" y2="352.4"/><line x1="64.6" y1="461.5" x2="62.6" y2="461.5"/><line x1="64.6" y1="449.9" x2="62.6" y2="449.9"/><line x1="64.6" y1="441.7" x2="62.6" y2="441.7"/><line x1="64.6" y1="435.3" x2="62.6" y2="435.3"/><line x1="64.6" y1="430.0" x2="62.6" y2="430.0"/><line x1="64.6" y1="425.6" x2="62.6" y2="425.6"/><line x1="64.6" y1="421.8" x2="62.6" y2="421.8"/><line x1="64.6" y1="418.4" x2="62.6" y2="418.4"/><line x1="64.6" y1="487.8" x2="62.6" y2="487.8"/><line x1="64.6" y1="484.4" x2="62.6" y2="484.4"/></g>
<g class="s" font-size="9.7" text-anchor="middle"><text x="112.5" y="503.2">2905</text><text x="169.8" y="503.2">2910</text><text x="227.2" y="503.2">2915</text><text x="284.6" y="503.2">2920</text><text x="341.9" y="503.2">2925</text><text x="86.7" y="296.1">3.445</text><text x="135.1" y="296.1">3.440</text><text x="183.6" y="296.1">3.435</text><text x="232.3" y="296.1">3.430</text><text x="281.1" y="296.1">3.425</text><text x="330.1" y="296.1">3.420</text><text x="379.2" y="296.1">3.415</text></g>
<g class="s" font-size="9.4"><text x="38.0" y="354.3">10<tspan font-size="5.2" dx="1.4" dy="-8.4" stroke="#111" stroke-width="0.35">−</tspan><tspan font-size="7.3" dx="0.1" dy="0.4" stroke="#111" stroke-width="0.25">8</tspan></text><text x="38.0" y="420.3">10<tspan font-size="5.2" dx="1.4" dy="-8.4" stroke="#111" stroke-width="0.35">−</tspan><tspan font-size="7.3" dx="0.1" dy="0.4" stroke="#111" stroke-width="0.25">9</tspan></text><text x="32.9" y="485.5">10<tspan font-size="5.2" dx="1.4" dy="-8.4" stroke="#111" stroke-width="0.35">−</tspan><tspan font-size="7.3" dx="0.1" dy="0.4" stroke="#111" stroke-width="0.25">10</tspan></text></g>
<text class="f" font-size="14.6" text-anchor="middle" transform="translate(23.6 398.2) rotate(-90)">P, W</text>
<text class="f" font-size="10.4" x="185.4" y="284.6" textLength="73.4" lengthAdjust="spacingAndGlyphs">Wavelength, <tspan font-style="italic">μ</tspan>m</text>
<text class="f" font-size="14.6" x="161.8" y="520.8" textLength="104.6" lengthAdjust="spacing">Wavenumber, cm</text>
<text class="f" font-size="8.4" x="269.2" y="515" textLength="10.4" lengthAdjust="spacing">−1</text>
<text class="f" font-size="13.2" font-weight="bold" x="247.4" y="541.2" text-anchor="middle">(b)</text>
<linearGradient id="cbg" x1="0" y1="0" x2="0" y2="1"><stop offset="0.000" stop-color="#b40426"/><stop offset="0.025" stop-color="#bd1f2d"/><stop offset="0.050" stop-color="#c53334"/><stop offset="0.075" stop-color="#cf453c"/><stop offset="0.100" stop-color="#d65244"/><stop offset="0.125" stop-color="#dd5f4b"/><stop offset="0.150" stop-color="#e36c55"/><stop offset="0.175" stop-color="#e9785d"/><stop offset="0.200" stop-color="#ee8468"/><stop offset="0.225" stop-color="#f18f71"/><stop offset="0.250" stop-color="#f4987a"/><stop offset="0.275" stop-color="#f6a385"/><stop offset="0.300" stop-color="#f7ac8e"/><stop offset="0.325" stop-color="#f7b599"/><stop offset="0.350" stop-color="#f6bda2"/><stop offset="0.375" stop-color="#f5c4ac"/><stop offset="0.400" stop-color="#f2cbb7"/><stop offset="0.425" stop-color="#eed0c0"/><stop offset="0.450" stop-color="#e9d5cb"/><stop offset="0.475" stop-color="#e3d9d3"/><stop offset="0.500" stop-color="#dddcdc"/><stop offset="0.525" stop-color="#d6dce4"/><stop offset="0.550" stop-color="#cfdaea"/><stop offset="0.575" stop-color="#c7d7f0"/><stop offset="0.600" stop-color="#c0d4f5"/><stop offset="0.625" stop-color="#b9d0f9"/><stop offset="0.650" stop-color="#afcafc"/><stop offset="0.675" stop-color="#a7c5fe"/><stop offset="0.700" stop-color="#9ebeff"/><stop offset="0.725" stop-color="#96b7ff"/><stop offset="0.750" stop-color="#8db0fe"/><stop offset="0.775" stop-color="#84a7fc"/><stop offset="0.800" stop-color="#7b9ff9"/><stop offset="0.825" stop-color="#7295f4"/><stop offset="0.850" stop-color="#6a8bef"/><stop offset="0.875" stop-color="#6282ea"/><stop offset="0.900" stop-color="#5977e3"/><stop offset="0.925" stop-color="#516ddb"/><stop offset="0.950" stop-color="#4961d2"/><stop offset="0.975" stop-color="#4257c9"/><stop offset="1.000" stop-color="#3b4cc0"/></linearGradient>
<rect x="405.4" y="299.3" width="27.0" height="189.6" fill="url(#cbg)" stroke="#1a1a1a" stroke-width="0.8"/>
<g stroke="#1a1a1a" stroke-width="0.8"><line x1="432.4" y1="299.3" x2="435.6" y2="299.3"/><line x1="432.4" y1="323.0" x2="435.6" y2="323.0"/><line x1="432.4" y1="346.7" x2="435.6" y2="346.7"/><line x1="432.4" y1="370.4" x2="435.6" y2="370.4"/><line x1="432.4" y1="394.1" x2="435.6" y2="394.1"/><line x1="432.4" y1="417.8" x2="435.6" y2="417.8"/><line x1="432.4" y1="441.5" x2="435.6" y2="441.5"/><line x1="432.4" y1="465.2" x2="435.6" y2="465.2"/><line x1="432.4" y1="488.9" x2="435.6" y2="488.9"/></g>
<g class="s" font-size="9.7"><text x="438.1" y="302.9">0.00</text><text x="438.1" y="326.6">0.25</text><text x="438.1" y="350.3">0.50</text><text x="438.1" y="374.0">0.75</text><text x="438.1" y="397.7">1.00</text><text x="438.1" y="421.4">1.25</text><text x="438.1" y="445.1">1.50</text><text x="438.1" y="468.8">1.75</text><text x="438.1" y="492.5">2.00</text></g>
<text class="f" font-size="14.6" text-anchor="middle" transform="translate(476.6 394) rotate(-90)">Altitude, km</text>
</g>
</svg>
</body></html>
